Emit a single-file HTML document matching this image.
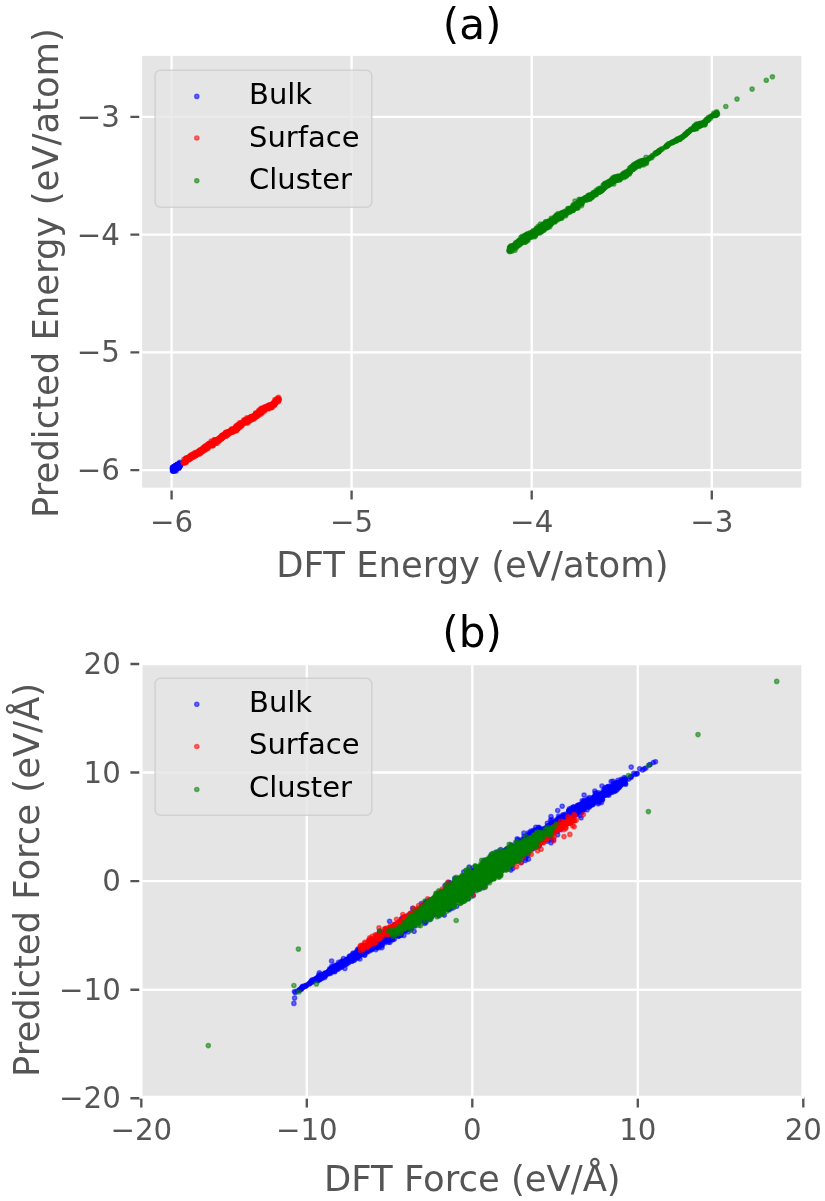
<!DOCTYPE html>
<html><head><meta charset="utf-8"><title>Parity plots</title>
<style>html,body{margin:0;padding:0;background:#fff;width:825px;height:1201px;overflow:hidden}svg{display:block}</style>
</head><body><svg width="825" height="1201" viewBox="0 0 825 1201" font-family="'DejaVu Sans', 'Liberation Sans', sans-serif"><rect width="825" height="1201" fill="#fff"/><rect x="140.7" y="54.4" width="662.1" height="434.7" fill="#e5e5e5"/><path d="M171.6 54.4V489.1M351.6 54.4V489.1M531.7 54.4V489.1M711.8 54.4V489.1M140.7 470.1H802.8M140.7 352.4H802.8M140.7 234.6H802.8M140.7 116.9H802.8" stroke="#fff" stroke-width="2.35" fill="none"/><path d="M171.6 489.1v10.3M351.6 489.1v10.3M531.7 489.1v10.3M711.8 489.1v10.3M140.7 470.1h-10.3M140.7 352.4h-10.3M140.7 234.6h-10.3M140.7 116.9h-10.3" stroke="#555" stroke-width="2.35" fill="none"/><g fill="#0000ff" fill-opacity="0.55" stroke="#0000ff" stroke-opacity="0.55" stroke-width="1.4"><circle cx="177.3" cy="464.4" r="2.1"/><circle cx="179.4" cy="465.7" r="2.1"/><circle cx="178.5" cy="466.8" r="2.1"/><circle cx="174.2" cy="468" r="2.1"/><circle cx="174.8" cy="466.3" r="2.1"/><circle cx="179.3" cy="466.8" r="2.1"/><circle cx="172.5" cy="469.7" r="2.1"/><circle cx="178.9" cy="466.1" r="2.1"/><circle cx="178.7" cy="467.5" r="2.1"/><circle cx="176.1" cy="466.3" r="2.1"/><circle cx="174.5" cy="469.1" r="2.1"/><circle cx="180.2" cy="465.8" r="2.1"/><circle cx="178.6" cy="466.9" r="2.1"/><circle cx="177.3" cy="464.8" r="2.1"/><circle cx="180.2" cy="465.1" r="2.1"/><circle cx="174.2" cy="468.1" r="2.1"/><circle cx="173.7" cy="468.7" r="2.1"/><circle cx="172.8" cy="469.9" r="2.1"/><circle cx="172.8" cy="468.6" r="2.1"/><circle cx="179.6" cy="464.8" r="2.1"/><circle cx="177.4" cy="464.9" r="2.1"/><circle cx="176.5" cy="466.1" r="2.1"/><circle cx="172.6" cy="471.1" r="2.1"/><circle cx="174" cy="467.4" r="2.1"/><circle cx="177.9" cy="464.9" r="2.1"/><circle cx="175.4" cy="467" r="2.1"/><circle cx="172.5" cy="468.6" r="2.1"/><circle cx="178.9" cy="464.3" r="2.1"/><circle cx="173.7" cy="467.6" r="2.1"/><circle cx="179.3" cy="463.3" r="2.1"/><circle cx="176.4" cy="468.4" r="2.1"/><circle cx="179.1" cy="464.2" r="2.1"/><circle cx="177.5" cy="465.7" r="2.1"/><circle cx="178.2" cy="464.7" r="2.1"/><circle cx="173.2" cy="466.8" r="2.1"/><circle cx="176.7" cy="465" r="2.1"/><circle cx="176.4" cy="468.3" r="2.1"/><circle cx="179.2" cy="467.1" r="2.1"/><circle cx="175.3" cy="466.7" r="2.1"/><circle cx="177.1" cy="467.7" r="2.1"/><circle cx="173" cy="469.2" r="2.1"/><circle cx="175.5" cy="466.6" r="2.1"/><circle cx="175" cy="469.8" r="2.1"/><circle cx="173.7" cy="471.2" r="2.1"/><circle cx="178.8" cy="465.1" r="2.1"/><circle cx="180.1" cy="464.8" r="2.1"/><circle cx="177.2" cy="467.5" r="2.1"/><circle cx="177.4" cy="468.1" r="2.1"/><circle cx="173.7" cy="469.9" r="2.1"/><circle cx="175.9" cy="469.2" r="2.1"/><circle cx="174.4" cy="467.7" r="2.1"/><circle cx="173.2" cy="468.5" r="2.1"/><circle cx="180" cy="465.8" r="2.1"/><circle cx="177.7" cy="467.3" r="2.1"/><circle cx="174.8" cy="469" r="2.1"/><circle cx="179.3" cy="464.8" r="2.1"/><circle cx="177.6" cy="467.1" r="2.1"/><circle cx="173.5" cy="468.4" r="2.1"/><circle cx="179" cy="464.8" r="2.1"/><circle cx="179.8" cy="462.3" r="2.1"/><circle cx="179.5" cy="466.6" r="2.1"/><circle cx="176.9" cy="465.6" r="2.1"/><circle cx="173.6" cy="468.9" r="2.1"/><circle cx="174" cy="468.5" r="2.1"/><circle cx="179.7" cy="466.5" r="2.1"/><circle cx="176.8" cy="467.2" r="2.1"/><circle cx="173.9" cy="467.7" r="2.1"/><circle cx="179.3" cy="465.1" r="2.1"/><circle cx="177.5" cy="466.2" r="2.1"/><circle cx="176.9" cy="467" r="2.1"/><circle cx="175.4" cy="466.2" r="2.1"/><circle cx="174.4" cy="470.9" r="2.1"/><circle cx="172.8" cy="470.1" r="2.1"/><circle cx="179.3" cy="467.4" r="2.1"/><circle cx="176.1" cy="471" r="2.1"/><circle cx="176.7" cy="467.4" r="2.1"/><circle cx="175" cy="466.3" r="2.1"/><circle cx="178.3" cy="465.6" r="2.1"/><circle cx="172.7" cy="470.8" r="2.1"/><circle cx="175.4" cy="468.7" r="2.1"/><circle cx="172.7" cy="468" r="2.1"/><circle cx="173.5" cy="468.7" r="2.1"/><circle cx="180" cy="464.5" r="2.1"/><circle cx="177.6" cy="466.2" r="2.1"/><circle cx="176.6" cy="465.9" r="2.1"/><circle cx="179.3" cy="464.4" r="2.1"/><circle cx="177.1" cy="467.7" r="2.1"/><circle cx="177.8" cy="465.4" r="2.1"/><circle cx="175.3" cy="468.5" r="2.1"/><circle cx="176.5" cy="465.6" r="2.1"/><circle cx="178.4" cy="467.1" r="2.1"/><circle cx="179.5" cy="465.1" r="2.1"/><circle cx="173.7" cy="468.7" r="2.1"/><circle cx="179.7" cy="466.3" r="2.1"/><circle cx="172.5" cy="467.4" r="2.1"/><circle cx="178.3" cy="464" r="2.1"/><circle cx="178.8" cy="465.9" r="2.1"/><circle cx="173.6" cy="467.9" r="2.1"/><circle cx="175.7" cy="466.9" r="2.1"/><circle cx="178.8" cy="468.5" r="2.1"/><circle cx="172.6" cy="469.1" r="2.1"/><circle cx="177.4" cy="466.4" r="2.1"/><circle cx="178.6" cy="465.4" r="2.1"/><circle cx="176.5" cy="468.2" r="2.1"/><circle cx="178.1" cy="466.1" r="2.1"/><circle cx="174.3" cy="468.6" r="2.1"/><circle cx="174" cy="467.1" r="2.1"/><circle cx="175.3" cy="467.3" r="2.1"/><circle cx="173.9" cy="468.6" r="2.1"/><circle cx="175.2" cy="465.9" r="2.1"/><circle cx="179.8" cy="465.4" r="2.1"/><circle cx="176.9" cy="467.1" r="2.1"/><circle cx="175.1" cy="469.9" r="2.1"/><circle cx="174.6" cy="466.3" r="2.1"/><circle cx="179.9" cy="463.5" r="2.1"/><circle cx="175.9" cy="466.2" r="2.1"/><circle cx="180.1" cy="463.8" r="2.1"/><circle cx="176.5" cy="466.8" r="2.1"/><circle cx="176.5" cy="466.6" r="2.1"/><circle cx="179.4" cy="465.3" r="2.1"/><circle cx="178.3" cy="466" r="2.1"/><circle cx="177" cy="466.5" r="2.1"/><circle cx="175.8" cy="465.6" r="2.1"/><circle cx="179.3" cy="464.4" r="2.1"/><circle cx="175.7" cy="467.5" r="2.1"/><circle cx="179.6" cy="465.5" r="2.1"/><circle cx="173" cy="469.9" r="2.1"/><circle cx="175.8" cy="465.4" r="2.1"/><circle cx="176.5" cy="466.3" r="2.1"/><circle cx="179.9" cy="464.6" r="2.1"/><circle cx="174.4" cy="468.6" r="2.1"/><circle cx="178.7" cy="466.7" r="2.1"/><circle cx="177.7" cy="466.2" r="2.1"/><circle cx="178.1" cy="464.8" r="2.1"/><circle cx="177.4" cy="466.8" r="2.1"/><circle cx="180" cy="464.9" r="2.1"/><circle cx="175.1" cy="468.1" r="2.1"/><circle cx="175.6" cy="467.4" r="2.1"/><circle cx="174.1" cy="470.3" r="2.1"/><circle cx="172.9" cy="469.5" r="2.1"/></g><g fill="#ff0000" fill-opacity="0.55" stroke="#ff0000" stroke-opacity="0.55" stroke-width="1.4"><circle cx="251.6" cy="417.1" r="2.1"/><circle cx="262.4" cy="409" r="2.1"/><circle cx="271.6" cy="404.7" r="2.1"/><circle cx="194.8" cy="452.6" r="2.1"/><circle cx="191.8" cy="457.4" r="2.1"/><circle cx="278.1" cy="399.4" r="2.1"/><circle cx="194.2" cy="455.7" r="2.1"/><circle cx="200" cy="449.9" r="2.1"/><circle cx="238.3" cy="424.9" r="2.1"/><circle cx="225.9" cy="436.2" r="2.1"/><circle cx="255.2" cy="416.7" r="2.1"/><circle cx="201.3" cy="450.2" r="2.1"/><circle cx="271" cy="404.8" r="2.1"/><circle cx="203.9" cy="448.1" r="2.1"/><circle cx="189.5" cy="457.5" r="2.1"/><circle cx="228.5" cy="431.9" r="2.1"/><circle cx="186.1" cy="460.5" r="2.1"/><circle cx="213.2" cy="442" r="2.1"/><circle cx="213" cy="445.5" r="2.1"/><circle cx="252.3" cy="417" r="2.1"/><circle cx="226.8" cy="434.7" r="2.1"/><circle cx="188.4" cy="457.7" r="2.1"/><circle cx="278.8" cy="399.9" r="2.1"/><circle cx="268.5" cy="408" r="2.1"/><circle cx="271.2" cy="405.1" r="2.1"/><circle cx="206.7" cy="447.7" r="2.1"/><circle cx="220.9" cy="438.9" r="2.1"/><circle cx="204.8" cy="449.8" r="2.1"/><circle cx="195" cy="455" r="2.1"/><circle cx="186.1" cy="459.9" r="2.1"/><circle cx="231.4" cy="430" r="2.1"/><circle cx="194.8" cy="455.2" r="2.1"/><circle cx="199.9" cy="450.8" r="2.1"/><circle cx="265.8" cy="408.3" r="2.1"/><circle cx="229.6" cy="432.1" r="2.1"/><circle cx="200.6" cy="450.8" r="2.1"/><circle cx="247.5" cy="419.1" r="2.1"/><circle cx="208.6" cy="445.9" r="2.1"/><circle cx="233.7" cy="430.2" r="2.1"/><circle cx="210.2" cy="444.7" r="2.1"/><circle cx="232.7" cy="430.4" r="2.1"/><circle cx="243.5" cy="423.6" r="2.1"/><circle cx="234.6" cy="428.3" r="2.1"/><circle cx="221.1" cy="438.2" r="2.1"/><circle cx="259.1" cy="412.2" r="2.1"/><circle cx="267.1" cy="408.6" r="2.1"/><circle cx="200.2" cy="451.4" r="2.1"/><circle cx="196.1" cy="453.9" r="2.1"/><circle cx="193.8" cy="455.9" r="2.1"/><circle cx="277.3" cy="398.7" r="2.1"/><circle cx="273.6" cy="403.5" r="2.1"/><circle cx="205.2" cy="446" r="2.1"/><circle cx="276.4" cy="400.6" r="2.1"/><circle cx="203" cy="450.3" r="2.1"/><circle cx="231.7" cy="431.4" r="2.1"/><circle cx="230.9" cy="430.9" r="2.1"/><circle cx="271.1" cy="405.6" r="2.1"/><circle cx="186.8" cy="459.8" r="2.1"/><circle cx="213.3" cy="443.3" r="2.1"/><circle cx="240.7" cy="426.7" r="2.1"/><circle cx="189.3" cy="458.3" r="2.1"/><circle cx="205.7" cy="449.8" r="2.1"/><circle cx="227.7" cy="432.6" r="2.1"/><circle cx="267.8" cy="408.2" r="2.1"/><circle cx="256.2" cy="415.7" r="2.1"/><circle cx="262.8" cy="410.2" r="2.1"/><circle cx="251.1" cy="419.9" r="2.1"/><circle cx="264.8" cy="410.7" r="2.1"/><circle cx="248.6" cy="420.8" r="2.1"/><circle cx="253.8" cy="418.9" r="2.1"/><circle cx="212" cy="444.7" r="2.1"/><circle cx="199.1" cy="450.8" r="2.1"/><circle cx="255.8" cy="416.4" r="2.1"/><circle cx="198.9" cy="452" r="2.1"/><circle cx="271.5" cy="406.8" r="2.1"/><circle cx="240.4" cy="424.7" r="2.1"/><circle cx="214.7" cy="442.6" r="2.1"/><circle cx="273.2" cy="404.3" r="2.1"/><circle cx="197.9" cy="452.7" r="2.1"/><circle cx="232.5" cy="428.7" r="2.1"/><circle cx="191.8" cy="456.4" r="2.1"/><circle cx="275.9" cy="401.9" r="2.1"/><circle cx="238.4" cy="427.7" r="2.1"/><circle cx="260.4" cy="411.1" r="2.1"/><circle cx="210.1" cy="444.9" r="2.1"/><circle cx="260.2" cy="410.9" r="2.1"/><circle cx="244.9" cy="419.8" r="2.1"/><circle cx="274.5" cy="405.3" r="2.1"/><circle cx="224.7" cy="435.2" r="2.1"/><circle cx="222.9" cy="435.3" r="2.1"/><circle cx="249.6" cy="419.5" r="2.1"/><circle cx="263.4" cy="410.5" r="2.1"/><circle cx="215.2" cy="442.2" r="2.1"/><circle cx="247.4" cy="421.7" r="2.1"/><circle cx="203.1" cy="449.4" r="2.1"/><circle cx="236.1" cy="425.8" r="2.1"/><circle cx="257" cy="413.1" r="2.1"/><circle cx="189.2" cy="459.3" r="2.1"/><circle cx="253.1" cy="418.1" r="2.1"/><circle cx="184.4" cy="462.2" r="2.1"/><circle cx="275.3" cy="401.5" r="2.1"/><circle cx="228.1" cy="433.7" r="2.1"/><circle cx="222.3" cy="437.5" r="2.1"/><circle cx="252.3" cy="416.7" r="2.1"/><circle cx="233.4" cy="429.2" r="2.1"/><circle cx="253.3" cy="417.4" r="2.1"/><circle cx="191.1" cy="458.1" r="2.1"/><circle cx="237.2" cy="429.3" r="2.1"/><circle cx="236.7" cy="428.7" r="2.1"/><circle cx="272.7" cy="406.9" r="2.1"/><circle cx="186.8" cy="459.1" r="2.1"/><circle cx="226.6" cy="434.4" r="2.1"/><circle cx="243.7" cy="422" r="2.1"/><circle cx="236" cy="426.5" r="2.1"/><circle cx="190.1" cy="456.3" r="2.1"/><circle cx="240.1" cy="426.5" r="2.1"/><circle cx="204.3" cy="447.6" r="2.1"/><circle cx="201.8" cy="449.3" r="2.1"/><circle cx="267.6" cy="408.3" r="2.1"/><circle cx="202" cy="451.4" r="2.1"/><circle cx="226.7" cy="433.7" r="2.1"/><circle cx="255.2" cy="417.4" r="2.1"/><circle cx="251.1" cy="416.8" r="2.1"/><circle cx="236.3" cy="430.8" r="2.1"/><circle cx="260.7" cy="412.6" r="2.1"/><circle cx="227.8" cy="433.2" r="2.1"/><circle cx="242.7" cy="423.5" r="2.1"/><circle cx="261.8" cy="410.5" r="2.1"/><circle cx="248.3" cy="419.5" r="2.1"/><circle cx="244.8" cy="422" r="2.1"/><circle cx="222.1" cy="435.8" r="2.1"/><circle cx="236.7" cy="430.2" r="2.1"/><circle cx="221.1" cy="437.7" r="2.1"/><circle cx="254.6" cy="416.9" r="2.1"/><circle cx="219.6" cy="438.8" r="2.1"/><circle cx="227.9" cy="432.7" r="2.1"/><circle cx="255.7" cy="416.3" r="2.1"/><circle cx="231.5" cy="431.8" r="2.1"/><circle cx="215.5" cy="440.9" r="2.1"/><circle cx="262.6" cy="409.8" r="2.1"/><circle cx="219.6" cy="439.6" r="2.1"/><circle cx="264.3" cy="407" r="2.1"/><circle cx="258.6" cy="410.6" r="2.1"/><circle cx="226" cy="435.6" r="2.1"/><circle cx="251.6" cy="417.8" r="2.1"/><circle cx="186.3" cy="457.7" r="2.1"/><circle cx="220.5" cy="437.4" r="2.1"/><circle cx="265.8" cy="408.1" r="2.1"/><circle cx="238.8" cy="426.6" r="2.1"/><circle cx="236.7" cy="428.6" r="2.1"/><circle cx="247" cy="420.7" r="2.1"/><circle cx="248.2" cy="420.4" r="2.1"/><circle cx="239.2" cy="425.3" r="2.1"/><circle cx="223.5" cy="436.3" r="2.1"/><circle cx="200.6" cy="451.9" r="2.1"/><circle cx="211.1" cy="445.4" r="2.1"/><circle cx="211.2" cy="444.1" r="2.1"/><circle cx="224.4" cy="436.1" r="2.1"/><circle cx="279.2" cy="399.6" r="2.1"/><circle cx="216.9" cy="439.8" r="2.1"/><circle cx="218.7" cy="439.1" r="2.1"/><circle cx="239" cy="425.8" r="2.1"/><circle cx="274.3" cy="403.3" r="2.1"/><circle cx="268.6" cy="407.1" r="2.1"/><circle cx="219.3" cy="439.5" r="2.1"/><circle cx="208.7" cy="444.7" r="2.1"/><circle cx="268.1" cy="408.4" r="2.1"/><circle cx="230.5" cy="430.2" r="2.1"/><circle cx="249" cy="419.4" r="2.1"/><circle cx="190" cy="458.4" r="2.1"/><circle cx="266.4" cy="408.6" r="2.1"/><circle cx="213.1" cy="443.8" r="2.1"/><circle cx="230.6" cy="431.4" r="2.1"/><circle cx="202" cy="451.1" r="2.1"/><circle cx="223.4" cy="434.7" r="2.1"/><circle cx="262.7" cy="410.9" r="2.1"/><circle cx="262.7" cy="412.5" r="2.1"/><circle cx="228.6" cy="433.3" r="2.1"/><circle cx="256.9" cy="416.5" r="2.1"/><circle cx="227.1" cy="433.4" r="2.1"/><circle cx="218.9" cy="438.4" r="2.1"/><circle cx="235.5" cy="428.1" r="2.1"/><circle cx="202.3" cy="451.5" r="2.1"/><circle cx="213.4" cy="443.7" r="2.1"/><circle cx="251" cy="416.5" r="2.1"/><circle cx="257.2" cy="413.9" r="2.1"/><circle cx="188.4" cy="458.7" r="2.1"/><circle cx="253.5" cy="415.8" r="2.1"/><circle cx="261.7" cy="408.1" r="2.1"/><circle cx="225.8" cy="432.8" r="2.1"/><circle cx="189" cy="458.2" r="2.1"/><circle cx="248.7" cy="419.2" r="2.1"/><circle cx="206.7" cy="446.1" r="2.1"/><circle cx="244.9" cy="422.4" r="2.1"/><circle cx="219.2" cy="440.4" r="2.1"/><circle cx="244.3" cy="422" r="2.1"/><circle cx="207.8" cy="447" r="2.1"/><circle cx="228.8" cy="432.5" r="2.1"/><circle cx="233.5" cy="430" r="2.1"/><circle cx="243.7" cy="420" r="2.1"/><circle cx="202.5" cy="450.9" r="2.1"/><circle cx="275.6" cy="402.4" r="2.1"/><circle cx="210.8" cy="444.4" r="2.1"/><circle cx="212.4" cy="443" r="2.1"/><circle cx="207.6" cy="445" r="2.1"/><circle cx="189.4" cy="458.5" r="2.1"/><circle cx="223.7" cy="436.6" r="2.1"/><circle cx="257.3" cy="415.8" r="2.1"/><circle cx="251.3" cy="419.2" r="2.1"/><circle cx="201.8" cy="450" r="2.1"/><circle cx="196.1" cy="454.3" r="2.1"/><circle cx="213.9" cy="443.8" r="2.1"/><circle cx="256.9" cy="414.8" r="2.1"/><circle cx="230" cy="431.8" r="2.1"/><circle cx="271.9" cy="404.6" r="2.1"/><circle cx="246.2" cy="421.6" r="2.1"/><circle cx="242.8" cy="423.5" r="2.1"/><circle cx="256.9" cy="416.3" r="2.1"/><circle cx="255.2" cy="416.9" r="2.1"/><circle cx="216.1" cy="439.7" r="2.1"/><circle cx="207.7" cy="448.4" r="2.1"/><circle cx="225.1" cy="435" r="2.1"/><circle cx="230.1" cy="431.6" r="2.1"/><circle cx="196.6" cy="454.5" r="2.1"/><circle cx="225.5" cy="435.3" r="2.1"/><circle cx="244.6" cy="422" r="2.1"/><circle cx="196" cy="454.4" r="2.1"/><circle cx="196.2" cy="454.4" r="2.1"/><circle cx="199.7" cy="454.1" r="2.1"/><circle cx="210.2" cy="444.7" r="2.1"/><circle cx="275.6" cy="403.2" r="2.1"/><circle cx="185.4" cy="461.6" r="2.1"/><circle cx="200.6" cy="451.2" r="2.1"/><circle cx="198.8" cy="452" r="2.1"/><circle cx="228.6" cy="431.6" r="2.1"/><circle cx="184.4" cy="462.3" r="2.1"/><circle cx="227.1" cy="432.4" r="2.1"/><circle cx="198.6" cy="451.6" r="2.1"/><circle cx="208.9" cy="444.1" r="2.1"/><circle cx="259.3" cy="411" r="2.1"/><circle cx="200.7" cy="451.6" r="2.1"/><circle cx="242.4" cy="423.7" r="2.1"/><circle cx="222.1" cy="436.1" r="2.1"/><circle cx="223.2" cy="437.5" r="2.1"/><circle cx="261.6" cy="410.6" r="2.1"/><circle cx="198.4" cy="453.5" r="2.1"/><circle cx="271.9" cy="405.5" r="2.1"/><circle cx="269" cy="408.6" r="2.1"/><circle cx="247.3" cy="421.3" r="2.1"/><circle cx="187.7" cy="459.2" r="2.1"/><circle cx="246.8" cy="419.6" r="2.1"/><circle cx="240.8" cy="423.7" r="2.1"/><circle cx="257.3" cy="414.2" r="2.1"/><circle cx="203.5" cy="449.3" r="2.1"/><circle cx="274.8" cy="403.8" r="2.1"/><circle cx="268.3" cy="406.7" r="2.1"/><circle cx="194" cy="455.7" r="2.1"/><circle cx="213.3" cy="442.3" r="2.1"/><circle cx="186.1" cy="458.6" r="2.1"/><circle cx="263" cy="409.9" r="2.1"/><circle cx="271.1" cy="407.2" r="2.1"/><circle cx="278.3" cy="401" r="2.1"/><circle cx="241.9" cy="425.4" r="2.1"/><circle cx="247.1" cy="421.7" r="2.1"/><circle cx="248.3" cy="418.4" r="2.1"/><circle cx="237.9" cy="426.9" r="2.1"/><circle cx="274.7" cy="404.6" r="2.1"/><circle cx="241.5" cy="423.5" r="2.1"/><circle cx="215.3" cy="440.6" r="2.1"/><circle cx="232.3" cy="431" r="2.1"/><circle cx="184.7" cy="462.3" r="2.1"/><circle cx="252.7" cy="417.8" r="2.1"/><circle cx="249.8" cy="418.7" r="2.1"/><circle cx="223.5" cy="435.1" r="2.1"/><circle cx="265" cy="407.5" r="2.1"/><circle cx="255.7" cy="414" r="2.1"/><circle cx="215.4" cy="440.6" r="2.1"/><circle cx="190.4" cy="455.9" r="2.1"/><circle cx="195.7" cy="453.9" r="2.1"/><circle cx="200.7" cy="453" r="2.1"/><circle cx="212.2" cy="443.7" r="2.1"/><circle cx="226.1" cy="433.7" r="2.1"/><circle cx="272.3" cy="405.2" r="2.1"/><circle cx="209.8" cy="443.9" r="2.1"/><circle cx="269.5" cy="406.9" r="2.1"/><circle cx="248.5" cy="420.7" r="2.1"/><circle cx="265.2" cy="407.1" r="2.1"/><circle cx="221.8" cy="436.5" r="2.1"/><circle cx="183.3" cy="462.5" r="2.1"/><circle cx="258.7" cy="412" r="2.1"/><circle cx="206.6" cy="445.7" r="2.1"/><circle cx="196.7" cy="453.7" r="2.1"/><circle cx="260" cy="414.6" r="2.1"/><circle cx="249.1" cy="420.1" r="2.1"/><circle cx="203.4" cy="449.7" r="2.1"/><circle cx="208.7" cy="446.5" r="2.1"/><circle cx="273.4" cy="403.8" r="2.1"/><circle cx="208.8" cy="444.1" r="2.1"/><circle cx="250.6" cy="419.1" r="2.1"/><circle cx="195.4" cy="455.9" r="2.1"/><circle cx="261.5" cy="408.7" r="2.1"/><circle cx="194.3" cy="455.8" r="2.1"/><circle cx="232.7" cy="431.8" r="2.1"/><circle cx="186.3" cy="460" r="2.1"/><circle cx="235.9" cy="428.1" r="2.1"/><circle cx="264.5" cy="409.8" r="2.1"/><circle cx="191.1" cy="456.1" r="2.1"/><circle cx="209.4" cy="445.6" r="2.1"/><circle cx="256.6" cy="415.6" r="2.1"/><circle cx="241.5" cy="424" r="2.1"/><circle cx="213.1" cy="442.3" r="2.1"/><circle cx="243.5" cy="423.3" r="2.1"/><circle cx="226.7" cy="433.2" r="2.1"/><circle cx="266" cy="408.3" r="2.1"/><circle cx="211.2" cy="441.1" r="2.1"/><circle cx="255.9" cy="415.9" r="2.1"/><circle cx="244.2" cy="420.7" r="2.1"/><circle cx="254.3" cy="416.5" r="2.1"/><circle cx="219.4" cy="439.2" r="2.1"/><circle cx="252.8" cy="416.6" r="2.1"/><circle cx="250.2" cy="417.9" r="2.1"/><circle cx="220.3" cy="437.1" r="2.1"/><circle cx="185.5" cy="460.6" r="2.1"/><circle cx="275.7" cy="402.8" r="2.1"/><circle cx="251.7" cy="418.6" r="2.1"/><circle cx="202.7" cy="449.3" r="2.1"/><circle cx="253.3" cy="416.4" r="2.1"/><circle cx="209.8" cy="443.3" r="2.1"/><circle cx="228.1" cy="432.3" r="2.1"/><circle cx="265.8" cy="407.2" r="2.1"/><circle cx="226.1" cy="432.4" r="2.1"/><circle cx="210.7" cy="444.1" r="2.1"/><circle cx="212.4" cy="445" r="2.1"/><circle cx="190.4" cy="458.6" r="2.1"/><circle cx="204.1" cy="450.2" r="2.1"/><circle cx="209.1" cy="443.5" r="2.1"/><circle cx="199.6" cy="453.1" r="2.1"/><circle cx="189" cy="457" r="2.1"/><circle cx="227.8" cy="432.3" r="2.1"/><circle cx="203.6" cy="447.3" r="2.1"/><circle cx="254.1" cy="415.4" r="2.1"/><circle cx="271.8" cy="405.3" r="2.1"/><circle cx="209.2" cy="445.3" r="2.1"/><circle cx="238.1" cy="426.8" r="2.1"/><circle cx="231.8" cy="430.8" r="2.1"/><circle cx="190.2" cy="458.1" r="2.1"/><circle cx="195" cy="455" r="2.1"/><circle cx="268.2" cy="405.5" r="2.1"/><circle cx="228.6" cy="434.3" r="2.1"/><circle cx="260.4" cy="411.3" r="2.1"/><circle cx="189.4" cy="459" r="2.1"/><circle cx="240.2" cy="425" r="2.1"/><circle cx="266.3" cy="407.2" r="2.1"/><circle cx="266.5" cy="408.1" r="2.1"/><circle cx="183.5" cy="461.7" r="2.1"/><circle cx="233.2" cy="431.9" r="2.1"/><circle cx="218.5" cy="438.6" r="2.1"/><circle cx="256.2" cy="415.6" r="2.1"/><circle cx="190" cy="457" r="2.1"/><circle cx="208.5" cy="445.4" r="2.1"/><circle cx="261.2" cy="413.8" r="2.1"/><circle cx="228.2" cy="433.6" r="2.1"/><circle cx="226.6" cy="433.4" r="2.1"/><circle cx="276.2" cy="400.1" r="2.1"/><circle cx="213.8" cy="442.4" r="2.1"/><circle cx="187" cy="459.5" r="2.1"/><circle cx="220.7" cy="439.5" r="2.1"/><circle cx="197.7" cy="451.9" r="2.1"/><circle cx="190.8" cy="455.2" r="2.1"/><circle cx="237.6" cy="427.2" r="2.1"/><circle cx="274.8" cy="403.2" r="2.1"/><circle cx="238.8" cy="428.1" r="2.1"/><circle cx="245.3" cy="420.5" r="2.1"/><circle cx="214.1" cy="439.7" r="2.1"/><circle cx="238" cy="426.3" r="2.1"/><circle cx="255.4" cy="414.2" r="2.1"/><circle cx="239.7" cy="425" r="2.1"/><circle cx="260.3" cy="412.8" r="2.1"/><circle cx="236" cy="427.1" r="2.1"/><circle cx="202" cy="451.7" r="2.1"/><circle cx="239.1" cy="426.3" r="2.1"/><circle cx="230.2" cy="431.4" r="2.1"/><circle cx="198.9" cy="451.7" r="2.1"/><circle cx="242.6" cy="422.9" r="2.1"/><circle cx="261.6" cy="410.4" r="2.1"/><circle cx="196" cy="455.2" r="2.1"/><circle cx="235.4" cy="430.2" r="2.1"/><circle cx="253.6" cy="416.8" r="2.1"/><circle cx="221.8" cy="438" r="2.1"/><circle cx="209" cy="446.7" r="2.1"/><circle cx="218.8" cy="440.9" r="2.1"/><circle cx="235.1" cy="429.6" r="2.1"/><circle cx="249.1" cy="421.4" r="2.1"/><circle cx="236.8" cy="429.3" r="2.1"/><circle cx="193.3" cy="457.5" r="2.1"/><circle cx="261.7" cy="410.5" r="2.1"/><circle cx="271.9" cy="404.6" r="2.1"/><circle cx="192.7" cy="454" r="2.1"/><circle cx="207" cy="448.1" r="2.1"/><circle cx="199.7" cy="452.8" r="2.1"/><circle cx="264.7" cy="407.9" r="2.1"/><circle cx="270.6" cy="406.1" r="2.1"/><circle cx="187.2" cy="459.9" r="2.1"/><circle cx="215" cy="440.3" r="2.1"/><circle cx="201.5" cy="451.1" r="2.1"/><circle cx="228.2" cy="434" r="2.1"/><circle cx="271.7" cy="406.6" r="2.1"/><circle cx="189.7" cy="457.4" r="2.1"/><circle cx="199.4" cy="452" r="2.1"/><circle cx="229.9" cy="433.3" r="2.1"/><circle cx="233.4" cy="431.1" r="2.1"/><circle cx="254.8" cy="415.5" r="2.1"/><circle cx="225.1" cy="434" r="2.1"/><circle cx="196.5" cy="454.8" r="2.1"/><circle cx="217" cy="440.2" r="2.1"/><circle cx="277.5" cy="400.1" r="2.1"/><circle cx="255.3" cy="417.6" r="2.1"/><circle cx="194.2" cy="455.7" r="2.1"/><circle cx="260.8" cy="410.9" r="2.1"/><circle cx="212.9" cy="443.8" r="2.1"/><circle cx="258.2" cy="415.6" r="2.1"/><circle cx="184.2" cy="462.3" r="2.1"/><circle cx="266.9" cy="407" r="2.1"/><circle cx="198.6" cy="451.2" r="2.1"/><circle cx="226.8" cy="435.8" r="2.1"/><circle cx="246.7" cy="417.9" r="2.1"/><circle cx="231.9" cy="432.1" r="2.1"/><circle cx="198.9" cy="451.7" r="2.1"/><circle cx="196.3" cy="452.9" r="2.1"/><circle cx="210.4" cy="443.5" r="2.1"/><circle cx="188" cy="458.8" r="2.1"/><circle cx="203.8" cy="450.2" r="2.1"/><circle cx="195.5" cy="454" r="2.1"/><circle cx="227.7" cy="433.8" r="2.1"/><circle cx="217.3" cy="443.3" r="2.1"/><circle cx="239.5" cy="422.8" r="2.1"/><circle cx="210" cy="443.9" r="2.1"/><circle cx="186.2" cy="458.4" r="2.1"/><circle cx="214.8" cy="443.1" r="2.1"/><circle cx="255.7" cy="413.8" r="2.1"/><circle cx="207.6" cy="444.4" r="2.1"/><circle cx="221.9" cy="435.4" r="2.1"/><circle cx="255.7" cy="415.4" r="2.1"/><circle cx="222.1" cy="438.2" r="2.1"/><circle cx="268.4" cy="407.3" r="2.1"/><circle cx="271.4" cy="407.8" r="2.1"/><circle cx="212.9" cy="445" r="2.1"/><circle cx="253.8" cy="416.6" r="2.1"/><circle cx="207.3" cy="447.4" r="2.1"/><circle cx="196.4" cy="454.4" r="2.1"/><circle cx="225.1" cy="434.7" r="2.1"/><circle cx="241" cy="422.5" r="2.1"/><circle cx="273.1" cy="402.9" r="2.1"/><circle cx="197" cy="453.9" r="2.1"/><circle cx="251.6" cy="416.8" r="2.1"/><circle cx="228.7" cy="433.3" r="2.1"/><circle cx="195.6" cy="454.9" r="2.1"/><circle cx="276.6" cy="400.5" r="2.1"/><circle cx="250" cy="420.3" r="2.1"/><circle cx="195.4" cy="455" r="2.1"/><circle cx="270.2" cy="407.5" r="2.1"/><circle cx="192.9" cy="455.9" r="2.1"/><circle cx="191.9" cy="454.8" r="2.1"/><circle cx="214.9" cy="442.9" r="2.1"/><circle cx="273.3" cy="403.9" r="2.1"/><circle cx="186.1" cy="461.4" r="2.1"/><circle cx="271.4" cy="406.6" r="2.1"/><circle cx="241.9" cy="425.2" r="2.1"/><circle cx="189.4" cy="456.5" r="2.1"/><circle cx="237.7" cy="424.7" r="2.1"/><circle cx="227.1" cy="432.8" r="2.1"/><circle cx="237.3" cy="428.3" r="2.1"/><circle cx="254" cy="415.9" r="2.1"/><circle cx="248.3" cy="420.2" r="2.1"/><circle cx="279" cy="398.6" r="2.1"/><circle cx="198" cy="452.9" r="2.1"/><circle cx="261.2" cy="410.7" r="2.1"/><circle cx="222.5" cy="435.9" r="2.1"/><circle cx="258.4" cy="413.8" r="2.1"/><circle cx="268.8" cy="407.3" r="2.1"/><circle cx="278.5" cy="401.7" r="2.1"/><circle cx="208.6" cy="446" r="2.1"/><circle cx="226.6" cy="435.2" r="2.1"/><circle cx="273.8" cy="403.9" r="2.1"/><circle cx="274" cy="404.6" r="2.1"/><circle cx="218.9" cy="439.4" r="2.1"/><circle cx="273.5" cy="403.5" r="2.1"/><circle cx="222" cy="438.5" r="2.1"/><circle cx="219" cy="440.2" r="2.1"/><circle cx="255.8" cy="416.3" r="2.1"/><circle cx="228.3" cy="431.9" r="2.1"/><circle cx="226.1" cy="432.2" r="2.1"/><circle cx="220.1" cy="437.6" r="2.1"/><circle cx="224.6" cy="435.3" r="2.1"/><circle cx="196.4" cy="452.6" r="2.1"/><circle cx="188.8" cy="460" r="2.1"/><circle cx="255.6" cy="413.9" r="2.1"/><circle cx="237.3" cy="428.2" r="2.1"/><circle cx="247.7" cy="423.1" r="2.1"/><circle cx="260.2" cy="409" r="2.1"/><circle cx="205.1" cy="446.2" r="2.1"/><circle cx="205.5" cy="448.7" r="2.1"/><circle cx="209.7" cy="444.7" r="2.1"/><circle cx="212.2" cy="443.8" r="2.1"/><circle cx="256.2" cy="414.8" r="2.1"/><circle cx="219" cy="441" r="2.1"/><circle cx="214.1" cy="443.3" r="2.1"/><circle cx="244.2" cy="421.6" r="2.1"/><circle cx="200.9" cy="451" r="2.1"/><circle cx="193.2" cy="454.6" r="2.1"/><circle cx="250.1" cy="418.8" r="2.1"/><circle cx="255.8" cy="412.8" r="2.1"/><circle cx="211.5" cy="444.7" r="2.1"/><circle cx="244.2" cy="421.9" r="2.1"/><circle cx="186.2" cy="462.4" r="2.1"/><circle cx="221.9" cy="438.4" r="2.1"/><circle cx="238.6" cy="425.1" r="2.1"/><circle cx="207.4" cy="447.3" r="2.1"/><circle cx="216.5" cy="440.6" r="2.1"/><circle cx="241.7" cy="424.1" r="2.1"/><circle cx="239.8" cy="426.7" r="2.1"/><circle cx="197.8" cy="453.7" r="2.1"/><circle cx="251" cy="419" r="2.1"/><circle cx="190.7" cy="457.7" r="2.1"/><circle cx="276.4" cy="400.9" r="2.1"/><circle cx="202.4" cy="449.3" r="2.1"/><circle cx="207.4" cy="446.9" r="2.1"/><circle cx="202.2" cy="451.1" r="2.1"/><circle cx="278.5" cy="399.6" r="2.1"/><circle cx="210.5" cy="444.5" r="2.1"/><circle cx="241.2" cy="423.3" r="2.1"/><circle cx="278.4" cy="397.2" r="2.1"/><circle cx="274.5" cy="402.3" r="2.1"/><circle cx="187" cy="459.7" r="2.1"/><circle cx="233.1" cy="430.4" r="2.1"/><circle cx="240.9" cy="425.6" r="2.1"/><circle cx="250.6" cy="419.6" r="2.1"/><circle cx="215.3" cy="443" r="2.1"/><circle cx="214.5" cy="442.8" r="2.1"/><circle cx="183.4" cy="463.1" r="2.1"/><circle cx="186.3" cy="459.5" r="2.1"/><circle cx="235.9" cy="428.9" r="2.1"/><circle cx="190.3" cy="457.7" r="2.1"/><circle cx="202.4" cy="451.3" r="2.1"/><circle cx="215" cy="440.3" r="2.1"/><circle cx="189.7" cy="457.2" r="2.1"/><circle cx="185.9" cy="458.7" r="2.1"/><circle cx="272.2" cy="404" r="2.1"/><circle cx="224.9" cy="433.2" r="2.1"/><circle cx="202.7" cy="450.1" r="2.1"/><circle cx="251.2" cy="417.5" r="2.1"/><circle cx="183.9" cy="459.4" r="2.1"/><circle cx="206.5" cy="448.1" r="2.1"/><circle cx="275.5" cy="401.1" r="2.1"/><circle cx="269.4" cy="404.8" r="2.1"/><circle cx="244.2" cy="421.7" r="2.1"/><circle cx="191.9" cy="455.7" r="2.1"/><circle cx="213.6" cy="441.5" r="2.1"/><circle cx="185.6" cy="461.5" r="2.1"/><circle cx="204.1" cy="448.3" r="2.1"/><circle cx="185.4" cy="461.9" r="2.1"/><circle cx="195.1" cy="455.6" r="2.1"/><circle cx="243.9" cy="423" r="2.1"/><circle cx="192.6" cy="456.3" r="2.1"/><circle cx="197.9" cy="453.1" r="2.1"/><circle cx="269.9" cy="405.8" r="2.1"/><circle cx="215.3" cy="443.5" r="2.1"/><circle cx="215" cy="439.9" r="2.1"/><circle cx="191.3" cy="455.6" r="2.1"/><circle cx="259.6" cy="411.5" r="2.1"/><circle cx="248.1" cy="420.3" r="2.1"/><circle cx="235.6" cy="428.8" r="2.1"/><circle cx="242.5" cy="422.8" r="2.1"/><circle cx="192.6" cy="455.7" r="2.1"/><circle cx="208" cy="447.7" r="2.1"/><circle cx="239.2" cy="425.2" r="2.1"/><circle cx="274.7" cy="399.9" r="2.1"/><circle cx="261.7" cy="412.8" r="2.1"/><circle cx="244.7" cy="420.8" r="2.1"/><circle cx="232.9" cy="430" r="2.1"/><circle cx="184.4" cy="461.9" r="2.1"/><circle cx="268.7" cy="405.4" r="2.1"/><circle cx="189.4" cy="459.3" r="2.1"/><circle cx="195.4" cy="454.5" r="2.1"/><circle cx="249.7" cy="417.5" r="2.1"/><circle cx="261.2" cy="411.3" r="2.1"/><circle cx="258.7" cy="413.4" r="2.1"/><circle cx="226.5" cy="433.6" r="2.1"/><circle cx="200" cy="452.4" r="2.1"/><circle cx="186.3" cy="458.6" r="2.1"/><circle cx="265" cy="409.8" r="2.1"/><circle cx="277.1" cy="400.1" r="2.1"/><circle cx="206.5" cy="448.3" r="2.1"/><circle cx="266.4" cy="407.3" r="2.1"/><circle cx="221.7" cy="437.4" r="2.1"/><circle cx="212.9" cy="446" r="2.1"/><circle cx="231.6" cy="431" r="2.1"/><circle cx="183.7" cy="463.5" r="2.1"/><circle cx="225.6" cy="434.8" r="2.1"/><circle cx="202.2" cy="448.6" r="2.1"/><circle cx="251.6" cy="419.3" r="2.1"/><circle cx="231.4" cy="432.3" r="2.1"/><circle cx="266.6" cy="406.4" r="2.1"/><circle cx="269.3" cy="406.5" r="2.1"/><circle cx="213.5" cy="441.2" r="2.1"/><circle cx="210" cy="444.4" r="2.1"/><circle cx="273.4" cy="405" r="2.1"/><circle cx="231.5" cy="431.2" r="2.1"/><circle cx="192.2" cy="455" r="2.1"/><circle cx="187.4" cy="458.4" r="2.1"/><circle cx="278.3" cy="400" r="2.1"/><circle cx="238.7" cy="426.3" r="2.1"/><circle cx="188.2" cy="459" r="2.1"/><circle cx="232.2" cy="431.4" r="2.1"/><circle cx="231.5" cy="429" r="2.1"/><circle cx="224.9" cy="434.8" r="2.1"/><circle cx="274.6" cy="404.3" r="2.1"/><circle cx="274.3" cy="403.8" r="2.1"/><circle cx="195" cy="454.1" r="2.1"/><circle cx="197.6" cy="452.8" r="2.1"/><circle cx="222.2" cy="437" r="2.1"/><circle cx="263.3" cy="410.4" r="2.1"/><circle cx="243" cy="423" r="2.1"/><circle cx="253.2" cy="418.9" r="2.1"/><circle cx="238.4" cy="428.1" r="2.1"/><circle cx="203.2" cy="448.6" r="2.1"/><circle cx="261.7" cy="411.2" r="2.1"/><circle cx="184.3" cy="461.5" r="2.1"/><circle cx="250.2" cy="417.5" r="2.1"/><circle cx="201.7" cy="449.9" r="2.1"/><circle cx="228.3" cy="432.7" r="2.1"/><circle cx="276.9" cy="398.9" r="2.1"/><circle cx="234.9" cy="428.5" r="2.1"/><circle cx="188.4" cy="459.1" r="2.1"/><circle cx="224.2" cy="434.5" r="2.1"/><circle cx="246.5" cy="420.3" r="2.1"/><circle cx="188.4" cy="459.6" r="2.1"/><circle cx="207.3" cy="446.3" r="2.1"/><circle cx="184.7" cy="461.7" r="2.1"/><circle cx="235" cy="431.3" r="2.1"/><circle cx="219.7" cy="439.1" r="2.1"/><circle cx="231.5" cy="431.4" r="2.1"/><circle cx="211.4" cy="444.4" r="2.1"/><circle cx="246.2" cy="422.7" r="2.1"/><circle cx="199.6" cy="452.6" r="2.1"/><circle cx="270.3" cy="406.1" r="2.1"/></g><g fill="#008000" fill-opacity="0.55" stroke="#008000" stroke-opacity="0.55" stroke-width="1.4"><circle cx="606.4" cy="184.5" r="2.1"/><circle cx="610.2" cy="181.9" r="2.1"/><circle cx="608.5" cy="181.5" r="2.1"/><circle cx="639.5" cy="161.9" r="2.1"/><circle cx="588.4" cy="198.8" r="2.1"/><circle cx="546.3" cy="227.3" r="2.1"/><circle cx="568.7" cy="208.6" r="2.1"/><circle cx="580.2" cy="199.9" r="2.1"/><circle cx="580.2" cy="201.5" r="2.1"/><circle cx="558.9" cy="217.8" r="2.1"/><circle cx="616.6" cy="176.9" r="2.1"/><circle cx="569.1" cy="209.6" r="2.1"/><circle cx="514" cy="245.4" r="2.1"/><circle cx="571.2" cy="208.7" r="2.1"/><circle cx="536.5" cy="230.1" r="2.1"/><circle cx="510.4" cy="247.6" r="2.1"/><circle cx="643.8" cy="160.6" r="2.1"/><circle cx="549.3" cy="224.9" r="2.1"/><circle cx="583" cy="199.6" r="2.1"/><circle cx="558.2" cy="213.5" r="2.1"/><circle cx="516" cy="245.9" r="2.1"/><circle cx="633.2" cy="167.7" r="2.1"/><circle cx="638" cy="163" r="2.1"/><circle cx="534.4" cy="231.4" r="2.1"/><circle cx="566.5" cy="211.3" r="2.1"/><circle cx="560.3" cy="218.5" r="2.1"/><circle cx="531.8" cy="233.6" r="2.1"/><circle cx="600.1" cy="191.8" r="2.1"/><circle cx="616.8" cy="179.9" r="2.1"/><circle cx="613.7" cy="179.7" r="2.1"/><circle cx="602" cy="189.2" r="2.1"/><circle cx="511.1" cy="246.6" r="2.1"/><circle cx="540.4" cy="224.1" r="2.1"/><circle cx="579.8" cy="201.4" r="2.1"/><circle cx="605.8" cy="184.9" r="2.1"/><circle cx="562.1" cy="216.2" r="2.1"/><circle cx="570.8" cy="210.6" r="2.1"/><circle cx="624.9" cy="176" r="2.1"/><circle cx="545.8" cy="227.2" r="2.1"/><circle cx="548.7" cy="224.4" r="2.1"/><circle cx="645.9" cy="160.8" r="2.1"/><circle cx="540.1" cy="231.2" r="2.1"/><circle cx="515.2" cy="247.9" r="2.1"/><circle cx="566.2" cy="214.6" r="2.1"/><circle cx="598.5" cy="190.9" r="2.1"/><circle cx="624.8" cy="173.4" r="2.1"/><circle cx="535.8" cy="230.5" r="2.1"/><circle cx="606" cy="186.1" r="2.1"/><circle cx="531" cy="233.8" r="2.1"/><circle cx="630.6" cy="171.8" r="2.1"/><circle cx="536.5" cy="228" r="2.1"/><circle cx="609.8" cy="181.4" r="2.1"/><circle cx="624.6" cy="175.1" r="2.1"/><circle cx="543.9" cy="228.7" r="2.1"/><circle cx="521.5" cy="240.7" r="2.1"/><circle cx="589.7" cy="199.2" r="2.1"/><circle cx="577.7" cy="205.6" r="2.1"/><circle cx="574.9" cy="205.2" r="2.1"/><circle cx="616.7" cy="178.8" r="2.1"/><circle cx="572.7" cy="209" r="2.1"/><circle cx="577.4" cy="203" r="2.1"/><circle cx="576" cy="207.3" r="2.1"/><circle cx="571.5" cy="208.6" r="2.1"/><circle cx="564.8" cy="214.1" r="2.1"/><circle cx="530.9" cy="236.3" r="2.1"/><circle cx="549.5" cy="222" r="2.1"/><circle cx="545.3" cy="227.4" r="2.1"/><circle cx="543" cy="224.4" r="2.1"/><circle cx="616.9" cy="179.5" r="2.1"/><circle cx="524.4" cy="235.9" r="2.1"/><circle cx="537.1" cy="233.3" r="2.1"/><circle cx="581.4" cy="200.5" r="2.1"/><circle cx="551.9" cy="223.1" r="2.1"/><circle cx="541.9" cy="230.5" r="2.1"/><circle cx="560.3" cy="215.5" r="2.1"/><circle cx="578.1" cy="202.9" r="2.1"/><circle cx="601.9" cy="190.5" r="2.1"/><circle cx="643.1" cy="160.4" r="2.1"/><circle cx="626.6" cy="174.4" r="2.1"/><circle cx="568.1" cy="211.1" r="2.1"/><circle cx="571.1" cy="208.7" r="2.1"/><circle cx="566.1" cy="211.5" r="2.1"/><circle cx="541.7" cy="231.4" r="2.1"/><circle cx="640.3" cy="161" r="2.1"/><circle cx="518.1" cy="242.7" r="2.1"/><circle cx="537" cy="232.2" r="2.1"/><circle cx="600.2" cy="191.5" r="2.1"/><circle cx="590.2" cy="198.8" r="2.1"/><circle cx="547.2" cy="226.7" r="2.1"/><circle cx="638.2" cy="163.4" r="2.1"/><circle cx="565.3" cy="213.5" r="2.1"/><circle cx="591.1" cy="197.6" r="2.1"/><circle cx="521.2" cy="242.4" r="2.1"/><circle cx="631.8" cy="166.8" r="2.1"/><circle cx="522.9" cy="240.8" r="2.1"/><circle cx="563.1" cy="215.1" r="2.1"/><circle cx="631.1" cy="167.7" r="2.1"/><circle cx="639.3" cy="162.9" r="2.1"/><circle cx="633.7" cy="167.2" r="2.1"/><circle cx="623.1" cy="176.5" r="2.1"/><circle cx="540.9" cy="231.5" r="2.1"/><circle cx="513.1" cy="248.7" r="2.1"/><circle cx="571.1" cy="210.1" r="2.1"/><circle cx="517.4" cy="244.5" r="2.1"/><circle cx="641.5" cy="162.1" r="2.1"/><circle cx="509.8" cy="247.9" r="2.1"/><circle cx="553.7" cy="219.6" r="2.1"/><circle cx="536.8" cy="231.3" r="2.1"/><circle cx="510.5" cy="250" r="2.1"/><circle cx="577.7" cy="207.8" r="2.1"/><circle cx="519.2" cy="243.8" r="2.1"/><circle cx="633.1" cy="168.9" r="2.1"/><circle cx="603.7" cy="188.3" r="2.1"/><circle cx="559.8" cy="216.5" r="2.1"/><circle cx="625" cy="176.1" r="2.1"/><circle cx="618.8" cy="179.3" r="2.1"/><circle cx="553.8" cy="220" r="2.1"/><circle cx="625.8" cy="173.8" r="2.1"/><circle cx="637.2" cy="165.5" r="2.1"/><circle cx="594.4" cy="193.6" r="2.1"/><circle cx="557.3" cy="218" r="2.1"/><circle cx="633.2" cy="168.9" r="2.1"/><circle cx="639" cy="163.6" r="2.1"/><circle cx="556.7" cy="214.9" r="2.1"/><circle cx="520.6" cy="243.1" r="2.1"/><circle cx="628.7" cy="170.1" r="2.1"/><circle cx="600.6" cy="188.1" r="2.1"/><circle cx="540.7" cy="226.6" r="2.1"/><circle cx="587" cy="199.3" r="2.1"/><circle cx="551.3" cy="218.2" r="2.1"/><circle cx="635.8" cy="165.5" r="2.1"/><circle cx="556" cy="218.9" r="2.1"/><circle cx="535.8" cy="232.6" r="2.1"/><circle cx="514.6" cy="244.9" r="2.1"/><circle cx="645.5" cy="161" r="2.1"/><circle cx="538.8" cy="228.2" r="2.1"/><circle cx="572" cy="209.9" r="2.1"/><circle cx="643.1" cy="163.3" r="2.1"/><circle cx="509.6" cy="247.6" r="2.1"/><circle cx="549.5" cy="221.6" r="2.1"/><circle cx="622.2" cy="174.8" r="2.1"/><circle cx="521.9" cy="242.8" r="2.1"/><circle cx="637" cy="163.4" r="2.1"/><circle cx="624.1" cy="174.6" r="2.1"/><circle cx="528.4" cy="233.5" r="2.1"/><circle cx="590.6" cy="198" r="2.1"/><circle cx="585.5" cy="198.7" r="2.1"/><circle cx="604.6" cy="187.2" r="2.1"/><circle cx="551.1" cy="224.3" r="2.1"/><circle cx="561.8" cy="216.1" r="2.1"/><circle cx="542" cy="226.4" r="2.1"/><circle cx="549" cy="223.9" r="2.1"/><circle cx="533" cy="235" r="2.1"/><circle cx="633.7" cy="166" r="2.1"/><circle cx="631.4" cy="167.9" r="2.1"/><circle cx="558.4" cy="215.3" r="2.1"/><circle cx="604.5" cy="187.9" r="2.1"/><circle cx="576.4" cy="205.4" r="2.1"/><circle cx="547.5" cy="222.5" r="2.1"/><circle cx="557" cy="218.9" r="2.1"/><circle cx="642.1" cy="163.3" r="2.1"/><circle cx="555.9" cy="217.2" r="2.1"/><circle cx="588.7" cy="195.3" r="2.1"/><circle cx="639.3" cy="165" r="2.1"/><circle cx="549.8" cy="226.8" r="2.1"/><circle cx="620.5" cy="179" r="2.1"/><circle cx="524.4" cy="240.8" r="2.1"/><circle cx="610.1" cy="182.9" r="2.1"/><circle cx="620.2" cy="176.5" r="2.1"/><circle cx="624.5" cy="175.1" r="2.1"/><circle cx="643.5" cy="162.6" r="2.1"/><circle cx="607" cy="184.8" r="2.1"/><circle cx="643.8" cy="162.8" r="2.1"/><circle cx="580.8" cy="203" r="2.1"/><circle cx="538.3" cy="226.3" r="2.1"/><circle cx="520.2" cy="240.9" r="2.1"/><circle cx="569.3" cy="211.9" r="2.1"/><circle cx="608.2" cy="185.4" r="2.1"/><circle cx="616.3" cy="179.6" r="2.1"/><circle cx="511" cy="250.7" r="2.1"/><circle cx="638.9" cy="164.7" r="2.1"/><circle cx="542.8" cy="228.8" r="2.1"/><circle cx="549.1" cy="221.6" r="2.1"/><circle cx="623.8" cy="175.9" r="2.1"/><circle cx="632.3" cy="169.4" r="2.1"/><circle cx="610.5" cy="184.2" r="2.1"/><circle cx="554.7" cy="221.2" r="2.1"/><circle cx="572.7" cy="208.3" r="2.1"/><circle cx="624.1" cy="175.4" r="2.1"/><circle cx="558.1" cy="215.3" r="2.1"/><circle cx="620" cy="178.2" r="2.1"/><circle cx="616.8" cy="177.5" r="2.1"/><circle cx="573.5" cy="207.2" r="2.1"/><circle cx="632.6" cy="168.1" r="2.1"/><circle cx="561.8" cy="218.2" r="2.1"/><circle cx="612.4" cy="182.9" r="2.1"/><circle cx="597.1" cy="191.4" r="2.1"/><circle cx="554.5" cy="217.1" r="2.1"/><circle cx="582.2" cy="200.6" r="2.1"/><circle cx="592.5" cy="194.4" r="2.1"/><circle cx="582.9" cy="201.2" r="2.1"/><circle cx="645.7" cy="161.5" r="2.1"/><circle cx="642.3" cy="161" r="2.1"/><circle cx="513.8" cy="245.8" r="2.1"/><circle cx="639.2" cy="163.9" r="2.1"/><circle cx="582.1" cy="201.6" r="2.1"/><circle cx="526" cy="237.1" r="2.1"/><circle cx="622.1" cy="175.9" r="2.1"/><circle cx="568.5" cy="212.4" r="2.1"/><circle cx="607.3" cy="182.5" r="2.1"/><circle cx="623" cy="175.5" r="2.1"/><circle cx="583.1" cy="200.4" r="2.1"/><circle cx="515.5" cy="242.9" r="2.1"/><circle cx="622.4" cy="174.8" r="2.1"/><circle cx="604.6" cy="186.9" r="2.1"/><circle cx="634.5" cy="165.8" r="2.1"/><circle cx="546" cy="227" r="2.1"/><circle cx="617.2" cy="179.5" r="2.1"/><circle cx="629.4" cy="173.9" r="2.1"/><circle cx="557.7" cy="215.3" r="2.1"/><circle cx="565.4" cy="216" r="2.1"/><circle cx="554.8" cy="218.1" r="2.1"/><circle cx="509.4" cy="250.4" r="2.1"/><circle cx="540.7" cy="230.7" r="2.1"/><circle cx="554.5" cy="219.7" r="2.1"/><circle cx="614.5" cy="179.2" r="2.1"/><circle cx="567.7" cy="208.6" r="2.1"/><circle cx="587.2" cy="197.6" r="2.1"/><circle cx="548" cy="222.4" r="2.1"/><circle cx="558.5" cy="217.9" r="2.1"/><circle cx="612.8" cy="180" r="2.1"/><circle cx="573.6" cy="207.2" r="2.1"/><circle cx="591.1" cy="196.7" r="2.1"/><circle cx="567.1" cy="212.1" r="2.1"/><circle cx="585.7" cy="199" r="2.1"/><circle cx="632.7" cy="167.7" r="2.1"/><circle cx="545.6" cy="224.9" r="2.1"/><circle cx="580.4" cy="203" r="2.1"/><circle cx="603.7" cy="188.5" r="2.1"/><circle cx="520.7" cy="240.7" r="2.1"/><circle cx="641.7" cy="164.7" r="2.1"/><circle cx="577.6" cy="205.4" r="2.1"/><circle cx="542.6" cy="225.2" r="2.1"/><circle cx="613.8" cy="183.9" r="2.1"/><circle cx="621.4" cy="177.6" r="2.1"/><circle cx="595.9" cy="192.4" r="2.1"/><circle cx="635.3" cy="168" r="2.1"/><circle cx="520.9" cy="237.4" r="2.1"/><circle cx="581.6" cy="205.6" r="2.1"/><circle cx="611.4" cy="180" r="2.1"/><circle cx="635.4" cy="163.8" r="2.1"/><circle cx="597.4" cy="191.1" r="2.1"/><circle cx="591.9" cy="195.9" r="2.1"/><circle cx="562.3" cy="214" r="2.1"/><circle cx="587.7" cy="199" r="2.1"/><circle cx="585.4" cy="197.7" r="2.1"/><circle cx="633.8" cy="168.5" r="2.1"/><circle cx="623" cy="176.2" r="2.1"/><circle cx="610.6" cy="181.1" r="2.1"/><circle cx="636.4" cy="166.6" r="2.1"/><circle cx="517.8" cy="244.5" r="2.1"/><circle cx="615.1" cy="179.5" r="2.1"/><circle cx="572.8" cy="210.4" r="2.1"/><circle cx="612.6" cy="179.6" r="2.1"/><circle cx="549.6" cy="222.1" r="2.1"/><circle cx="573.3" cy="210.3" r="2.1"/><circle cx="622.7" cy="176.1" r="2.1"/><circle cx="513.5" cy="247.8" r="2.1"/><circle cx="548.9" cy="224.3" r="2.1"/><circle cx="576.2" cy="205.3" r="2.1"/><circle cx="626.4" cy="174.4" r="2.1"/><circle cx="546" cy="223.7" r="2.1"/><circle cx="622.5" cy="177" r="2.1"/><circle cx="542.5" cy="226.2" r="2.1"/><circle cx="550.6" cy="222.1" r="2.1"/><circle cx="585.2" cy="197.7" r="2.1"/><circle cx="599.1" cy="191.7" r="2.1"/><circle cx="630.3" cy="170.8" r="2.1"/><circle cx="630.3" cy="171.7" r="2.1"/><circle cx="543.2" cy="226.3" r="2.1"/><circle cx="611.8" cy="180.4" r="2.1"/><circle cx="596.5" cy="190.1" r="2.1"/><circle cx="562" cy="212.7" r="2.1"/><circle cx="616" cy="178.9" r="2.1"/><circle cx="632.8" cy="168.2" r="2.1"/><circle cx="574.9" cy="205.8" r="2.1"/><circle cx="635.3" cy="165.9" r="2.1"/><circle cx="526.3" cy="235.4" r="2.1"/><circle cx="531.6" cy="233" r="2.1"/><circle cx="614.3" cy="181.2" r="2.1"/><circle cx="550.9" cy="222.9" r="2.1"/><circle cx="589.6" cy="195.1" r="2.1"/><circle cx="577.4" cy="204" r="2.1"/><circle cx="528.8" cy="236.6" r="2.1"/><circle cx="612.9" cy="179.3" r="2.1"/><circle cx="611.2" cy="182.5" r="2.1"/><circle cx="528.7" cy="236.7" r="2.1"/><circle cx="544.6" cy="227.1" r="2.1"/><circle cx="619.4" cy="180.2" r="2.1"/><circle cx="634.8" cy="165.2" r="2.1"/><circle cx="629" cy="172.9" r="2.1"/><circle cx="578.1" cy="204.9" r="2.1"/><circle cx="559.5" cy="217.5" r="2.1"/><circle cx="570.2" cy="208.7" r="2.1"/><circle cx="577.2" cy="204.6" r="2.1"/><circle cx="540.6" cy="232" r="2.1"/><circle cx="531" cy="235" r="2.1"/><circle cx="561.3" cy="217.7" r="2.1"/><circle cx="517.5" cy="243.6" r="2.1"/><circle cx="573.7" cy="206.8" r="2.1"/><circle cx="604.9" cy="186.6" r="2.1"/><circle cx="598.7" cy="188.6" r="2.1"/><circle cx="643.5" cy="161" r="2.1"/><circle cx="631.1" cy="168.6" r="2.1"/><circle cx="596.3" cy="192.8" r="2.1"/><circle cx="632.8" cy="168.2" r="2.1"/><circle cx="570.1" cy="208.4" r="2.1"/><circle cx="619.1" cy="176.3" r="2.1"/><circle cx="548" cy="226" r="2.1"/><circle cx="581.5" cy="199.7" r="2.1"/><circle cx="644.1" cy="160.8" r="2.1"/><circle cx="591.5" cy="194.7" r="2.1"/><circle cx="578.7" cy="202.7" r="2.1"/><circle cx="617.5" cy="180.1" r="2.1"/><circle cx="551.8" cy="223.1" r="2.1"/><circle cx="623.6" cy="173.1" r="2.1"/><circle cx="511.2" cy="247.5" r="2.1"/><circle cx="541.6" cy="230.8" r="2.1"/><circle cx="544.2" cy="227.2" r="2.1"/><circle cx="639.4" cy="165.9" r="2.1"/><circle cx="512" cy="251.2" r="2.1"/><circle cx="550" cy="225.1" r="2.1"/><circle cx="588.1" cy="197.3" r="2.1"/><circle cx="605.9" cy="185.9" r="2.1"/><circle cx="615.7" cy="179.7" r="2.1"/><circle cx="561.7" cy="214.5" r="2.1"/><circle cx="539.1" cy="229.2" r="2.1"/><circle cx="626.5" cy="176.2" r="2.1"/><circle cx="517.6" cy="245.4" r="2.1"/><circle cx="540.7" cy="231.2" r="2.1"/><circle cx="576.8" cy="205.9" r="2.1"/><circle cx="638.9" cy="163.9" r="2.1"/><circle cx="609.4" cy="183.5" r="2.1"/><circle cx="586.6" cy="200.3" r="2.1"/><circle cx="580.7" cy="202.8" r="2.1"/><circle cx="604.5" cy="184.3" r="2.1"/><circle cx="595.3" cy="195" r="2.1"/><circle cx="555.2" cy="221.8" r="2.1"/><circle cx="521.5" cy="240.9" r="2.1"/><circle cx="536.4" cy="230.9" r="2.1"/><circle cx="616.9" cy="178.2" r="2.1"/><circle cx="596.4" cy="194.4" r="2.1"/><circle cx="618.9" cy="176.6" r="2.1"/><circle cx="514.8" cy="247" r="2.1"/><circle cx="633.2" cy="169.1" r="2.1"/><circle cx="561.5" cy="216.1" r="2.1"/><circle cx="636.7" cy="165.1" r="2.1"/><circle cx="590.9" cy="195.3" r="2.1"/><circle cx="584.3" cy="198.6" r="2.1"/><circle cx="621.8" cy="176.5" r="2.1"/><circle cx="595.1" cy="192.5" r="2.1"/><circle cx="601.9" cy="188.8" r="2.1"/><circle cx="530.4" cy="233.7" r="2.1"/><circle cx="592.2" cy="197.3" r="2.1"/><circle cx="557.9" cy="219.8" r="2.1"/><circle cx="519.1" cy="241.7" r="2.1"/><circle cx="527.1" cy="239.6" r="2.1"/><circle cx="575" cy="206.9" r="2.1"/><circle cx="545" cy="226.2" r="2.1"/><circle cx="614.5" cy="180.6" r="2.1"/><circle cx="525.6" cy="239.1" r="2.1"/><circle cx="510.6" cy="246" r="2.1"/><circle cx="646.5" cy="163.5" r="2.1"/><circle cx="551.9" cy="219.7" r="2.1"/><circle cx="579.1" cy="199.4" r="2.1"/><circle cx="537.7" cy="231" r="2.1"/><circle cx="537.5" cy="231.2" r="2.1"/><circle cx="564.3" cy="212.3" r="2.1"/><circle cx="617.9" cy="176" r="2.1"/><circle cx="514" cy="248.1" r="2.1"/><circle cx="624.4" cy="174.8" r="2.1"/><circle cx="645.6" cy="161" r="2.1"/><circle cx="586" cy="198" r="2.1"/><circle cx="558.4" cy="216.7" r="2.1"/><circle cx="541" cy="227.8" r="2.1"/><circle cx="534" cy="233.9" r="2.1"/><circle cx="553.4" cy="220.1" r="2.1"/><circle cx="626.4" cy="174.4" r="2.1"/><circle cx="509.1" cy="250.4" r="2.1"/><circle cx="617.3" cy="178.8" r="2.1"/><circle cx="600.9" cy="189.8" r="2.1"/><circle cx="511.3" cy="249.8" r="2.1"/><circle cx="518.3" cy="241" r="2.1"/><circle cx="610.3" cy="182.8" r="2.1"/><circle cx="601.7" cy="190.8" r="2.1"/><circle cx="552" cy="219.2" r="2.1"/><circle cx="627.8" cy="173.4" r="2.1"/><circle cx="537.7" cy="230.2" r="2.1"/><circle cx="567.7" cy="211.6" r="2.1"/><circle cx="524.6" cy="238.7" r="2.1"/><circle cx="597.9" cy="191.6" r="2.1"/><circle cx="520.7" cy="242.9" r="2.1"/><circle cx="614.6" cy="177.3" r="2.1"/><circle cx="577.8" cy="207.9" r="2.1"/><circle cx="600.2" cy="190.1" r="2.1"/><circle cx="610.1" cy="182.1" r="2.1"/><circle cx="592.5" cy="196.7" r="2.1"/><circle cx="536" cy="234.4" r="2.1"/><circle cx="605.2" cy="183.5" r="2.1"/><circle cx="546" cy="221.9" r="2.1"/><circle cx="570.6" cy="208.8" r="2.1"/><circle cx="524.5" cy="239" r="2.1"/><circle cx="523.3" cy="239.2" r="2.1"/><circle cx="598.8" cy="190.4" r="2.1"/><circle cx="611.3" cy="180.4" r="2.1"/><circle cx="559.9" cy="215.3" r="2.1"/><circle cx="562.6" cy="214.3" r="2.1"/><circle cx="537.4" cy="231" r="2.1"/><circle cx="580.8" cy="199.7" r="2.1"/><circle cx="588.9" cy="196.2" r="2.1"/><circle cx="637.8" cy="165.6" r="2.1"/><circle cx="514.3" cy="247.1" r="2.1"/><circle cx="634.3" cy="166.3" r="2.1"/><circle cx="645.6" cy="161.5" r="2.1"/><circle cx="556.5" cy="218.7" r="2.1"/><circle cx="609" cy="184.7" r="2.1"/><circle cx="622.7" cy="176.3" r="2.1"/><circle cx="598.7" cy="190.7" r="2.1"/><circle cx="548.6" cy="221.8" r="2.1"/><circle cx="594.8" cy="193.9" r="2.1"/><circle cx="629.9" cy="167.8" r="2.1"/><circle cx="575" cy="201.1" r="2.1"/><circle cx="511.8" cy="245.9" r="2.1"/><circle cx="625.5" cy="173.6" r="2.1"/><circle cx="616.3" cy="179.7" r="2.1"/><circle cx="515" cy="250.3" r="2.1"/><circle cx="611.8" cy="181.8" r="2.1"/><circle cx="604.3" cy="186.8" r="2.1"/><circle cx="526.1" cy="234.8" r="2.1"/><circle cx="581.3" cy="203.9" r="2.1"/><circle cx="604" cy="184.8" r="2.1"/><circle cx="555" cy="219.5" r="2.1"/><circle cx="578.3" cy="202.6" r="2.1"/><circle cx="643.6" cy="165" r="2.1"/><circle cx="596.6" cy="192.6" r="2.1"/><circle cx="578.1" cy="204.5" r="2.1"/><circle cx="517.8" cy="242.8" r="2.1"/><circle cx="525.4" cy="238.3" r="2.1"/><circle cx="626.3" cy="175.1" r="2.1"/><circle cx="611.3" cy="180.7" r="2.1"/><circle cx="624.1" cy="174.2" r="2.1"/><circle cx="588.6" cy="196.6" r="2.1"/><circle cx="588.3" cy="196.2" r="2.1"/><circle cx="582" cy="199.3" r="2.1"/><circle cx="610.3" cy="182.6" r="2.1"/><circle cx="554.3" cy="221.8" r="2.1"/><circle cx="577.3" cy="206.8" r="2.1"/><circle cx="573.6" cy="205.3" r="2.1"/><circle cx="600.1" cy="189.3" r="2.1"/><circle cx="512.1" cy="248.1" r="2.1"/><circle cx="520.9" cy="241.7" r="2.1"/><circle cx="533.4" cy="233.5" r="2.1"/><circle cx="627.2" cy="173.3" r="2.1"/><circle cx="607.8" cy="185.3" r="2.1"/><circle cx="612.4" cy="178.4" r="2.1"/><circle cx="570.1" cy="209.7" r="2.1"/><circle cx="522.9" cy="241.3" r="2.1"/><circle cx="573" cy="210.1" r="2.1"/><circle cx="628" cy="173.2" r="2.1"/><circle cx="579.1" cy="202" r="2.1"/><circle cx="596" cy="192.2" r="2.1"/><circle cx="560.4" cy="216.1" r="2.1"/><circle cx="595.3" cy="194" r="2.1"/><circle cx="575.7" cy="207.7" r="2.1"/><circle cx="556.4" cy="216" r="2.1"/><circle cx="544.4" cy="225.8" r="2.1"/><circle cx="604.9" cy="183.4" r="2.1"/><circle cx="552.6" cy="221.9" r="2.1"/><circle cx="588.3" cy="197.7" r="2.1"/><circle cx="544.6" cy="224.9" r="2.1"/><circle cx="612.8" cy="181.3" r="2.1"/><circle cx="560.5" cy="218" r="2.1"/><circle cx="574.8" cy="208.1" r="2.1"/><circle cx="636.9" cy="164.7" r="2.1"/><circle cx="608" cy="183.8" r="2.1"/><circle cx="610.5" cy="182.6" r="2.1"/><circle cx="555.6" cy="217.1" r="2.1"/><circle cx="624.9" cy="173.4" r="2.1"/><circle cx="562" cy="214.3" r="2.1"/><circle cx="645.3" cy="160.8" r="2.1"/><circle cx="632.5" cy="168.5" r="2.1"/><circle cx="599.8" cy="189.8" r="2.1"/><circle cx="623.6" cy="174.2" r="2.1"/><circle cx="583.9" cy="199.8" r="2.1"/><circle cx="610" cy="182.2" r="2.1"/><circle cx="525.9" cy="238.6" r="2.1"/><circle cx="645.4" cy="162.7" r="2.1"/><circle cx="619.3" cy="179" r="2.1"/><circle cx="528.4" cy="235.2" r="2.1"/><circle cx="542.2" cy="227.3" r="2.1"/><circle cx="588.2" cy="195.6" r="2.1"/><circle cx="614.1" cy="180.1" r="2.1"/><circle cx="529.2" cy="234.5" r="2.1"/><circle cx="641.5" cy="160.9" r="2.1"/><circle cx="556.5" cy="216.5" r="2.1"/><circle cx="646.2" cy="161.2" r="2.1"/><circle cx="612.7" cy="181.2" r="2.1"/><circle cx="575.8" cy="205.6" r="2.1"/><circle cx="558.8" cy="218.3" r="2.1"/><circle cx="522" cy="240.2" r="2.1"/><circle cx="520.8" cy="240.1" r="2.1"/><circle cx="595.7" cy="194" r="2.1"/><circle cx="615.6" cy="176.8" r="2.1"/><circle cx="634.1" cy="167.2" r="2.1"/><circle cx="559.1" cy="216.8" r="2.1"/><circle cx="638.3" cy="164.3" r="2.1"/><circle cx="549.7" cy="223.8" r="2.1"/><circle cx="638.6" cy="163.3" r="2.1"/><circle cx="635.7" cy="165.6" r="2.1"/><circle cx="530.1" cy="232.7" r="2.1"/><circle cx="627.7" cy="171.7" r="2.1"/><circle cx="606" cy="185.1" r="2.1"/><circle cx="605.8" cy="186.2" r="2.1"/><circle cx="624.9" cy="176.5" r="2.1"/><circle cx="582.9" cy="200.7" r="2.1"/><circle cx="578.7" cy="204.9" r="2.1"/><circle cx="559.4" cy="214.8" r="2.1"/><circle cx="628.3" cy="172" r="2.1"/><circle cx="633.3" cy="165.4" r="2.1"/><circle cx="530.9" cy="233.8" r="2.1"/><circle cx="615.4" cy="178.4" r="2.1"/><circle cx="546.8" cy="224.4" r="2.1"/><circle cx="534.1" cy="232.8" r="2.1"/><circle cx="535.9" cy="231.1" r="2.1"/><circle cx="587.9" cy="196.5" r="2.1"/><circle cx="547.3" cy="225.5" r="2.1"/><circle cx="542.2" cy="227.3" r="2.1"/><circle cx="522.3" cy="236.4" r="2.1"/><circle cx="553.6" cy="220.2" r="2.1"/><circle cx="615.7" cy="179.7" r="2.1"/><circle cx="511.6" cy="248.8" r="2.1"/><circle cx="575.4" cy="208.5" r="2.1"/><circle cx="592" cy="194.1" r="2.1"/><circle cx="515.5" cy="245.2" r="2.1"/><circle cx="549.3" cy="222.4" r="2.1"/><circle cx="634" cy="164.5" r="2.1"/><circle cx="646.1" cy="157.2" r="2.1"/><circle cx="626.2" cy="174.8" r="2.1"/><circle cx="532.1" cy="232.5" r="2.1"/><circle cx="614.3" cy="179.3" r="2.1"/><circle cx="571" cy="208.8" r="2.1"/><circle cx="532.3" cy="233.4" r="2.1"/><circle cx="575.1" cy="206.3" r="2.1"/><circle cx="636.3" cy="163.2" r="2.1"/><circle cx="630" cy="169.7" r="2.1"/><circle cx="562.8" cy="213.8" r="2.1"/><circle cx="517.4" cy="242.1" r="2.1"/><circle cx="633.2" cy="166.4" r="2.1"/><circle cx="645" cy="160.4" r="2.1"/><circle cx="579.4" cy="202.4" r="2.1"/><circle cx="539.8" cy="226.8" r="2.1"/><circle cx="583.8" cy="199.1" r="2.1"/><circle cx="604.9" cy="186.7" r="2.1"/><circle cx="575.3" cy="207.6" r="2.1"/><circle cx="557.4" cy="218.1" r="2.1"/><circle cx="542.9" cy="229.3" r="2.1"/><circle cx="549.7" cy="222.5" r="2.1"/><circle cx="515.5" cy="244.9" r="2.1"/><circle cx="543.9" cy="230.2" r="2.1"/><circle cx="640.5" cy="163" r="2.1"/><circle cx="509.8" cy="247.7" r="2.1"/><circle cx="609.2" cy="183.1" r="2.1"/><circle cx="617.7" cy="179.6" r="2.1"/><circle cx="564.6" cy="211.2" r="2.1"/><circle cx="591" cy="197.1" r="2.1"/><circle cx="539.2" cy="232.1" r="2.1"/><circle cx="601" cy="191" r="2.1"/><circle cx="606.5" cy="185.3" r="2.1"/><circle cx="610.2" cy="181.4" r="2.1"/><circle cx="576.6" cy="203.2" r="2.1"/><circle cx="642.8" cy="161.7" r="2.1"/><circle cx="628.4" cy="173.4" r="2.1"/><circle cx="587.8" cy="198.6" r="2.1"/><circle cx="603" cy="189.2" r="2.1"/><circle cx="546.7" cy="225.1" r="2.1"/><circle cx="639.1" cy="165.9" r="2.1"/><circle cx="597.9" cy="191.7" r="2.1"/><circle cx="632.4" cy="167.4" r="2.1"/><circle cx="548.6" cy="223.7" r="2.1"/><circle cx="644.5" cy="160.7" r="2.1"/><circle cx="523.2" cy="241.6" r="2.1"/><circle cx="582" cy="203.5" r="2.1"/><circle cx="523.9" cy="240.6" r="2.1"/><circle cx="534.9" cy="230.8" r="2.1"/><circle cx="614.3" cy="178.7" r="2.1"/><circle cx="517.8" cy="244.6" r="2.1"/><circle cx="561.6" cy="213.1" r="2.1"/><circle cx="535.2" cy="233.1" r="2.1"/><circle cx="626.2" cy="171.7" r="2.1"/><circle cx="520" cy="241.6" r="2.1"/><circle cx="555.2" cy="219.7" r="2.1"/><circle cx="627.1" cy="172" r="2.1"/><circle cx="603.6" cy="188.6" r="2.1"/><circle cx="605.9" cy="187" r="2.1"/><circle cx="645.7" cy="162.6" r="2.1"/><circle cx="511.9" cy="247.1" r="2.1"/><circle cx="600.6" cy="190" r="2.1"/><circle cx="611.7" cy="181.8" r="2.1"/><circle cx="612.1" cy="181.9" r="2.1"/><circle cx="607.4" cy="182.8" r="2.1"/><circle cx="518.6" cy="244" r="2.1"/><circle cx="520.3" cy="243.4" r="2.1"/><circle cx="615.5" cy="177.8" r="2.1"/><circle cx="593.2" cy="193" r="2.1"/><circle cx="545" cy="225.5" r="2.1"/><circle cx="509.9" cy="251.6" r="2.1"/><circle cx="582.4" cy="201.8" r="2.1"/><circle cx="521.2" cy="240.6" r="2.1"/><circle cx="612.1" cy="181.3" r="2.1"/><circle cx="555.8" cy="216" r="2.1"/><circle cx="620.3" cy="179" r="2.1"/><circle cx="521.9" cy="239.9" r="2.1"/><circle cx="577" cy="205.9" r="2.1"/><circle cx="522.4" cy="238.4" r="2.1"/><circle cx="616.6" cy="179" r="2.1"/><circle cx="586.1" cy="197.4" r="2.1"/><circle cx="541.1" cy="229.9" r="2.1"/><circle cx="641.8" cy="164.3" r="2.1"/><circle cx="603" cy="189.5" r="2.1"/><circle cx="555.2" cy="220" r="2.1"/><circle cx="626.9" cy="174.4" r="2.1"/><circle cx="561.2" cy="213.3" r="2.1"/><circle cx="639" cy="162" r="2.1"/><circle cx="549.7" cy="222.2" r="2.1"/><circle cx="644.8" cy="162.5" r="2.1"/><circle cx="517.3" cy="244.4" r="2.1"/><circle cx="610.2" cy="183.5" r="2.1"/><circle cx="548.9" cy="220.8" r="2.1"/><circle cx="567.3" cy="211.3" r="2.1"/><circle cx="596.6" cy="192.1" r="2.1"/><circle cx="515" cy="246.3" r="2.1"/><circle cx="539.6" cy="233.2" r="2.1"/><circle cx="523" cy="241.5" r="2.1"/><circle cx="610.9" cy="183.6" r="2.1"/><circle cx="539.2" cy="229.5" r="2.1"/><circle cx="577.6" cy="204.2" r="2.1"/><circle cx="554.1" cy="221" r="2.1"/><circle cx="541.3" cy="229.3" r="2.1"/><circle cx="638" cy="162.2" r="2.1"/><circle cx="578.8" cy="205" r="2.1"/><circle cx="598.6" cy="192.5" r="2.1"/><circle cx="606.1" cy="186" r="2.1"/><circle cx="622.2" cy="177.2" r="2.1"/><circle cx="545.1" cy="226.7" r="2.1"/><circle cx="519.5" cy="241.9" r="2.1"/><circle cx="573.3" cy="204.9" r="2.1"/><circle cx="532.2" cy="237.2" r="2.1"/><circle cx="511.5" cy="247.8" r="2.1"/><circle cx="635.8" cy="165.5" r="2.1"/><circle cx="595.3" cy="193.7" r="2.1"/><circle cx="566" cy="212.9" r="2.1"/><circle cx="527.5" cy="237.6" r="2.1"/><circle cx="613.9" cy="179" r="2.1"/><circle cx="582.4" cy="201.6" r="2.1"/><circle cx="532.8" cy="234.1" r="2.1"/><circle cx="644.5" cy="161.3" r="2.1"/><circle cx="640.1" cy="163" r="2.1"/><circle cx="636.9" cy="165.1" r="2.1"/><circle cx="623" cy="174.5" r="2.1"/><circle cx="582.2" cy="201" r="2.1"/><circle cx="550.2" cy="222" r="2.1"/><circle cx="598.8" cy="191.3" r="2.1"/><circle cx="529.6" cy="237.4" r="2.1"/><circle cx="593.9" cy="195.5" r="2.1"/><circle cx="517.8" cy="245.6" r="2.1"/><circle cx="510.5" cy="248" r="2.1"/><circle cx="607.6" cy="185.5" r="2.1"/><circle cx="556" cy="220.2" r="2.1"/><circle cx="605.1" cy="186.1" r="2.1"/><circle cx="616.5" cy="178.3" r="2.1"/><circle cx="624.2" cy="177.4" r="2.1"/><circle cx="593.8" cy="192.4" r="2.1"/><circle cx="625.7" cy="174" r="2.1"/><circle cx="599.8" cy="190.6" r="2.1"/><circle cx="636.9" cy="163.5" r="2.1"/><circle cx="632.7" cy="168" r="2.1"/><circle cx="514.6" cy="246.8" r="2.1"/><circle cx="545.7" cy="221.9" r="2.1"/><circle cx="562.4" cy="216.3" r="2.1"/><circle cx="543.5" cy="227.2" r="2.1"/><circle cx="533.1" cy="232.3" r="2.1"/><circle cx="629.4" cy="172.3" r="2.1"/><circle cx="512.1" cy="247.5" r="2.1"/><circle cx="533.8" cy="232.7" r="2.1"/><circle cx="613.8" cy="177.3" r="2.1"/><circle cx="539.5" cy="231.4" r="2.1"/><circle cx="544.4" cy="226.5" r="2.1"/><circle cx="642.4" cy="161.3" r="2.1"/><circle cx="614.1" cy="180.1" r="2.1"/><circle cx="570.7" cy="211.6" r="2.1"/><circle cx="527.5" cy="236.4" r="2.1"/><circle cx="545.9" cy="225.2" r="2.1"/><circle cx="644.3" cy="160.8" r="2.1"/><circle cx="618" cy="176.8" r="2.1"/><circle cx="518.3" cy="241.9" r="2.1"/><circle cx="606.4" cy="184.9" r="2.1"/><circle cx="560.7" cy="215.1" r="2.1"/><circle cx="608.2" cy="185.5" r="2.1"/><circle cx="549.5" cy="223" r="2.1"/><circle cx="526.7" cy="237.2" r="2.1"/><circle cx="511.4" cy="248.5" r="2.1"/><circle cx="549.5" cy="222.6" r="2.1"/><circle cx="627.6" cy="173.6" r="2.1"/><circle cx="631.9" cy="166.8" r="2.1"/><circle cx="603.1" cy="185.2" r="2.1"/><circle cx="612.1" cy="181.9" r="2.1"/><circle cx="535.6" cy="231.7" r="2.1"/><circle cx="557.6" cy="217.8" r="2.1"/><circle cx="633" cy="166.1" r="2.1"/><circle cx="645" cy="160.5" r="2.1"/><circle cx="569.9" cy="210" r="2.1"/><circle cx="616" cy="179.5" r="2.1"/><circle cx="637.7" cy="164.2" r="2.1"/><circle cx="646.5" cy="161.5" r="2.1"/><circle cx="549.6" cy="221.6" r="2.1"/><circle cx="599.1" cy="191.9" r="2.1"/><circle cx="562.6" cy="213.6" r="2.1"/><circle cx="573" cy="207.8" r="2.1"/><circle cx="572.5" cy="206.5" r="2.1"/><circle cx="547.2" cy="224.5" r="2.1"/><circle cx="511.3" cy="246.2" r="2.1"/><circle cx="614.6" cy="181.1" r="2.1"/><circle cx="537.2" cy="230.4" r="2.1"/><circle cx="543.2" cy="227.7" r="2.1"/><circle cx="514.9" cy="245.3" r="2.1"/><circle cx="518.4" cy="243.4" r="2.1"/><circle cx="533.1" cy="232.2" r="2.1"/><circle cx="547.1" cy="227.8" r="2.1"/><circle cx="528" cy="236.2" r="2.1"/><circle cx="516.9" cy="246.9" r="2.1"/><circle cx="533.1" cy="231.8" r="2.1"/><circle cx="548" cy="227.1" r="2.1"/><circle cx="544.3" cy="228.2" r="2.1"/><circle cx="545.6" cy="228.4" r="2.1"/><circle cx="525.5" cy="235.7" r="2.1"/><circle cx="519.4" cy="244.9" r="2.1"/><circle cx="544.4" cy="226.3" r="2.1"/><circle cx="541" cy="229.8" r="2.1"/><circle cx="543.6" cy="230" r="2.1"/><circle cx="524.7" cy="239.5" r="2.1"/><circle cx="520.4" cy="241" r="2.1"/><circle cx="518.5" cy="243.7" r="2.1"/><circle cx="544.4" cy="224.9" r="2.1"/><circle cx="546.4" cy="225.6" r="2.1"/><circle cx="523.7" cy="239.7" r="2.1"/><circle cx="544.6" cy="227" r="2.1"/><circle cx="524.3" cy="238.7" r="2.1"/><circle cx="527" cy="234.2" r="2.1"/><circle cx="531.9" cy="233.8" r="2.1"/><circle cx="517.7" cy="243.6" r="2.1"/><circle cx="519.6" cy="243.7" r="2.1"/><circle cx="519.6" cy="243.9" r="2.1"/><circle cx="519.3" cy="240.4" r="2.1"/><circle cx="529.8" cy="237.4" r="2.1"/><circle cx="512.8" cy="248.4" r="2.1"/><circle cx="540.7" cy="229.3" r="2.1"/><circle cx="515.8" cy="245.8" r="2.1"/><circle cx="526.9" cy="234.2" r="2.1"/><circle cx="535" cy="236.6" r="2.1"/><circle cx="514.3" cy="245.4" r="2.1"/><circle cx="525.5" cy="237.3" r="2.1"/><circle cx="531.8" cy="236.3" r="2.1"/><circle cx="531.2" cy="235.8" r="2.1"/><circle cx="545.3" cy="225.1" r="2.1"/><circle cx="540.9" cy="226.3" r="2.1"/><circle cx="513.6" cy="248" r="2.1"/><circle cx="542.9" cy="230.2" r="2.1"/><circle cx="531.2" cy="233.2" r="2.1"/><circle cx="536.5" cy="229.3" r="2.1"/><circle cx="515.2" cy="246" r="2.1"/><circle cx="528" cy="240.3" r="2.1"/><circle cx="537.4" cy="228.9" r="2.1"/><circle cx="541.4" cy="228.9" r="2.1"/><circle cx="541.7" cy="226.5" r="2.1"/><circle cx="517.6" cy="244.1" r="2.1"/><circle cx="542.8" cy="228.2" r="2.1"/><circle cx="532" cy="235.1" r="2.1"/><circle cx="536.1" cy="229.6" r="2.1"/><circle cx="543.6" cy="224.7" r="2.1"/><circle cx="525.3" cy="242.1" r="2.1"/><circle cx="546.4" cy="226.5" r="2.1"/><circle cx="544.8" cy="223.2" r="2.1"/><circle cx="541.8" cy="228.9" r="2.1"/><circle cx="524.3" cy="241.5" r="2.1"/><circle cx="530.3" cy="235.3" r="2.1"/><circle cx="515.8" cy="245.3" r="2.1"/><circle cx="539.8" cy="229.9" r="2.1"/><circle cx="545.2" cy="226.6" r="2.1"/><circle cx="515.3" cy="246" r="2.1"/><circle cx="539.2" cy="230.9" r="2.1"/><circle cx="537.2" cy="230.9" r="2.1"/><circle cx="510.2" cy="249.9" r="2.1"/><circle cx="546.3" cy="225.5" r="2.1"/><circle cx="528.3" cy="236.7" r="2.1"/><circle cx="519.7" cy="240.4" r="2.1"/><circle cx="509.9" cy="248.1" r="2.1"/><circle cx="540.7" cy="229.2" r="2.1"/><circle cx="522.5" cy="239.7" r="2.1"/><circle cx="529.7" cy="235" r="2.1"/><circle cx="516.6" cy="242.8" r="2.1"/><circle cx="533.6" cy="232.6" r="2.1"/><circle cx="525" cy="235.8" r="2.1"/><circle cx="541.8" cy="226.1" r="2.1"/><circle cx="536" cy="232.2" r="2.1"/><circle cx="538.3" cy="231.4" r="2.1"/><circle cx="519" cy="241.7" r="2.1"/><circle cx="511.3" cy="247" r="2.1"/><circle cx="544.8" cy="226.3" r="2.1"/><circle cx="547.1" cy="226.9" r="2.1"/><circle cx="535.1" cy="235.6" r="2.1"/><circle cx="546.5" cy="224.3" r="2.1"/><circle cx="537.6" cy="229.8" r="2.1"/><circle cx="533.5" cy="232.2" r="2.1"/><circle cx="525.9" cy="240.3" r="2.1"/><circle cx="523.3" cy="238.3" r="2.1"/><circle cx="528.8" cy="237.1" r="2.1"/><circle cx="517.8" cy="243.3" r="2.1"/><circle cx="526.2" cy="237.2" r="2.1"/><circle cx="529.5" cy="237.1" r="2.1"/><circle cx="509.9" cy="249.7" r="2.1"/><circle cx="524.8" cy="242.3" r="2.1"/><circle cx="520.3" cy="243.7" r="2.1"/><circle cx="534.7" cy="235.8" r="2.1"/><circle cx="542" cy="227.5" r="2.1"/><circle cx="533.9" cy="233.2" r="2.1"/><circle cx="535.9" cy="230.6" r="2.1"/><circle cx="533.9" cy="232.7" r="2.1"/><circle cx="519.2" cy="244" r="2.1"/><circle cx="524.1" cy="238.8" r="2.1"/><circle cx="543.3" cy="227.9" r="2.1"/><circle cx="547.5" cy="223.2" r="2.1"/><circle cx="516.1" cy="244.4" r="2.1"/><circle cx="509.1" cy="250.9" r="2.1"/><circle cx="548.1" cy="223.7" r="2.1"/><circle cx="543.9" cy="226.7" r="2.1"/><circle cx="533.6" cy="234" r="2.1"/><circle cx="542.2" cy="226.6" r="2.1"/><circle cx="533" cy="230.9" r="2.1"/><circle cx="545.8" cy="226" r="2.1"/><circle cx="518.6" cy="243.9" r="2.1"/><circle cx="526.9" cy="241.1" r="2.1"/><circle cx="536.2" cy="232.2" r="2.1"/><circle cx="657" cy="152.7" r="2.1"/><circle cx="680.4" cy="139.1" r="2.1"/><circle cx="659.2" cy="150.9" r="2.1"/><circle cx="680.2" cy="138.1" r="2.1"/><circle cx="684.6" cy="135.4" r="2.1"/><circle cx="666.8" cy="146.1" r="2.1"/><circle cx="693.3" cy="128.4" r="2.1"/><circle cx="676.5" cy="140" r="2.1"/><circle cx="682.3" cy="137.5" r="2.1"/><circle cx="647.9" cy="159.5" r="2.1"/><circle cx="652.2" cy="155.5" r="2.1"/><circle cx="680.2" cy="138.2" r="2.1"/><circle cx="691.1" cy="129.3" r="2.1"/><circle cx="676.3" cy="140.4" r="2.1"/><circle cx="689.7" cy="131.1" r="2.1"/><circle cx="649.7" cy="158.2" r="2.1"/><circle cx="688.7" cy="131.3" r="2.1"/><circle cx="688" cy="132.5" r="2.1"/><circle cx="676.4" cy="140.2" r="2.1"/><circle cx="667" cy="145.3" r="2.1"/><circle cx="679.9" cy="138" r="2.1"/><circle cx="658.4" cy="152.2" r="2.1"/><circle cx="678.2" cy="139.8" r="2.1"/><circle cx="679.4" cy="139.4" r="2.1"/><circle cx="672.2" cy="142.1" r="2.1"/><circle cx="659.1" cy="150.8" r="2.1"/><circle cx="647" cy="159.7" r="2.1"/><circle cx="656.1" cy="153.6" r="2.1"/><circle cx="686" cy="134.4" r="2.1"/><circle cx="656.9" cy="152.6" r="2.1"/><circle cx="650.4" cy="157.6" r="2.1"/><circle cx="658.5" cy="151.8" r="2.1"/><circle cx="671.2" cy="143.1" r="2.1"/><circle cx="674.4" cy="141.1" r="2.1"/><circle cx="688" cy="132" r="2.1"/><circle cx="686.9" cy="133.5" r="2.1"/><circle cx="692.3" cy="129.5" r="2.1"/><circle cx="688.3" cy="131.9" r="2.1"/><circle cx="668" cy="145.1" r="2.1"/><circle cx="653.6" cy="155.3" r="2.1"/><circle cx="691.7" cy="129.3" r="2.1"/><circle cx="657.6" cy="152.4" r="2.1"/><circle cx="676.1" cy="140.2" r="2.1"/><circle cx="659.3" cy="150.9" r="2.1"/><circle cx="685.2" cy="134.6" r="2.1"/><circle cx="656.3" cy="153.5" r="2.1"/><circle cx="666.6" cy="146.3" r="2.1"/><circle cx="657.2" cy="152.3" r="2.1"/><circle cx="687.2" cy="133.2" r="2.1"/><circle cx="675.9" cy="141.1" r="2.1"/><circle cx="676.5" cy="140.4" r="2.1"/><circle cx="661.7" cy="148.8" r="2.1"/><circle cx="655.2" cy="153.8" r="2.1"/><circle cx="687.1" cy="132.3" r="2.1"/><circle cx="682.7" cy="136.6" r="2.1"/><circle cx="681.3" cy="137.7" r="2.1"/><circle cx="693.6" cy="128.4" r="2.1"/><circle cx="673.1" cy="142.3" r="2.1"/><circle cx="655.3" cy="153.3" r="2.1"/><circle cx="675.5" cy="140.7" r="2.1"/><circle cx="660.4" cy="149.9" r="2.1"/><circle cx="670.9" cy="143" r="2.1"/><circle cx="668.4" cy="144.9" r="2.1"/><circle cx="673.3" cy="142" r="2.1"/><circle cx="690.1" cy="130.3" r="2.1"/><circle cx="684.9" cy="134.6" r="2.1"/><circle cx="666.4" cy="146.1" r="2.1"/><circle cx="685.2" cy="134.4" r="2.1"/><circle cx="687.2" cy="132.7" r="2.1"/><circle cx="683.2" cy="136.6" r="2.1"/><circle cx="672.7" cy="142.4" r="2.1"/><circle cx="689" cy="131.6" r="2.1"/><circle cx="670" cy="143.5" r="2.1"/><circle cx="651.9" cy="157.4" r="2.1"/><circle cx="659.7" cy="150.8" r="2.1"/><circle cx="677.7" cy="138.7" r="2.1"/><circle cx="664.7" cy="147.5" r="2.1"/><circle cx="666.7" cy="146.5" r="2.1"/><circle cx="665.8" cy="146.7" r="2.1"/><circle cx="655.9" cy="152.8" r="2.1"/><circle cx="651.3" cy="157" r="2.1"/><circle cx="649.2" cy="158.3" r="2.1"/><circle cx="678.4" cy="139.3" r="2.1"/><circle cx="662.1" cy="149.2" r="2.1"/><circle cx="668.3" cy="143.7" r="2.1"/><circle cx="690.7" cy="129.8" r="2.1"/><circle cx="676.3" cy="140.6" r="2.1"/><circle cx="684.9" cy="135.1" r="2.1"/><circle cx="682.6" cy="136.5" r="2.1"/><circle cx="691.6" cy="129" r="2.1"/><circle cx="695.3" cy="126.2" r="2.1"/><circle cx="702.9" cy="123.4" r="2.1"/><circle cx="716.3" cy="114.9" r="2.1"/><circle cx="704.8" cy="121.7" r="2.1"/><circle cx="716.3" cy="113.9" r="2.1"/><circle cx="698.1" cy="126.1" r="2.1"/><circle cx="695.2" cy="128.4" r="2.1"/><circle cx="715" cy="114.8" r="2.1"/><circle cx="703.5" cy="123.8" r="2.1"/><circle cx="705.8" cy="121.5" r="2.1"/><circle cx="716" cy="115.1" r="2.1"/><circle cx="699" cy="125.4" r="2.1"/><circle cx="716.8" cy="113.2" r="2.1"/><circle cx="703.2" cy="124.4" r="2.1"/><circle cx="699.6" cy="125.8" r="2.1"/><circle cx="699.3" cy="126.1" r="2.1"/><circle cx="706.1" cy="120.4" r="2.1"/><circle cx="704.8" cy="124.6" r="2.1"/><circle cx="714.8" cy="114.7" r="2.1"/><circle cx="695" cy="128.7" r="2.1"/><circle cx="694.8" cy="127.6" r="2.1"/><circle cx="697.4" cy="125.3" r="2.1"/><circle cx="708.1" cy="120.1" r="2.1"/><circle cx="712.3" cy="115.9" r="2.1"/><circle cx="705.1" cy="122.8" r="2.1"/><circle cx="708.3" cy="117.5" r="2.1"/><circle cx="709" cy="117.9" r="2.1"/><circle cx="694.2" cy="126.5" r="2.1"/><circle cx="699.6" cy="126.5" r="2.1"/><circle cx="717.5" cy="114" r="2.1"/><circle cx="701.6" cy="123.3" r="2.1"/><circle cx="716.2" cy="113.8" r="2.1"/><circle cx="705.4" cy="122" r="2.1"/><circle cx="699" cy="125.1" r="2.1"/><circle cx="693.8" cy="128.9" r="2.1"/><circle cx="698.9" cy="124.8" r="2.1"/><circle cx="701.4" cy="124.4" r="2.1"/><circle cx="704.2" cy="122.2" r="2.1"/><circle cx="704.4" cy="123.2" r="2.1"/><circle cx="706.8" cy="120.2" r="2.1"/><circle cx="705" cy="122.7" r="2.1"/><circle cx="694.5" cy="126.4" r="2.1"/><circle cx="700.1" cy="123.9" r="2.1"/><circle cx="716.6" cy="112.6" r="2.1"/><circle cx="694.4" cy="126.9" r="2.1"/><circle cx="711.2" cy="116.3" r="2.1"/><circle cx="705.1" cy="124.6" r="2.1"/><circle cx="710.5" cy="116.6" r="2.1"/><circle cx="701.6" cy="124.5" r="2.1"/><circle cx="702.5" cy="123.7" r="2.1"/><circle cx="706" cy="121.5" r="2.1"/><circle cx="715.4" cy="115.4" r="2.1"/><circle cx="701.5" cy="124.8" r="2.1"/><circle cx="695.8" cy="126.1" r="2.1"/><circle cx="694.7" cy="125.9" r="2.1"/><circle cx="714.7" cy="115.1" r="2.1"/><circle cx="701.2" cy="125.3" r="2.1"/><circle cx="696.6" cy="125" r="2.1"/><circle cx="707.9" cy="120.5" r="2.1"/><circle cx="713.8" cy="113.1" r="2.1"/><circle cx="708" cy="119.5" r="2.1"/><circle cx="697.4" cy="126.9" r="2.1"/><circle cx="703.4" cy="122.3" r="2.1"/><circle cx="700.1" cy="123.4" r="2.1"/><circle cx="694.1" cy="128.9" r="2.1"/><circle cx="716.7" cy="111.9" r="2.1"/><circle cx="704.7" cy="122.6" r="2.1"/><circle cx="696.9" cy="124.9" r="2.1"/><circle cx="714.8" cy="114.8" r="2.1"/><circle cx="717.2" cy="114.6" r="2.1"/><circle cx="713.1" cy="115" r="2.1"/><circle cx="699.8" cy="124.3" r="2.1"/><circle cx="698.3" cy="123.8" r="2.1"/><circle cx="706.2" cy="119.5" r="2.1"/><circle cx="707.6" cy="119.3" r="2.1"/><circle cx="714.6" cy="114.8" r="2.1"/><circle cx="716.7" cy="113.8" r="2.1"/><circle cx="715.4" cy="114.4" r="2.1"/><circle cx="701.9" cy="124.9" r="2.1"/><circle cx="707.7" cy="120.1" r="2.1"/><circle cx="696.7" cy="128.8" r="2.1"/><circle cx="706.1" cy="121.1" r="2.1"/><circle cx="695.4" cy="126.9" r="2.1"/><circle cx="696.4" cy="124.1" r="2.1"/><circle cx="696.6" cy="125.7" r="2.1"/><circle cx="700.9" cy="125.1" r="2.1"/><circle cx="701.1" cy="124" r="2.1"/><circle cx="710.5" cy="118.6" r="2.1"/><circle cx="695.6" cy="127.4" r="2.1"/><circle cx="696.4" cy="128.3" r="2.1"/><circle cx="725.8" cy="106.5" r="2.1"/><circle cx="737" cy="99.1" r="2.1"/><circle cx="752.1" cy="89.1" r="2.1"/><circle cx="766.3" cy="80.3" r="2.1"/><circle cx="772.4" cy="76.8" r="2.1"/></g><rect x="140.7" y="54.4" width="662.1" height="434.7" fill="none" stroke="#fff" stroke-width="2.93"/><rect x="155.1" y="70.2" width="216.7" height="137.1" rx="5.5" fill="#e5e5e5" fill-opacity="0.8" stroke="#ccc" stroke-opacity="0.8" stroke-width="1.47"/><circle cx="196.8" cy="96.4" r="2.1" fill="#0000ff" fill-opacity="0.55" stroke="#0000ff" stroke-opacity="0.55" stroke-width="1.4"/><circle cx="196.8" cy="138.0" r="2.1" fill="#ff0000" fill-opacity="0.55" stroke="#ff0000" stroke-opacity="0.55" stroke-width="1.4"/><circle cx="196.8" cy="180.7" r="2.1" fill="#008000" fill-opacity="0.55" stroke="#008000" stroke-opacity="0.55" stroke-width="1.4"/><text x="249" y="103.9" fill="#000" font-size="29.0">Bulk</text><text x="249" y="146.5" fill="#000" font-size="29.0">Surface</text><text x="249" y="189.1" fill="#000" font-size="29.0">Cluster</text><rect x="140.7" y="663.4" width="662.1" height="433.8" fill="#e5e5e5"/><path d="M141.3 663.4V1097.2M306.8 663.4V1097.2M472.3 663.4V1097.2M637.8 663.4V1097.2M803.3 663.4V1097.2M140.7 1098.2H802.8M140.7 989.7H802.8M140.7 881.1H802.8M140.7 772.5H802.8M140.7 664H802.8" stroke="#fff" stroke-width="2.35" fill="none"/><path d="M141.3 1097.2v10.3M306.8 1097.2v10.3M472.3 1097.2v10.3M637.8 1097.2v10.3M803.3 1097.2v10.3M140.7 1098.2h-10.3M140.7 989.7h-10.3M140.7 881.1h-10.3M140.7 772.5h-10.3M140.7 664h-10.3" stroke="#555" stroke-width="2.35" fill="none"/><g fill="#0000ff" fill-opacity="0.55" stroke="#0000ff" stroke-opacity="0.55" stroke-width="1.4"><circle cx="432" cy="913.6" r="2.1"/><circle cx="561.2" cy="828.5" r="2.1"/><circle cx="552.9" cy="823.2" r="2.1"/><circle cx="606.5" cy="794.6" r="2.1"/><circle cx="529.7" cy="834.4" r="2.1"/><circle cx="502" cy="852.7" r="2.1"/><circle cx="535.8" cy="827.3" r="2.1"/><circle cx="338.5" cy="967.4" r="2.1"/><circle cx="426.2" cy="906.3" r="2.1"/><circle cx="605.1" cy="791" r="2.1"/><circle cx="515.1" cy="846.3" r="2.1"/><circle cx="357.7" cy="954" r="2.1"/><circle cx="371.9" cy="940.9" r="2.1"/><circle cx="444.4" cy="890.7" r="2.1"/><circle cx="392.1" cy="927.7" r="2.1"/><circle cx="448.3" cy="909.3" r="2.1"/><circle cx="547.1" cy="841.2" r="2.1"/><circle cx="483.2" cy="865.6" r="2.1"/><circle cx="510.9" cy="844.8" r="2.1"/><circle cx="493" cy="857" r="2.1"/><circle cx="569.5" cy="814.3" r="2.1"/><circle cx="353.6" cy="958.5" r="2.1"/><circle cx="535.3" cy="830.2" r="2.1"/><circle cx="364.8" cy="954.6" r="2.1"/><circle cx="503.5" cy="851.1" r="2.1"/><circle cx="399.6" cy="933.8" r="2.1"/><circle cx="463.7" cy="872.1" r="2.1"/><circle cx="595.3" cy="800.5" r="2.1"/><circle cx="593.9" cy="797.1" r="2.1"/><circle cx="512.1" cy="865.4" r="2.1"/><circle cx="369.2" cy="948.1" r="2.1"/><circle cx="413.7" cy="923.7" r="2.1"/><circle cx="375.8" cy="949.6" r="2.1"/><circle cx="392.8" cy="939.7" r="2.1"/><circle cx="545.2" cy="837.6" r="2.1"/><circle cx="549.3" cy="835.1" r="2.1"/><circle cx="472.5" cy="891.1" r="2.1"/><circle cx="389.7" cy="937.8" r="2.1"/><circle cx="545.8" cy="828.6" r="2.1"/><circle cx="568" cy="822.1" r="2.1"/><circle cx="578.6" cy="811.6" r="2.1"/><circle cx="578.7" cy="805.7" r="2.1"/><circle cx="376.8" cy="946.3" r="2.1"/><circle cx="621.1" cy="782.4" r="2.1"/><circle cx="459.9" cy="900.3" r="2.1"/><circle cx="457.1" cy="880.6" r="2.1"/><circle cx="546.9" cy="827.4" r="2.1"/><circle cx="424.9" cy="921.6" r="2.1"/><circle cx="445" cy="885.5" r="2.1"/><circle cx="594.2" cy="800.4" r="2.1"/><circle cx="350.5" cy="960.5" r="2.1"/><circle cx="600.1" cy="801" r="2.1"/><circle cx="511.2" cy="848.2" r="2.1"/><circle cx="528" cy="851.7" r="2.1"/><circle cx="330.6" cy="969.4" r="2.1"/><circle cx="419.2" cy="911.1" r="2.1"/><circle cx="543.2" cy="839.9" r="2.1"/><circle cx="566.8" cy="817" r="2.1"/><circle cx="534" cy="833" r="2.1"/><circle cx="493.2" cy="877.5" r="2.1"/><circle cx="422.8" cy="919.6" r="2.1"/><circle cx="607.8" cy="794.2" r="2.1"/><circle cx="553.4" cy="823.3" r="2.1"/><circle cx="388.8" cy="938.9" r="2.1"/><circle cx="474.8" cy="870.1" r="2.1"/><circle cx="454.8" cy="878.2" r="2.1"/><circle cx="547.7" cy="828.9" r="2.1"/><circle cx="604.3" cy="795.1" r="2.1"/><circle cx="355.1" cy="955.5" r="2.1"/><circle cx="607.9" cy="786.9" r="2.1"/><circle cx="549.6" cy="826.2" r="2.1"/><circle cx="551.2" cy="825.3" r="2.1"/><circle cx="354.6" cy="955.4" r="2.1"/><circle cx="390.6" cy="938" r="2.1"/><circle cx="459.6" cy="878" r="2.1"/><circle cx="384.2" cy="939.6" r="2.1"/><circle cx="589.2" cy="805.2" r="2.1"/><circle cx="471.5" cy="889" r="2.1"/><circle cx="404.2" cy="929.4" r="2.1"/><circle cx="621.1" cy="784.7" r="2.1"/><circle cx="394.4" cy="938.9" r="2.1"/><circle cx="573.1" cy="817.6" r="2.1"/><circle cx="560.4" cy="829.7" r="2.1"/><circle cx="528.5" cy="834.6" r="2.1"/><circle cx="387.9" cy="939.3" r="2.1"/><circle cx="552" cy="823.3" r="2.1"/><circle cx="553.4" cy="823.9" r="2.1"/><circle cx="386.3" cy="940.8" r="2.1"/><circle cx="568.3" cy="822.9" r="2.1"/><circle cx="364.9" cy="951" r="2.1"/><circle cx="531.1" cy="832.6" r="2.1"/><circle cx="449.3" cy="909.7" r="2.1"/><circle cx="390" cy="942.2" r="2.1"/><circle cx="440.1" cy="895" r="2.1"/><circle cx="473.4" cy="895.6" r="2.1"/><circle cx="594.7" cy="800.2" r="2.1"/><circle cx="336.1" cy="968.2" r="2.1"/><circle cx="462.1" cy="878.2" r="2.1"/><circle cx="424.2" cy="918.8" r="2.1"/><circle cx="552.8" cy="831.9" r="2.1"/><circle cx="388.3" cy="938.3" r="2.1"/><circle cx="611.4" cy="790.5" r="2.1"/><circle cx="380" cy="944.8" r="2.1"/><circle cx="532.5" cy="837.1" r="2.1"/><circle cx="382" cy="945.4" r="2.1"/><circle cx="355.7" cy="953" r="2.1"/><circle cx="348.2" cy="960.7" r="2.1"/><circle cx="470.3" cy="892.1" r="2.1"/><circle cx="345.6" cy="961.2" r="2.1"/><circle cx="450" cy="908.3" r="2.1"/><circle cx="551" cy="816.6" r="2.1"/><circle cx="537.4" cy="829.1" r="2.1"/><circle cx="358.4" cy="955.4" r="2.1"/><circle cx="366.7" cy="949.7" r="2.1"/><circle cx="378.1" cy="945.3" r="2.1"/><circle cx="577.2" cy="812.9" r="2.1"/><circle cx="550.1" cy="824.7" r="2.1"/><circle cx="422.6" cy="905.8" r="2.1"/><circle cx="545.1" cy="830" r="2.1"/><circle cx="444.3" cy="915.1" r="2.1"/><circle cx="405.5" cy="929.6" r="2.1"/><circle cx="372.4" cy="949.1" r="2.1"/><circle cx="518.5" cy="860.7" r="2.1"/><circle cx="514.2" cy="847.9" r="2.1"/><circle cx="445.6" cy="890.4" r="2.1"/><circle cx="533.9" cy="835.5" r="2.1"/><circle cx="395.3" cy="934.7" r="2.1"/><circle cx="533.6" cy="830.3" r="2.1"/><circle cx="512.2" cy="846" r="2.1"/><circle cx="568.7" cy="811.1" r="2.1"/><circle cx="555.7" cy="821" r="2.1"/><circle cx="472.9" cy="868" r="2.1"/><circle cx="413.5" cy="923.6" r="2.1"/><circle cx="423.7" cy="919.1" r="2.1"/><circle cx="425.8" cy="902.3" r="2.1"/><circle cx="387.4" cy="938.5" r="2.1"/><circle cx="388.2" cy="939" r="2.1"/><circle cx="551.6" cy="831.7" r="2.1"/><circle cx="541.4" cy="829.9" r="2.1"/><circle cx="466.6" cy="876.3" r="2.1"/><circle cx="538" cy="830.5" r="2.1"/><circle cx="404.9" cy="930.1" r="2.1"/><circle cx="419.5" cy="910.8" r="2.1"/><circle cx="593.7" cy="803.4" r="2.1"/><circle cx="357.3" cy="955.9" r="2.1"/><circle cx="381.1" cy="943.8" r="2.1"/><circle cx="461.6" cy="901.7" r="2.1"/><circle cx="533" cy="834.8" r="2.1"/><circle cx="557.6" cy="834.7" r="2.1"/><circle cx="400.9" cy="935.3" r="2.1"/><circle cx="476.2" cy="887.7" r="2.1"/><circle cx="468" cy="876.4" r="2.1"/><circle cx="399" cy="935.4" r="2.1"/><circle cx="536.1" cy="832.9" r="2.1"/><circle cx="499.3" cy="853.5" r="2.1"/><circle cx="435.6" cy="896.8" r="2.1"/><circle cx="401.4" cy="934.6" r="2.1"/><circle cx="387.3" cy="940" r="2.1"/><circle cx="455.4" cy="900.7" r="2.1"/><circle cx="570.7" cy="814.5" r="2.1"/><circle cx="554.4" cy="823.9" r="2.1"/><circle cx="412.2" cy="914.8" r="2.1"/><circle cx="587.8" cy="799" r="2.1"/><circle cx="538.2" cy="832.9" r="2.1"/><circle cx="579.5" cy="804.9" r="2.1"/><circle cx="581.6" cy="809.4" r="2.1"/><circle cx="534.1" cy="835.5" r="2.1"/><circle cx="598.5" cy="792.7" r="2.1"/><circle cx="421.4" cy="903.5" r="2.1"/><circle cx="346.8" cy="962.8" r="2.1"/><circle cx="423.5" cy="919.1" r="2.1"/><circle cx="607.8" cy="793.7" r="2.1"/><circle cx="463.8" cy="897.1" r="2.1"/><circle cx="362" cy="952.8" r="2.1"/><circle cx="414.8" cy="925.9" r="2.1"/><circle cx="532.6" cy="836.9" r="2.1"/><circle cx="334.2" cy="970.3" r="2.1"/><circle cx="385.7" cy="932.9" r="2.1"/><circle cx="426.5" cy="906.1" r="2.1"/><circle cx="453.3" cy="900.5" r="2.1"/><circle cx="367.5" cy="946" r="2.1"/><circle cx="448.6" cy="887" r="2.1"/><circle cx="562.6" cy="817.5" r="2.1"/><circle cx="595.5" cy="799.7" r="2.1"/><circle cx="575" cy="808.1" r="2.1"/><circle cx="339.2" cy="966.2" r="2.1"/><circle cx="604.4" cy="794.4" r="2.1"/><circle cx="488.1" cy="881.4" r="2.1"/><circle cx="364.3" cy="950.8" r="2.1"/><circle cx="341.1" cy="965" r="2.1"/><circle cx="433.9" cy="914.1" r="2.1"/><circle cx="568.8" cy="811.9" r="2.1"/><circle cx="322" cy="975.6" r="2.1"/><circle cx="527.4" cy="855.5" r="2.1"/><circle cx="489.3" cy="860" r="2.1"/><circle cx="352.2" cy="961.3" r="2.1"/><circle cx="424.3" cy="916.2" r="2.1"/><circle cx="577.4" cy="810.4" r="2.1"/><circle cx="355.5" cy="953.3" r="2.1"/><circle cx="456.7" cy="906.2" r="2.1"/><circle cx="508.8" cy="848.5" r="2.1"/><circle cx="603.9" cy="792.3" r="2.1"/><circle cx="361.9" cy="954.3" r="2.1"/><circle cx="467.6" cy="876.9" r="2.1"/><circle cx="489.5" cy="859.1" r="2.1"/><circle cx="569.6" cy="816.3" r="2.1"/><circle cx="407.6" cy="915.7" r="2.1"/><circle cx="474.1" cy="870.4" r="2.1"/><circle cx="485.6" cy="864.3" r="2.1"/><circle cx="331" cy="971" r="2.1"/><circle cx="363.5" cy="950.8" r="2.1"/><circle cx="351.4" cy="956.8" r="2.1"/><circle cx="537.3" cy="832.8" r="2.1"/><circle cx="578.4" cy="805.4" r="2.1"/><circle cx="376.6" cy="947.6" r="2.1"/><circle cx="400.2" cy="931.7" r="2.1"/><circle cx="448.3" cy="887.9" r="2.1"/><circle cx="392.2" cy="928" r="2.1"/><circle cx="392.9" cy="928.6" r="2.1"/><circle cx="558.7" cy="820.5" r="2.1"/><circle cx="518.8" cy="857.5" r="2.1"/><circle cx="528.4" cy="838.2" r="2.1"/><circle cx="410.8" cy="914.5" r="2.1"/><circle cx="373.4" cy="940.9" r="2.1"/><circle cx="559.1" cy="827.8" r="2.1"/><circle cx="505.9" cy="867.9" r="2.1"/><circle cx="437.1" cy="895.3" r="2.1"/><circle cx="384.1" cy="932.5" r="2.1"/><circle cx="555.3" cy="822.9" r="2.1"/><circle cx="549.7" cy="835.6" r="2.1"/><circle cx="573.5" cy="809.7" r="2.1"/><circle cx="382.7" cy="942.5" r="2.1"/><circle cx="483.3" cy="887.7" r="2.1"/><circle cx="607.8" cy="792.6" r="2.1"/><circle cx="394.4" cy="924.7" r="2.1"/><circle cx="429.7" cy="901.5" r="2.1"/><circle cx="500.4" cy="872.5" r="2.1"/><circle cx="352" cy="957.3" r="2.1"/><circle cx="357.4" cy="956.9" r="2.1"/><circle cx="425.1" cy="916.8" r="2.1"/><circle cx="402" cy="931.6" r="2.1"/><circle cx="406.9" cy="929.7" r="2.1"/><circle cx="344.9" cy="961.5" r="2.1"/><circle cx="402.4" cy="929.1" r="2.1"/><circle cx="481.1" cy="886.1" r="2.1"/><circle cx="390.9" cy="937.2" r="2.1"/><circle cx="501.1" cy="869.8" r="2.1"/><circle cx="540.1" cy="831.2" r="2.1"/><circle cx="446.5" cy="890.9" r="2.1"/><circle cx="579.3" cy="805.3" r="2.1"/><circle cx="416.1" cy="922.5" r="2.1"/><circle cx="470.7" cy="874" r="2.1"/><circle cx="603.2" cy="793.5" r="2.1"/><circle cx="363.8" cy="951.4" r="2.1"/><circle cx="529.7" cy="837.7" r="2.1"/><circle cx="528.5" cy="859.1" r="2.1"/><circle cx="509.2" cy="863.8" r="2.1"/><circle cx="592.1" cy="804.7" r="2.1"/><circle cx="353.8" cy="956" r="2.1"/><circle cx="531.9" cy="837.4" r="2.1"/><circle cx="593.3" cy="802.2" r="2.1"/><circle cx="539.1" cy="846.1" r="2.1"/><circle cx="420" cy="910.5" r="2.1"/><circle cx="577.9" cy="812.9" r="2.1"/><circle cx="331.2" cy="969.9" r="2.1"/><circle cx="474.5" cy="871.8" r="2.1"/><circle cx="422.9" cy="917.6" r="2.1"/><circle cx="552.7" cy="823.4" r="2.1"/><circle cx="325.2" cy="975.2" r="2.1"/><circle cx="596.2" cy="796.8" r="2.1"/><circle cx="372.4" cy="947.5" r="2.1"/><circle cx="575.7" cy="808.9" r="2.1"/><circle cx="540.9" cy="831.3" r="2.1"/><circle cx="516.7" cy="847.7" r="2.1"/><circle cx="541.8" cy="831.6" r="2.1"/><circle cx="608.8" cy="786.2" r="2.1"/><circle cx="390.8" cy="938.8" r="2.1"/><circle cx="546.2" cy="832.1" r="2.1"/><circle cx="448" cy="889" r="2.1"/><circle cx="554.4" cy="824.2" r="2.1"/><circle cx="573.4" cy="813.8" r="2.1"/><circle cx="557.1" cy="819.2" r="2.1"/><circle cx="441" cy="911.7" r="2.1"/><circle cx="517.2" cy="846.5" r="2.1"/><circle cx="505.9" cy="850.1" r="2.1"/><circle cx="426.3" cy="903.6" r="2.1"/><circle cx="448.7" cy="882.3" r="2.1"/><circle cx="525.7" cy="853.4" r="2.1"/><circle cx="574.2" cy="809" r="2.1"/><circle cx="353.9" cy="958" r="2.1"/><circle cx="533.2" cy="848.5" r="2.1"/><circle cx="524" cy="854.2" r="2.1"/><circle cx="478.4" cy="889.3" r="2.1"/><circle cx="452.6" cy="908.1" r="2.1"/><circle cx="399.4" cy="931.8" r="2.1"/><circle cx="547.7" cy="827.5" r="2.1"/><circle cx="432.2" cy="916.2" r="2.1"/><circle cx="532.2" cy="836.1" r="2.1"/><circle cx="361.2" cy="952.4" r="2.1"/><circle cx="410.8" cy="913.1" r="2.1"/><circle cx="529.8" cy="835.1" r="2.1"/><circle cx="411.7" cy="925.9" r="2.1"/><circle cx="523" cy="843" r="2.1"/><circle cx="353.2" cy="953.1" r="2.1"/><circle cx="334.5" cy="971.5" r="2.1"/><circle cx="409" cy="917.7" r="2.1"/><circle cx="550.6" cy="820.4" r="2.1"/><circle cx="576" cy="809.3" r="2.1"/><circle cx="336.2" cy="965.7" r="2.1"/><circle cx="543.4" cy="828.5" r="2.1"/><circle cx="475.9" cy="888.8" r="2.1"/><circle cx="524.2" cy="841.7" r="2.1"/><circle cx="508" cy="850" r="2.1"/><circle cx="379.2" cy="932.8" r="2.1"/><circle cx="378.8" cy="946.3" r="2.1"/><circle cx="428.4" cy="901.6" r="2.1"/><circle cx="407.9" cy="927.7" r="2.1"/><circle cx="469.8" cy="893.7" r="2.1"/><circle cx="562.9" cy="814.8" r="2.1"/><circle cx="538.6" cy="827.8" r="2.1"/><circle cx="571.1" cy="812.3" r="2.1"/><circle cx="528.7" cy="839.3" r="2.1"/><circle cx="605.6" cy="792" r="2.1"/><circle cx="484.6" cy="882.3" r="2.1"/><circle cx="538.8" cy="827.2" r="2.1"/><circle cx="558.6" cy="816.1" r="2.1"/><circle cx="401.9" cy="918.7" r="2.1"/><circle cx="412.9" cy="923.1" r="2.1"/><circle cx="577.2" cy="810.5" r="2.1"/><circle cx="572.8" cy="810.4" r="2.1"/><circle cx="394.4" cy="927.3" r="2.1"/><circle cx="559.4" cy="821.1" r="2.1"/><circle cx="337.8" cy="965" r="2.1"/><circle cx="392.6" cy="939.1" r="2.1"/><circle cx="485.5" cy="883" r="2.1"/><circle cx="485.9" cy="880.6" r="2.1"/><circle cx="500.7" cy="849.6" r="2.1"/><circle cx="551.4" cy="839.7" r="2.1"/><circle cx="403.9" cy="935.4" r="2.1"/><circle cx="550.7" cy="826.1" r="2.1"/><circle cx="477.6" cy="886.9" r="2.1"/><circle cx="490.8" cy="856.1" r="2.1"/><circle cx="350.6" cy="955.8" r="2.1"/><circle cx="552.3" cy="824.4" r="2.1"/><circle cx="408.9" cy="919.1" r="2.1"/><circle cx="347" cy="961.8" r="2.1"/><circle cx="601.2" cy="797.6" r="2.1"/><circle cx="405.7" cy="917.6" r="2.1"/><circle cx="386.2" cy="930.9" r="2.1"/><circle cx="389.5" cy="939.5" r="2.1"/><circle cx="397" cy="925.9" r="2.1"/><circle cx="588.1" cy="805.6" r="2.1"/><circle cx="573.8" cy="811.6" r="2.1"/><circle cx="541.8" cy="831.3" r="2.1"/><circle cx="381.9" cy="942" r="2.1"/><circle cx="357.3" cy="957.1" r="2.1"/><circle cx="604.9" cy="794.2" r="2.1"/><circle cx="544" cy="833.4" r="2.1"/><circle cx="546.5" cy="837" r="2.1"/><circle cx="526" cy="853.6" r="2.1"/><circle cx="533.6" cy="831.6" r="2.1"/><circle cx="573.7" cy="811.1" r="2.1"/><circle cx="557.7" cy="810.5" r="2.1"/><circle cx="352.8" cy="954.1" r="2.1"/><circle cx="572" cy="815.6" r="2.1"/><circle cx="556.6" cy="823.5" r="2.1"/><circle cx="551.1" cy="826" r="2.1"/><circle cx="587.1" cy="809.8" r="2.1"/><circle cx="393.2" cy="936.2" r="2.1"/><circle cx="602" cy="796.2" r="2.1"/><circle cx="596.4" cy="793.2" r="2.1"/><circle cx="357.7" cy="958.1" r="2.1"/><circle cx="618.6" cy="786.3" r="2.1"/><circle cx="524.7" cy="838.2" r="2.1"/><circle cx="614.9" cy="783.5" r="2.1"/><circle cx="548.5" cy="825.5" r="2.1"/><circle cx="591.2" cy="798.8" r="2.1"/><circle cx="578.2" cy="805.4" r="2.1"/><circle cx="423.8" cy="905.3" r="2.1"/><circle cx="565" cy="817.9" r="2.1"/><circle cx="574.4" cy="812.1" r="2.1"/><circle cx="337.9" cy="964.6" r="2.1"/><circle cx="317.1" cy="979.8" r="2.1"/><circle cx="344.8" cy="963.8" r="2.1"/><circle cx="613.5" cy="784" r="2.1"/><circle cx="625.3" cy="783.4" r="2.1"/><circle cx="358.4" cy="948.9" r="2.1"/><circle cx="574.9" cy="813.8" r="2.1"/><circle cx="577.1" cy="805.7" r="2.1"/><circle cx="555.9" cy="829.3" r="2.1"/><circle cx="318.1" cy="978.5" r="2.1"/><circle cx="409.7" cy="918" r="2.1"/><circle cx="446.4" cy="890.8" r="2.1"/><circle cx="544.1" cy="839.4" r="2.1"/><circle cx="614.3" cy="790" r="2.1"/><circle cx="523.8" cy="854.8" r="2.1"/><circle cx="389.5" cy="940.1" r="2.1"/><circle cx="419.6" cy="920.6" r="2.1"/><circle cx="387.7" cy="936.8" r="2.1"/><circle cx="318.8" cy="979.2" r="2.1"/><circle cx="336.8" cy="965.8" r="2.1"/><circle cx="358.4" cy="953.5" r="2.1"/><circle cx="484.6" cy="884.6" r="2.1"/><circle cx="571.2" cy="819.1" r="2.1"/><circle cx="390.9" cy="936.7" r="2.1"/><circle cx="359.9" cy="952.5" r="2.1"/><circle cx="359.8" cy="950.6" r="2.1"/><circle cx="338.2" cy="966.5" r="2.1"/><circle cx="567.4" cy="817.8" r="2.1"/><circle cx="553.9" cy="823.1" r="2.1"/><circle cx="320.1" cy="978.7" r="2.1"/><circle cx="363.7" cy="953" r="2.1"/><circle cx="358.6" cy="956.4" r="2.1"/><circle cx="611.2" cy="781.6" r="2.1"/><circle cx="589.3" cy="797.6" r="2.1"/><circle cx="347" cy="959.5" r="2.1"/><circle cx="572.9" cy="815" r="2.1"/><circle cx="337.2" cy="968.8" r="2.1"/><circle cx="421.6" cy="908.4" r="2.1"/><circle cx="624.3" cy="777.5" r="2.1"/><circle cx="607.8" cy="788.3" r="2.1"/><circle cx="534" cy="835" r="2.1"/><circle cx="579.4" cy="806" r="2.1"/><circle cx="361.4" cy="953.4" r="2.1"/><circle cx="596.1" cy="796.3" r="2.1"/><circle cx="362.2" cy="950" r="2.1"/><circle cx="565.7" cy="816.3" r="2.1"/><circle cx="547.9" cy="830.9" r="2.1"/><circle cx="352.3" cy="957.6" r="2.1"/><circle cx="361.6" cy="952.2" r="2.1"/><circle cx="330.5" cy="973.5" r="2.1"/><circle cx="347.3" cy="959.6" r="2.1"/><circle cx="562.2" cy="806.2" r="2.1"/><circle cx="506.3" cy="849.2" r="2.1"/><circle cx="375.7" cy="946.6" r="2.1"/><circle cx="532.9" cy="836.1" r="2.1"/><circle cx="584.3" cy="809.6" r="2.1"/><circle cx="579.4" cy="808.6" r="2.1"/><circle cx="586.7" cy="806.7" r="2.1"/><circle cx="360.2" cy="953" r="2.1"/><circle cx="621.2" cy="782.5" r="2.1"/><circle cx="330.7" cy="969.5" r="2.1"/><circle cx="595" cy="795.4" r="2.1"/><circle cx="561.3" cy="819.6" r="2.1"/><circle cx="613.1" cy="790.1" r="2.1"/><circle cx="367.5" cy="950.8" r="2.1"/><circle cx="517.7" cy="845" r="2.1"/><circle cx="318.1" cy="977.5" r="2.1"/><circle cx="335.8" cy="967.3" r="2.1"/><circle cx="523.4" cy="842.6" r="2.1"/><circle cx="325.1" cy="973.7" r="2.1"/><circle cx="441.6" cy="893.4" r="2.1"/><circle cx="585" cy="806.5" r="2.1"/><circle cx="373" cy="946.1" r="2.1"/><circle cx="606.5" cy="789.9" r="2.1"/><circle cx="364.8" cy="946.4" r="2.1"/><circle cx="607.8" cy="793.8" r="2.1"/><circle cx="382.4" cy="934.8" r="2.1"/><circle cx="328.7" cy="971.6" r="2.1"/><circle cx="320.7" cy="974.6" r="2.1"/><circle cx="496.4" cy="873.9" r="2.1"/><circle cx="465" cy="896" r="2.1"/><circle cx="557.3" cy="831.3" r="2.1"/><circle cx="594.8" cy="799" r="2.1"/><circle cx="588" cy="802.8" r="2.1"/><circle cx="584.2" cy="805" r="2.1"/><circle cx="418.6" cy="922.3" r="2.1"/><circle cx="467.3" cy="876.7" r="2.1"/><circle cx="341.2" cy="961.9" r="2.1"/><circle cx="516.7" cy="842.4" r="2.1"/><circle cx="570" cy="814.8" r="2.1"/><circle cx="342.9" cy="964.6" r="2.1"/><circle cx="356.5" cy="955.9" r="2.1"/><circle cx="516.7" cy="860.5" r="2.1"/><circle cx="339.5" cy="967.9" r="2.1"/><circle cx="326.2" cy="973.7" r="2.1"/><circle cx="421.8" cy="920.1" r="2.1"/><circle cx="332.8" cy="968.3" r="2.1"/><circle cx="346.9" cy="963.9" r="2.1"/><circle cx="321.1" cy="975.5" r="2.1"/><circle cx="362.5" cy="951.4" r="2.1"/><circle cx="324.7" cy="975.8" r="2.1"/><circle cx="548.4" cy="830.1" r="2.1"/><circle cx="503.8" cy="852.9" r="2.1"/><circle cx="374.8" cy="940.3" r="2.1"/><circle cx="331.7" cy="966.3" r="2.1"/><circle cx="374.1" cy="946.4" r="2.1"/><circle cx="609.9" cy="790.5" r="2.1"/><circle cx="493.1" cy="878.1" r="2.1"/><circle cx="547.4" cy="823.2" r="2.1"/><circle cx="571.1" cy="818.2" r="2.1"/><circle cx="391.5" cy="936.4" r="2.1"/><circle cx="565" cy="820.5" r="2.1"/><circle cx="369.8" cy="950.7" r="2.1"/><circle cx="368.2" cy="948" r="2.1"/><circle cx="353.8" cy="955.2" r="2.1"/><circle cx="403.9" cy="931.2" r="2.1"/><circle cx="367.6" cy="952" r="2.1"/><circle cx="360.8" cy="954.7" r="2.1"/><circle cx="414.1" cy="931.3" r="2.1"/><circle cx="621.4" cy="783.8" r="2.1"/><circle cx="359.9" cy="959" r="2.1"/><circle cx="557.3" cy="823.7" r="2.1"/><circle cx="416" cy="922.9" r="2.1"/><circle cx="365.5" cy="950.5" r="2.1"/><circle cx="613.9" cy="791.6" r="2.1"/><circle cx="443.7" cy="891.8" r="2.1"/><circle cx="353.2" cy="956.4" r="2.1"/><circle cx="387.6" cy="937.9" r="2.1"/><circle cx="547.5" cy="826.4" r="2.1"/><circle cx="398.8" cy="936" r="2.1"/><circle cx="573.7" cy="806.7" r="2.1"/><circle cx="319.7" cy="978.1" r="2.1"/><circle cx="484.3" cy="860.2" r="2.1"/><circle cx="585.3" cy="804.8" r="2.1"/><circle cx="383.9" cy="935.9" r="2.1"/><circle cx="581.1" cy="810.5" r="2.1"/><circle cx="616.1" cy="790.6" r="2.1"/><circle cx="352.7" cy="956.3" r="2.1"/><circle cx="365" cy="951.3" r="2.1"/><circle cx="342.7" cy="962" r="2.1"/><circle cx="597.4" cy="801.6" r="2.1"/><circle cx="364.7" cy="949.7" r="2.1"/><circle cx="349.4" cy="956.3" r="2.1"/><circle cx="548.7" cy="827.4" r="2.1"/><circle cx="317.5" cy="978.4" r="2.1"/><circle cx="375.5" cy="946.2" r="2.1"/><circle cx="407.6" cy="928" r="2.1"/><circle cx="348" cy="961.6" r="2.1"/><circle cx="623.5" cy="779.8" r="2.1"/><circle cx="507.7" cy="848.3" r="2.1"/><circle cx="379.9" cy="944.5" r="2.1"/><circle cx="547.8" cy="826.3" r="2.1"/><circle cx="597.4" cy="795" r="2.1"/><circle cx="412.2" cy="914.6" r="2.1"/><circle cx="570.4" cy="822.9" r="2.1"/><circle cx="319.4" cy="977.2" r="2.1"/><circle cx="544.3" cy="833.3" r="2.1"/><circle cx="352.2" cy="959.9" r="2.1"/><circle cx="581.1" cy="817.8" r="2.1"/><circle cx="393.1" cy="935.1" r="2.1"/><circle cx="597.6" cy="797.7" r="2.1"/><circle cx="351.4" cy="960.8" r="2.1"/><circle cx="600.5" cy="794" r="2.1"/><circle cx="607.5" cy="793.5" r="2.1"/><circle cx="601.5" cy="802.4" r="2.1"/><circle cx="321.6" cy="975.8" r="2.1"/><circle cx="324.7" cy="977.4" r="2.1"/><circle cx="608" cy="792.3" r="2.1"/><circle cx="322.3" cy="975.4" r="2.1"/><circle cx="350.9" cy="959" r="2.1"/><circle cx="548.6" cy="827.4" r="2.1"/><circle cx="356.5" cy="953.4" r="2.1"/><circle cx="334.9" cy="971.6" r="2.1"/><circle cx="619.3" cy="785.7" r="2.1"/><circle cx="362.6" cy="948.7" r="2.1"/><circle cx="625" cy="779.3" r="2.1"/><circle cx="625.7" cy="784.2" r="2.1"/><circle cx="580" cy="810.2" r="2.1"/><circle cx="613.2" cy="788.7" r="2.1"/><circle cx="539.4" cy="828.6" r="2.1"/><circle cx="319.5" cy="976.3" r="2.1"/><circle cx="557.2" cy="829.4" r="2.1"/><circle cx="581.8" cy="812.5" r="2.1"/><circle cx="524.1" cy="836.4" r="2.1"/><circle cx="566.1" cy="823" r="2.1"/><circle cx="468.3" cy="898.7" r="2.1"/><circle cx="425.8" cy="901.8" r="2.1"/><circle cx="553.5" cy="839.8" r="2.1"/><circle cx="338.7" cy="965.6" r="2.1"/><circle cx="619.2" cy="787.5" r="2.1"/><circle cx="614.1" cy="788" r="2.1"/><circle cx="573.7" cy="811.5" r="2.1"/><circle cx="564" cy="816.9" r="2.1"/><circle cx="589.4" cy="806.9" r="2.1"/><circle cx="580.7" cy="811.2" r="2.1"/><circle cx="582.7" cy="808.3" r="2.1"/><circle cx="617.9" cy="787.4" r="2.1"/><circle cx="614.7" cy="790.9" r="2.1"/><circle cx="531.3" cy="838.2" r="2.1"/><circle cx="335.3" cy="968.4" r="2.1"/><circle cx="355.5" cy="955.8" r="2.1"/><circle cx="572.9" cy="811.4" r="2.1"/><circle cx="372.9" cy="945.5" r="2.1"/><circle cx="366.3" cy="948.3" r="2.1"/><circle cx="612.5" cy="788.7" r="2.1"/><circle cx="328.8" cy="971.2" r="2.1"/><circle cx="544.8" cy="833.8" r="2.1"/><circle cx="584.7" cy="800.6" r="2.1"/><circle cx="362.8" cy="952.9" r="2.1"/><circle cx="601.2" cy="797.9" r="2.1"/><circle cx="575.8" cy="810.3" r="2.1"/><circle cx="598.1" cy="803.7" r="2.1"/><circle cx="605.4" cy="795.1" r="2.1"/><circle cx="343.8" cy="965.3" r="2.1"/><circle cx="364.6" cy="949.8" r="2.1"/><circle cx="317.5" cy="979.9" r="2.1"/><circle cx="351.2" cy="959.5" r="2.1"/><circle cx="325.2" cy="974.4" r="2.1"/><circle cx="583.2" cy="802.3" r="2.1"/><circle cx="443.2" cy="910.7" r="2.1"/><circle cx="366.5" cy="951" r="2.1"/><circle cx="598" cy="798.1" r="2.1"/><circle cx="600.5" cy="798.9" r="2.1"/><circle cx="619.2" cy="785.7" r="2.1"/><circle cx="324" cy="974.2" r="2.1"/><circle cx="374.9" cy="943.8" r="2.1"/><circle cx="601.7" cy="798.9" r="2.1"/><circle cx="328.2" cy="973.8" r="2.1"/><circle cx="423.9" cy="920.5" r="2.1"/><circle cx="557" cy="820.7" r="2.1"/><circle cx="381.7" cy="945.1" r="2.1"/><circle cx="356.2" cy="954.7" r="2.1"/><circle cx="590.3" cy="805.5" r="2.1"/><circle cx="592.6" cy="799.8" r="2.1"/><circle cx="318.5" cy="980.6" r="2.1"/><circle cx="587.2" cy="804.4" r="2.1"/><circle cx="367.7" cy="946" r="2.1"/><circle cx="324.7" cy="974.8" r="2.1"/><circle cx="377.6" cy="939.8" r="2.1"/><circle cx="580.4" cy="804.8" r="2.1"/><circle cx="502.2" cy="854.2" r="2.1"/><circle cx="342.2" cy="961.1" r="2.1"/><circle cx="412.2" cy="925.8" r="2.1"/><circle cx="592.9" cy="799.3" r="2.1"/><circle cx="551.2" cy="825.1" r="2.1"/><circle cx="599.6" cy="798.4" r="2.1"/><circle cx="343.4" cy="965" r="2.1"/><circle cx="553.4" cy="823.8" r="2.1"/><circle cx="339.8" cy="964.4" r="2.1"/><circle cx="341.4" cy="963.4" r="2.1"/><circle cx="318.8" cy="975" r="2.1"/><circle cx="374.2" cy="943.5" r="2.1"/><circle cx="429.9" cy="899.9" r="2.1"/><circle cx="510.8" cy="870.1" r="2.1"/><circle cx="370.5" cy="948.7" r="2.1"/><circle cx="551.8" cy="819.5" r="2.1"/><circle cx="562.6" cy="822.8" r="2.1"/><circle cx="521.9" cy="843.3" r="2.1"/><circle cx="395.2" cy="935.3" r="2.1"/><circle cx="576.2" cy="808.7" r="2.1"/><circle cx="371.7" cy="947.7" r="2.1"/><circle cx="528.5" cy="832.8" r="2.1"/><circle cx="542.7" cy="833.1" r="2.1"/><circle cx="337.5" cy="965.7" r="2.1"/><circle cx="388.5" cy="942.3" r="2.1"/><circle cx="619.7" cy="784" r="2.1"/><circle cx="357.5" cy="949.8" r="2.1"/><circle cx="552.6" cy="823.5" r="2.1"/><circle cx="616.6" cy="785.7" r="2.1"/><circle cx="366.2" cy="949.5" r="2.1"/><circle cx="615.1" cy="786" r="2.1"/><circle cx="543.8" cy="838.8" r="2.1"/><circle cx="321" cy="978.1" r="2.1"/><circle cx="388.8" cy="938.6" r="2.1"/><circle cx="334.5" cy="965.4" r="2.1"/><circle cx="363.4" cy="951.7" r="2.1"/><circle cx="549.6" cy="826.7" r="2.1"/><circle cx="359.6" cy="950.4" r="2.1"/><circle cx="353.2" cy="958.2" r="2.1"/><circle cx="577.7" cy="808.5" r="2.1"/><circle cx="414.6" cy="922.7" r="2.1"/><circle cx="624.4" cy="781.7" r="2.1"/><circle cx="348.8" cy="959" r="2.1"/><circle cx="554.6" cy="831.4" r="2.1"/><circle cx="393.5" cy="935.3" r="2.1"/><circle cx="323.1" cy="976.1" r="2.1"/><circle cx="355.3" cy="955.1" r="2.1"/><circle cx="350.4" cy="960.3" r="2.1"/><circle cx="555.8" cy="824.4" r="2.1"/><circle cx="424.6" cy="906.5" r="2.1"/><circle cx="609.4" cy="787.4" r="2.1"/><circle cx="505.7" cy="850.5" r="2.1"/><circle cx="329.5" cy="972.6" r="2.1"/><circle cx="560.8" cy="820" r="2.1"/><circle cx="592.2" cy="804.6" r="2.1"/><circle cx="389.4" cy="937.5" r="2.1"/><circle cx="374.1" cy="940.6" r="2.1"/><circle cx="344.9" cy="961.7" r="2.1"/><circle cx="378.3" cy="942.8" r="2.1"/><circle cx="367.4" cy="948.4" r="2.1"/><circle cx="553.2" cy="830.5" r="2.1"/><circle cx="484.1" cy="862.8" r="2.1"/><circle cx="412.8" cy="922.9" r="2.1"/><circle cx="612.3" cy="789.5" r="2.1"/><circle cx="569.4" cy="808.8" r="2.1"/><circle cx="337.3" cy="968.1" r="2.1"/><circle cx="344.9" cy="968.4" r="2.1"/><circle cx="579.6" cy="810.5" r="2.1"/><circle cx="353.7" cy="957.4" r="2.1"/><circle cx="377.1" cy="947.2" r="2.1"/><circle cx="521.2" cy="854.4" r="2.1"/><circle cx="544.8" cy="833.8" r="2.1"/><circle cx="604.5" cy="793.5" r="2.1"/><circle cx="607.1" cy="787" r="2.1"/><circle cx="326.1" cy="974.9" r="2.1"/><circle cx="388.2" cy="935.6" r="2.1"/><circle cx="327" cy="973.1" r="2.1"/><circle cx="317.4" cy="979.6" r="2.1"/><circle cx="320.5" cy="977" r="2.1"/><circle cx="563.8" cy="820.5" r="2.1"/><circle cx="333" cy="970.8" r="2.1"/><circle cx="535.5" cy="832.9" r="2.1"/><circle cx="437.3" cy="895.3" r="2.1"/><circle cx="583.4" cy="807.4" r="2.1"/><circle cx="354" cy="956.9" r="2.1"/><circle cx="472.8" cy="891.2" r="2.1"/><circle cx="625.9" cy="779.7" r="2.1"/><circle cx="592.7" cy="797.8" r="2.1"/><circle cx="337.8" cy="969.5" r="2.1"/><circle cx="351.4" cy="958.3" r="2.1"/><circle cx="374.4" cy="943.3" r="2.1"/><circle cx="482.3" cy="865.3" r="2.1"/><circle cx="539.9" cy="830.2" r="2.1"/><circle cx="319.4" cy="972.8" r="2.1"/><circle cx="319.9" cy="979" r="2.1"/><circle cx="584.5" cy="801.3" r="2.1"/><circle cx="612.9" cy="786.1" r="2.1"/><circle cx="507.3" cy="850.6" r="2.1"/><circle cx="599" cy="795.9" r="2.1"/><circle cx="532.4" cy="848.7" r="2.1"/><circle cx="620.3" cy="785.9" r="2.1"/><circle cx="350.2" cy="960.1" r="2.1"/><circle cx="473.2" cy="871.5" r="2.1"/><circle cx="602.1" cy="794.1" r="2.1"/><circle cx="356.8" cy="955" r="2.1"/><circle cx="332.5" cy="967.2" r="2.1"/><circle cx="332.3" cy="971.8" r="2.1"/><circle cx="338.4" cy="967.1" r="2.1"/><circle cx="367.4" cy="949" r="2.1"/><circle cx="555.3" cy="825.9" r="2.1"/><circle cx="543.2" cy="829.8" r="2.1"/><circle cx="560.2" cy="817.8" r="2.1"/><circle cx="369.3" cy="946.8" r="2.1"/><circle cx="527.3" cy="850.2" r="2.1"/><circle cx="552.2" cy="830.9" r="2.1"/><circle cx="492.1" cy="876.6" r="2.1"/><circle cx="577.7" cy="807.3" r="2.1"/><circle cx="360" cy="949.7" r="2.1"/><circle cx="383.4" cy="941.7" r="2.1"/><circle cx="371" cy="946.5" r="2.1"/><circle cx="523.8" cy="855.1" r="2.1"/><circle cx="361.9" cy="951.3" r="2.1"/><circle cx="446.9" cy="908.8" r="2.1"/><circle cx="401.2" cy="921.3" r="2.1"/><circle cx="386.3" cy="938.1" r="2.1"/><circle cx="610.5" cy="788.3" r="2.1"/><circle cx="623.5" cy="781.3" r="2.1"/><circle cx="538.3" cy="830.1" r="2.1"/><circle cx="599" cy="796.1" r="2.1"/><circle cx="367.4" cy="945.7" r="2.1"/><circle cx="583.5" cy="807.5" r="2.1"/><circle cx="596.6" cy="798.6" r="2.1"/><circle cx="609.6" cy="789.9" r="2.1"/><circle cx="608" cy="787.5" r="2.1"/><circle cx="372.6" cy="940.5" r="2.1"/><circle cx="453.9" cy="883" r="2.1"/><circle cx="549.7" cy="826.7" r="2.1"/><circle cx="350.3" cy="959.4" r="2.1"/><circle cx="377.5" cy="943.3" r="2.1"/><circle cx="395" cy="931.4" r="2.1"/><circle cx="548.5" cy="836.2" r="2.1"/><circle cx="606.1" cy="793.3" r="2.1"/><circle cx="603.3" cy="790.6" r="2.1"/><circle cx="391.7" cy="934" r="2.1"/><circle cx="560.1" cy="817.7" r="2.1"/><circle cx="552" cy="829.4" r="2.1"/><circle cx="562.5" cy="821.3" r="2.1"/><circle cx="574.7" cy="810.4" r="2.1"/><circle cx="594.5" cy="799.9" r="2.1"/><circle cx="512.1" cy="846.7" r="2.1"/><circle cx="575.8" cy="813.4" r="2.1"/><circle cx="604.5" cy="795.2" r="2.1"/><circle cx="439.1" cy="915.7" r="2.1"/><circle cx="409.1" cy="918.3" r="2.1"/><circle cx="587.1" cy="804.1" r="2.1"/><circle cx="618" cy="780.4" r="2.1"/><circle cx="610" cy="789.3" r="2.1"/><circle cx="551.2" cy="832.1" r="2.1"/><circle cx="579.3" cy="809.8" r="2.1"/><circle cx="590.5" cy="802.6" r="2.1"/><circle cx="505.5" cy="851.3" r="2.1"/><circle cx="392.1" cy="936.4" r="2.1"/><circle cx="322.2" cy="975" r="2.1"/><circle cx="552.3" cy="823.1" r="2.1"/><circle cx="552" cy="829.9" r="2.1"/><circle cx="543" cy="832.9" r="2.1"/><circle cx="496.3" cy="875.6" r="2.1"/><circle cx="539.1" cy="845.1" r="2.1"/><circle cx="520.5" cy="841.1" r="2.1"/><circle cx="386.1" cy="936.2" r="2.1"/><circle cx="492.7" cy="856.6" r="2.1"/><circle cx="356" cy="953.4" r="2.1"/><circle cx="351.6" cy="958.8" r="2.1"/><circle cx="562.5" cy="816.6" r="2.1"/><circle cx="373.1" cy="945.6" r="2.1"/><circle cx="595.7" cy="797.7" r="2.1"/><circle cx="386.6" cy="937.5" r="2.1"/><circle cx="365.5" cy="950.9" r="2.1"/><circle cx="525.7" cy="858.4" r="2.1"/><circle cx="521.5" cy="862.5" r="2.1"/><circle cx="408.1" cy="932" r="2.1"/><circle cx="361.9" cy="952.9" r="2.1"/><circle cx="597.9" cy="796.5" r="2.1"/><circle cx="354.7" cy="959.8" r="2.1"/><circle cx="622.2" cy="783.8" r="2.1"/><circle cx="578.1" cy="807.1" r="2.1"/><circle cx="583.1" cy="809.2" r="2.1"/><circle cx="336.6" cy="966.2" r="2.1"/><circle cx="593.7" cy="798.8" r="2.1"/><circle cx="328.6" cy="972" r="2.1"/><circle cx="583.5" cy="804" r="2.1"/><circle cx="341.1" cy="966.2" r="2.1"/><circle cx="603.1" cy="796.2" r="2.1"/><circle cx="563.5" cy="815.2" r="2.1"/><circle cx="347.4" cy="961.5" r="2.1"/><circle cx="318.5" cy="976.5" r="2.1"/><circle cx="584.1" cy="795.1" r="2.1"/><circle cx="577.3" cy="806.5" r="2.1"/><circle cx="612.7" cy="787.7" r="2.1"/><circle cx="382.7" cy="940.4" r="2.1"/><circle cx="574.5" cy="813.6" r="2.1"/><circle cx="392.6" cy="928.9" r="2.1"/><circle cx="322" cy="978.5" r="2.1"/><circle cx="383.8" cy="940.8" r="2.1"/><circle cx="543.5" cy="832.1" r="2.1"/><circle cx="600.7" cy="796.2" r="2.1"/><circle cx="571.9" cy="815" r="2.1"/><circle cx="453" cy="885.5" r="2.1"/><circle cx="388.3" cy="934.3" r="2.1"/><circle cx="603.2" cy="793.6" r="2.1"/><circle cx="349.2" cy="957.4" r="2.1"/><circle cx="321" cy="976.6" r="2.1"/><circle cx="614.3" cy="787.7" r="2.1"/><circle cx="600.3" cy="794.6" r="2.1"/><circle cx="348.2" cy="961.2" r="2.1"/><circle cx="382.3" cy="941.3" r="2.1"/><circle cx="401.6" cy="928.8" r="2.1"/><circle cx="333.3" cy="968.4" r="2.1"/><circle cx="533.3" cy="837.1" r="2.1"/><circle cx="569.1" cy="822.8" r="2.1"/><circle cx="423.1" cy="917.9" r="2.1"/><circle cx="360.1" cy="951.3" r="2.1"/><circle cx="558.5" cy="824.8" r="2.1"/><circle cx="359.3" cy="953.5" r="2.1"/><circle cx="331" cy="970.9" r="2.1"/><circle cx="588.8" cy="801.6" r="2.1"/><circle cx="345.9" cy="960.4" r="2.1"/><circle cx="536.2" cy="833.5" r="2.1"/><circle cx="334.1" cy="967" r="2.1"/><circle cx="345.8" cy="960" r="2.1"/><circle cx="597.9" cy="795.8" r="2.1"/><circle cx="607.8" cy="789.6" r="2.1"/><circle cx="621.5" cy="783.8" r="2.1"/><circle cx="553.8" cy="827" r="2.1"/><circle cx="619.6" cy="781.9" r="2.1"/><circle cx="580.8" cy="806.7" r="2.1"/><circle cx="385.1" cy="933.1" r="2.1"/><circle cx="361.2" cy="950.4" r="2.1"/><circle cx="623" cy="781.9" r="2.1"/><circle cx="565.3" cy="815.6" r="2.1"/><circle cx="342.4" cy="966.3" r="2.1"/><circle cx="353.8" cy="957.4" r="2.1"/><circle cx="547.5" cy="826.6" r="2.1"/><circle cx="357.1" cy="953.3" r="2.1"/><circle cx="569.5" cy="814.5" r="2.1"/><circle cx="341.5" cy="964.3" r="2.1"/><circle cx="612" cy="792.1" r="2.1"/><circle cx="519.1" cy="858.9" r="2.1"/><circle cx="319.7" cy="978" r="2.1"/><circle cx="568" cy="817.1" r="2.1"/><circle cx="380" cy="945.2" r="2.1"/><circle cx="365.2" cy="949.1" r="2.1"/><circle cx="582.2" cy="804.5" r="2.1"/><circle cx="614.7" cy="786.3" r="2.1"/><circle cx="506" cy="869.2" r="2.1"/><circle cx="610.3" cy="789.6" r="2.1"/><circle cx="570.5" cy="815.1" r="2.1"/><circle cx="467.1" cy="877.6" r="2.1"/><circle cx="376.9" cy="939.7" r="2.1"/><circle cx="498.7" cy="856.8" r="2.1"/><circle cx="336.5" cy="967.1" r="2.1"/><circle cx="601.7" cy="797.6" r="2.1"/><circle cx="372.8" cy="944.9" r="2.1"/><circle cx="516" cy="847.1" r="2.1"/><circle cx="599.5" cy="795.1" r="2.1"/><circle cx="468.4" cy="871.3" r="2.1"/><circle cx="324.8" cy="975.9" r="2.1"/><circle cx="366.7" cy="949.6" r="2.1"/><circle cx="371" cy="946.4" r="2.1"/><circle cx="611.1" cy="787.6" r="2.1"/><circle cx="427.9" cy="901.4" r="2.1"/><circle cx="424.7" cy="907" r="2.1"/><circle cx="618.8" cy="784.9" r="2.1"/><circle cx="380.5" cy="943" r="2.1"/><circle cx="610" cy="790.5" r="2.1"/><circle cx="598.4" cy="797.1" r="2.1"/><circle cx="366.4" cy="951.2" r="2.1"/><circle cx="394.7" cy="934.2" r="2.1"/><circle cx="533.4" cy="837.1" r="2.1"/><circle cx="392.9" cy="932.5" r="2.1"/><circle cx="371.5" cy="948.7" r="2.1"/><circle cx="357.2" cy="954.6" r="2.1"/><circle cx="401.9" cy="918.5" r="2.1"/><circle cx="411.2" cy="924.6" r="2.1"/><circle cx="426.1" cy="922.1" r="2.1"/><circle cx="536.1" cy="832.8" r="2.1"/><circle cx="370.5" cy="946.1" r="2.1"/><circle cx="424.2" cy="916.7" r="2.1"/><circle cx="345.7" cy="964.1" r="2.1"/><circle cx="353.8" cy="960.3" r="2.1"/><circle cx="595.4" cy="793.1" r="2.1"/><circle cx="329.7" cy="968.7" r="2.1"/><circle cx="402.2" cy="928.9" r="2.1"/><circle cx="584" cy="801.1" r="2.1"/><circle cx="341.3" cy="967.2" r="2.1"/><circle cx="382" cy="947.6" r="2.1"/><circle cx="575.4" cy="814.1" r="2.1"/><circle cx="352.6" cy="958.3" r="2.1"/><circle cx="609.4" cy="793.1" r="2.1"/><circle cx="353.8" cy="956.6" r="2.1"/><circle cx="556" cy="824.8" r="2.1"/><circle cx="452.2" cy="903.3" r="2.1"/><circle cx="394.9" cy="925.4" r="2.1"/><circle cx="623.9" cy="781.7" r="2.1"/><circle cx="614.4" cy="787.5" r="2.1"/><circle cx="364.7" cy="955.3" r="2.1"/><circle cx="595" cy="796.6" r="2.1"/><circle cx="474.2" cy="870.7" r="2.1"/><circle cx="510.2" cy="848.9" r="2.1"/><circle cx="558.9" cy="817.8" r="2.1"/><circle cx="576" cy="808.1" r="2.1"/><circle cx="533.8" cy="832.8" r="2.1"/><circle cx="318.3" cy="979.9" r="2.1"/><circle cx="575.8" cy="809.1" r="2.1"/><circle cx="329.9" cy="972.5" r="2.1"/><circle cx="582.2" cy="800.7" r="2.1"/><circle cx="317.1" cy="980" r="2.1"/><circle cx="514.4" cy="847.9" r="2.1"/><circle cx="324.8" cy="973.1" r="2.1"/><circle cx="550" cy="828.2" r="2.1"/><circle cx="354.2" cy="955.3" r="2.1"/><circle cx="588.1" cy="799.3" r="2.1"/><circle cx="609.3" cy="792.2" r="2.1"/><circle cx="379.6" cy="941.5" r="2.1"/><circle cx="371.3" cy="946.2" r="2.1"/><circle cx="592.9" cy="804.3" r="2.1"/><circle cx="366.4" cy="948.5" r="2.1"/><circle cx="569.8" cy="819.1" r="2.1"/><circle cx="381.7" cy="940.9" r="2.1"/><circle cx="568.6" cy="816.6" r="2.1"/><circle cx="507.8" cy="850.4" r="2.1"/><circle cx="504.7" cy="851.6" r="2.1"/><circle cx="477.2" cy="869.5" r="2.1"/><circle cx="358.9" cy="950.8" r="2.1"/><circle cx="600.2" cy="796.7" r="2.1"/><circle cx="571.5" cy="813.2" r="2.1"/><circle cx="381.1" cy="939.7" r="2.1"/><circle cx="386.4" cy="941.1" r="2.1"/><circle cx="555.5" cy="825" r="2.1"/><circle cx="377.3" cy="945.7" r="2.1"/><circle cx="550" cy="832.8" r="2.1"/><circle cx="348.3" cy="962.1" r="2.1"/><circle cx="617.3" cy="785" r="2.1"/><circle cx="409.2" cy="929.1" r="2.1"/><circle cx="606.4" cy="790.9" r="2.1"/><circle cx="357.1" cy="955.5" r="2.1"/><circle cx="594.4" cy="801.1" r="2.1"/><circle cx="429.9" cy="919.4" r="2.1"/><circle cx="624.7" cy="783.2" r="2.1"/><circle cx="393.3" cy="934.8" r="2.1"/><circle cx="380.9" cy="941.5" r="2.1"/><circle cx="513.5" cy="862.5" r="2.1"/><circle cx="390.7" cy="937.5" r="2.1"/><circle cx="470" cy="891" r="2.1"/><circle cx="575.9" cy="813.8" r="2.1"/><circle cx="507.3" cy="851.2" r="2.1"/><circle cx="599.5" cy="801.5" r="2.1"/><circle cx="390.6" cy="935.1" r="2.1"/><circle cx="611.4" cy="788.5" r="2.1"/><circle cx="400.9" cy="930.5" r="2.1"/><circle cx="531.7" cy="848.5" r="2.1"/><circle cx="583.7" cy="804.5" r="2.1"/><circle cx="321.4" cy="977.7" r="2.1"/><circle cx="599.4" cy="796.8" r="2.1"/><circle cx="502" cy="870.3" r="2.1"/><circle cx="329.5" cy="970.3" r="2.1"/><circle cx="405.7" cy="928.8" r="2.1"/><circle cx="344.5" cy="962.9" r="2.1"/><circle cx="517.8" cy="839.8" r="2.1"/><circle cx="581.3" cy="811.6" r="2.1"/><circle cx="568.5" cy="814.9" r="2.1"/><circle cx="326.5" cy="973" r="2.1"/><circle cx="369" cy="943" r="2.1"/><circle cx="411.2" cy="928.8" r="2.1"/><circle cx="390.6" cy="937.8" r="2.1"/><circle cx="372.6" cy="941.9" r="2.1"/><circle cx="571.4" cy="808" r="2.1"/><circle cx="621.3" cy="783.7" r="2.1"/><circle cx="390.2" cy="932" r="2.1"/><circle cx="607" cy="791.2" r="2.1"/><circle cx="554.3" cy="829.1" r="2.1"/><circle cx="617.7" cy="786.8" r="2.1"/><circle cx="475.3" cy="871.1" r="2.1"/><circle cx="325.5" cy="973.2" r="2.1"/><circle cx="355.4" cy="953.3" r="2.1"/><circle cx="532.2" cy="832" r="2.1"/><circle cx="322.5" cy="976.9" r="2.1"/><circle cx="393.5" cy="927" r="2.1"/><circle cx="450.4" cy="882.8" r="2.1"/><circle cx="384.3" cy="938.6" r="2.1"/><circle cx="412.6" cy="923.2" r="2.1"/><circle cx="552.2" cy="823" r="2.1"/><circle cx="393.3" cy="930.1" r="2.1"/><circle cx="610.9" cy="791.4" r="2.1"/><circle cx="330.3" cy="971.8" r="2.1"/><circle cx="565.7" cy="814.1" r="2.1"/><circle cx="525.8" cy="851.9" r="2.1"/><circle cx="611.1" cy="792.5" r="2.1"/><circle cx="372.9" cy="945.8" r="2.1"/><circle cx="358.3" cy="956.5" r="2.1"/><circle cx="328.7" cy="971.4" r="2.1"/><circle cx="622.7" cy="783.7" r="2.1"/><circle cx="605" cy="787.8" r="2.1"/><circle cx="573.3" cy="807.3" r="2.1"/><circle cx="621.5" cy="780.3" r="2.1"/><circle cx="611.3" cy="786.5" r="2.1"/><circle cx="362.3" cy="951.9" r="2.1"/><circle cx="317.7" cy="977.5" r="2.1"/><circle cx="563.7" cy="817.4" r="2.1"/><circle cx="419.1" cy="918.1" r="2.1"/><circle cx="522" cy="839.6" r="2.1"/><circle cx="506.5" cy="851.5" r="2.1"/><circle cx="599" cy="794.8" r="2.1"/><circle cx="351.7" cy="959.3" r="2.1"/><circle cx="584.1" cy="808.4" r="2.1"/><circle cx="547.3" cy="831.9" r="2.1"/><circle cx="320.2" cy="977.8" r="2.1"/><circle cx="544.3" cy="834" r="2.1"/><circle cx="467.3" cy="878.3" r="2.1"/><circle cx="384.6" cy="943" r="2.1"/><circle cx="338.6" cy="962.4" r="2.1"/><circle cx="523.5" cy="840.1" r="2.1"/><circle cx="622.7" cy="782.2" r="2.1"/><circle cx="340.7" cy="963.1" r="2.1"/><circle cx="598.6" cy="796.7" r="2.1"/><circle cx="530.7" cy="836.4" r="2.1"/><circle cx="451.6" cy="904.1" r="2.1"/><circle cx="562.8" cy="816.8" r="2.1"/><circle cx="419.8" cy="918.4" r="2.1"/><circle cx="349.3" cy="960.1" r="2.1"/><circle cx="618.5" cy="787.7" r="2.1"/><circle cx="617.7" cy="784" r="2.1"/><circle cx="371.8" cy="949.6" r="2.1"/><circle cx="379.1" cy="947.8" r="2.1"/><circle cx="342.4" cy="964.5" r="2.1"/><circle cx="377.3" cy="941.2" r="2.1"/><circle cx="558.5" cy="823.8" r="2.1"/><circle cx="527.7" cy="837.4" r="2.1"/><circle cx="602" cy="786" r="2.1"/><circle cx="580.6" cy="808.1" r="2.1"/><circle cx="384.7" cy="938.3" r="2.1"/><circle cx="618.8" cy="782.9" r="2.1"/><circle cx="327.1" cy="973.1" r="2.1"/><circle cx="424.7" cy="923.5" r="2.1"/><circle cx="543.3" cy="834" r="2.1"/><circle cx="508.1" cy="851.4" r="2.1"/><circle cx="339.8" cy="964.3" r="2.1"/><circle cx="426.4" cy="903.6" r="2.1"/><circle cx="361.1" cy="952.9" r="2.1"/><circle cx="569.3" cy="810.7" r="2.1"/><circle cx="616.7" cy="783.2" r="2.1"/><circle cx="595.5" cy="796.7" r="2.1"/><circle cx="568" cy="820" r="2.1"/><circle cx="605.3" cy="790.8" r="2.1"/><circle cx="383.3" cy="938.5" r="2.1"/><circle cx="580.1" cy="815.5" r="2.1"/><circle cx="526.6" cy="837.7" r="2.1"/><circle cx="574.5" cy="814.3" r="2.1"/><circle cx="327.6" cy="972.6" r="2.1"/><circle cx="616.9" cy="782.7" r="2.1"/><circle cx="602.3" cy="799.5" r="2.1"/><circle cx="602.5" cy="799.4" r="2.1"/><circle cx="373" cy="945.1" r="2.1"/><circle cx="369.1" cy="944.4" r="2.1"/><circle cx="600.7" cy="795.4" r="2.1"/><circle cx="605" cy="792.4" r="2.1"/><circle cx="341.5" cy="964.2" r="2.1"/><circle cx="554.6" cy="826.1" r="2.1"/><circle cx="385.1" cy="935.1" r="2.1"/><circle cx="593.7" cy="799.4" r="2.1"/><circle cx="329.7" cy="972.7" r="2.1"/><circle cx="527.9" cy="841.5" r="2.1"/><circle cx="580.1" cy="808.8" r="2.1"/><circle cx="378.3" cy="938.3" r="2.1"/><circle cx="499.9" cy="872.6" r="2.1"/><circle cx="343.5" cy="958.5" r="2.1"/><circle cx="598.9" cy="802.4" r="2.1"/><circle cx="319.7" cy="978.7" r="2.1"/><circle cx="617.2" cy="789.5" r="2.1"/><circle cx="549.5" cy="826.5" r="2.1"/><circle cx="381.1" cy="941.6" r="2.1"/><circle cx="345.9" cy="960.3" r="2.1"/><circle cx="399.7" cy="929.1" r="2.1"/><circle cx="519.2" cy="857.7" r="2.1"/><circle cx="609.4" cy="788" r="2.1"/><circle cx="579.9" cy="807.4" r="2.1"/><circle cx="398.4" cy="936.2" r="2.1"/><circle cx="616.6" cy="787.1" r="2.1"/><circle cx="399.5" cy="933" r="2.1"/><circle cx="517.2" cy="838.9" r="2.1"/><circle cx="523.9" cy="833" r="2.1"/><circle cx="546" cy="828" r="2.1"/><circle cx="606.7" cy="792.8" r="2.1"/><circle cx="492.3" cy="875.6" r="2.1"/><circle cx="421.4" cy="909.9" r="2.1"/><circle cx="601.2" cy="794.2" r="2.1"/><circle cx="478.4" cy="868.1" r="2.1"/><circle cx="583.3" cy="803.9" r="2.1"/><circle cx="379.6" cy="939.8" r="2.1"/><circle cx="328" cy="972.8" r="2.1"/><circle cx="588.5" cy="807" r="2.1"/><circle cx="529.9" cy="839.8" r="2.1"/><circle cx="609.3" cy="789.7" r="2.1"/><circle cx="607.6" cy="789.5" r="2.1"/><circle cx="599.3" cy="797.8" r="2.1"/><circle cx="607.8" cy="790.4" r="2.1"/><circle cx="341.6" cy="965.6" r="2.1"/><circle cx="568.1" cy="821.2" r="2.1"/><circle cx="366.5" cy="946.5" r="2.1"/><circle cx="625.3" cy="778.6" r="2.1"/><circle cx="332" cy="970.7" r="2.1"/><circle cx="551" cy="842.7" r="2.1"/><circle cx="363.9" cy="950.8" r="2.1"/><circle cx="587.6" cy="805.5" r="2.1"/><circle cx="401.5" cy="930.2" r="2.1"/><circle cx="539.6" cy="842.8" r="2.1"/><circle cx="607.7" cy="791.2" r="2.1"/><circle cx="336.6" cy="968" r="2.1"/><circle cx="537.7" cy="833.3" r="2.1"/><circle cx="342.7" cy="962.3" r="2.1"/><circle cx="557.8" cy="822.5" r="2.1"/><circle cx="581.9" cy="804.3" r="2.1"/><circle cx="359.8" cy="955.2" r="2.1"/><circle cx="590.4" cy="801.5" r="2.1"/><circle cx="615.5" cy="783.3" r="2.1"/><circle cx="381.6" cy="936.4" r="2.1"/><circle cx="596.7" cy="799.1" r="2.1"/><circle cx="621.3" cy="779.4" r="2.1"/><circle cx="576.6" cy="813.9" r="2.1"/><circle cx="319.5" cy="977.4" r="2.1"/><circle cx="563" cy="820.2" r="2.1"/><circle cx="617.7" cy="785.1" r="2.1"/><circle cx="613.1" cy="788.6" r="2.1"/><circle cx="442.7" cy="908.2" r="2.1"/><circle cx="582.7" cy="809.7" r="2.1"/><circle cx="430.6" cy="917.5" r="2.1"/><circle cx="559.2" cy="822.5" r="2.1"/><circle cx="469.2" cy="867.1" r="2.1"/><circle cx="601.3" cy="797.3" r="2.1"/><circle cx="582.1" cy="808.6" r="2.1"/><circle cx="523.9" cy="840" r="2.1"/><circle cx="399.4" cy="929.4" r="2.1"/><circle cx="375.8" cy="946.1" r="2.1"/><circle cx="602" cy="795" r="2.1"/><circle cx="379.2" cy="943.1" r="2.1"/><circle cx="575.9" cy="814.6" r="2.1"/><circle cx="326" cy="973.4" r="2.1"/><circle cx="603.8" cy="794.6" r="2.1"/><circle cx="557" cy="821.9" r="2.1"/><circle cx="594.1" cy="799.8" r="2.1"/><circle cx="573.1" cy="808.9" r="2.1"/><circle cx="344.9" cy="962.6" r="2.1"/><circle cx="596.7" cy="796.6" r="2.1"/><circle cx="617.3" cy="785" r="2.1"/><circle cx="397.5" cy="929.8" r="2.1"/><circle cx="498.6" cy="853.8" r="2.1"/><circle cx="558.5" cy="820.2" r="2.1"/><circle cx="450.2" cy="887.1" r="2.1"/><circle cx="517.8" cy="844.1" r="2.1"/><circle cx="558.8" cy="822" r="2.1"/><circle cx="541.8" cy="830.6" r="2.1"/><circle cx="347.8" cy="959.3" r="2.1"/><circle cx="333.8" cy="968.5" r="2.1"/><circle cx="570.6" cy="812.4" r="2.1"/><circle cx="362.6" cy="951.1" r="2.1"/><circle cx="357" cy="951.3" r="2.1"/><circle cx="371.8" cy="942.6" r="2.1"/><circle cx="604.7" cy="788.9" r="2.1"/><circle cx="386" cy="931.3" r="2.1"/><circle cx="608.8" cy="790.6" r="2.1"/><circle cx="530.9" cy="831" r="2.1"/><circle cx="405" cy="930.8" r="2.1"/><circle cx="467.8" cy="892.2" r="2.1"/><circle cx="337.3" cy="965.2" r="2.1"/><circle cx="331.6" cy="969" r="2.1"/><circle cx="608.7" cy="795.3" r="2.1"/><circle cx="580" cy="808.9" r="2.1"/><circle cx="550" cy="826.9" r="2.1"/><circle cx="348.9" cy="962.4" r="2.1"/><circle cx="538.1" cy="842.2" r="2.1"/><circle cx="319.9" cy="979.2" r="2.1"/><circle cx="396.1" cy="931.3" r="2.1"/><circle cx="588.1" cy="801.5" r="2.1"/><circle cx="589.7" cy="805.3" r="2.1"/><circle cx="551.8" cy="822" r="2.1"/><circle cx="562.6" cy="818" r="2.1"/><circle cx="400.6" cy="925.1" r="2.1"/><circle cx="569.2" cy="810.3" r="2.1"/><circle cx="352.8" cy="957.9" r="2.1"/><circle cx="512.7" cy="868.5" r="2.1"/><circle cx="350.5" cy="959.3" r="2.1"/><circle cx="379.9" cy="931.1" r="2.1"/><circle cx="582.2" cy="803.6" r="2.1"/><circle cx="564.6" cy="823" r="2.1"/><circle cx="521.3" cy="844" r="2.1"/><circle cx="377.2" cy="941.7" r="2.1"/><circle cx="366.7" cy="945.9" r="2.1"/><circle cx="567.3" cy="818.6" r="2.1"/><circle cx="385.9" cy="938.5" r="2.1"/><circle cx="590.6" cy="802" r="2.1"/><circle cx="362.1" cy="950.7" r="2.1"/><circle cx="526.8" cy="836.7" r="2.1"/><circle cx="393.6" cy="930.4" r="2.1"/><circle cx="569.4" cy="810.8" r="2.1"/><circle cx="570.6" cy="817" r="2.1"/><circle cx="369.9" cy="946.8" r="2.1"/><circle cx="352.8" cy="955.5" r="2.1"/><circle cx="548.2" cy="830.8" r="2.1"/><circle cx="332.9" cy="969.3" r="2.1"/><circle cx="605.4" cy="792.5" r="2.1"/><circle cx="374.2" cy="942.9" r="2.1"/><circle cx="539.6" cy="831.5" r="2.1"/><circle cx="550.9" cy="836.8" r="2.1"/><circle cx="408.4" cy="918.4" r="2.1"/><circle cx="572.1" cy="818.5" r="2.1"/><circle cx="550.5" cy="828.1" r="2.1"/><circle cx="496.3" cy="852.1" r="2.1"/><circle cx="435.6" cy="912.6" r="2.1"/><circle cx="616.7" cy="782.9" r="2.1"/><circle cx="391.3" cy="934.7" r="2.1"/><circle cx="601.8" cy="793.8" r="2.1"/><circle cx="603.3" cy="792.8" r="2.1"/><circle cx="548" cy="833.2" r="2.1"/><circle cx="571.4" cy="816" r="2.1"/><circle cx="574.6" cy="809.9" r="2.1"/><circle cx="617.8" cy="786.4" r="2.1"/><circle cx="517.5" cy="844.1" r="2.1"/><circle cx="618.4" cy="787.4" r="2.1"/><circle cx="384.3" cy="936.9" r="2.1"/><circle cx="554.3" cy="826.8" r="2.1"/><circle cx="302.3" cy="986.7" r="2.1"/><circle cx="305.5" cy="986.1" r="2.1"/><circle cx="312.9" cy="981.2" r="2.1"/><circle cx="303" cy="987.2" r="2.1"/><circle cx="299.6" cy="990" r="2.1"/><circle cx="314.6" cy="979.4" r="2.1"/><circle cx="316.2" cy="978.9" r="2.1"/><circle cx="314.5" cy="980.6" r="2.1"/><circle cx="313.3" cy="980.4" r="2.1"/><circle cx="312" cy="982.2" r="2.1"/><circle cx="308.9" cy="983.6" r="2.1"/><circle cx="310.7" cy="982.3" r="2.1"/><circle cx="312.3" cy="979.9" r="2.1"/><circle cx="305.1" cy="986.5" r="2.1"/><circle cx="302.9" cy="986.4" r="2.1"/><circle cx="311.4" cy="980.8" r="2.1"/><circle cx="309.8" cy="983.2" r="2.1"/><circle cx="316.6" cy="978.4" r="2.1"/><circle cx="306.6" cy="985" r="2.1"/><circle cx="306.5" cy="985.6" r="2.1"/><circle cx="301.5" cy="988.1" r="2.1"/><circle cx="299.6" cy="989.9" r="2.1"/><circle cx="301.8" cy="988" r="2.1"/><circle cx="309.6" cy="983.8" r="2.1"/><circle cx="316.1" cy="978.9" r="2.1"/><circle cx="301.3" cy="989.5" r="2.1"/><circle cx="302.1" cy="987.9" r="2.1"/><circle cx="311.2" cy="981.5" r="2.1"/><circle cx="304.6" cy="986" r="2.1"/><circle cx="300.1" cy="989.3" r="2.1"/><circle cx="653.4" cy="762.5" r="2.1"/><circle cx="630.8" cy="777.5" r="2.1"/><circle cx="639.6" cy="768.7" r="2.1"/><circle cx="649.3" cy="765" r="2.1"/><circle cx="650.1" cy="764.5" r="2.1"/><circle cx="655.5" cy="761.7" r="2.1"/><circle cx="644.4" cy="768.7" r="2.1"/><circle cx="630.7" cy="776.5" r="2.1"/><circle cx="628.7" cy="779.1" r="2.1"/><circle cx="645.9" cy="768" r="2.1"/><circle cx="642.6" cy="769.9" r="2.1"/><circle cx="633.8" cy="773.4" r="2.1"/><circle cx="631.3" cy="776.6" r="2.1"/><circle cx="636.9" cy="773.6" r="2.1"/><circle cx="635" cy="774.5" r="2.1"/><circle cx="637.1" cy="773.7" r="2.1"/><circle cx="294.5" cy="991.6" r="2.1"/><circle cx="297.5" cy="990.8" r="2.1"/><circle cx="295.3" cy="992.6" r="2.1"/><circle cx="294.6" cy="998.1" r="2.1"/><circle cx="293.9" cy="1003.4" r="2.1"/><circle cx="331.6" cy="961" r="2.1"/><circle cx="631.2" cy="767.1" r="2.1"/><circle cx="594.8" cy="791" r="2.1"/><circle cx="389.6" cy="921.3" r="2.1"/><circle cx="525.3" cy="860.5" r="2.1"/><circle cx="613" cy="781.2" r="2.1"/><circle cx="412.7" cy="908.2" r="2.1"/></g><g fill="#ff0000" fill-opacity="0.55" stroke="#ff0000" stroke-opacity="0.55" stroke-width="1.4"><circle cx="397.6" cy="922.9" r="2.1"/><circle cx="547.6" cy="834.3" r="2.1"/><circle cx="465.5" cy="895.3" r="2.1"/><circle cx="554.2" cy="836.9" r="2.1"/><circle cx="446" cy="887.1" r="2.1"/><circle cx="376.3" cy="935.1" r="2.1"/><circle cx="451.1" cy="887.6" r="2.1"/><circle cx="531.4" cy="848.5" r="2.1"/><circle cx="362.4" cy="946" r="2.1"/><circle cx="571.6" cy="818.2" r="2.1"/><circle cx="536.8" cy="846.8" r="2.1"/><circle cx="451.8" cy="886.1" r="2.1"/><circle cx="403.1" cy="923.7" r="2.1"/><circle cx="558.1" cy="829.8" r="2.1"/><circle cx="536.4" cy="843.5" r="2.1"/><circle cx="497.4" cy="874.8" r="2.1"/><circle cx="377.9" cy="936.8" r="2.1"/><circle cx="520.7" cy="863" r="2.1"/><circle cx="533.5" cy="846.6" r="2.1"/><circle cx="572.7" cy="825.8" r="2.1"/><circle cx="559.2" cy="827.8" r="2.1"/><circle cx="439.6" cy="892.3" r="2.1"/><circle cx="373.4" cy="943.9" r="2.1"/><circle cx="559" cy="824.8" r="2.1"/><circle cx="376.9" cy="936.8" r="2.1"/><circle cx="436.1" cy="898" r="2.1"/><circle cx="556.9" cy="825" r="2.1"/><circle cx="409" cy="914.5" r="2.1"/><circle cx="399.8" cy="927.8" r="2.1"/><circle cx="381.3" cy="934.1" r="2.1"/><circle cx="384.9" cy="931.6" r="2.1"/><circle cx="512.9" cy="862.4" r="2.1"/><circle cx="413.4" cy="911.1" r="2.1"/><circle cx="410.9" cy="917.3" r="2.1"/><circle cx="440.1" cy="894.2" r="2.1"/><circle cx="378.5" cy="936.1" r="2.1"/><circle cx="427.8" cy="916.5" r="2.1"/><circle cx="523" cy="844.8" r="2.1"/><circle cx="528" cy="841.6" r="2.1"/><circle cx="515.9" cy="861.4" r="2.1"/><circle cx="468.4" cy="877.8" r="2.1"/><circle cx="482" cy="865.3" r="2.1"/><circle cx="387.4" cy="931.6" r="2.1"/><circle cx="389.6" cy="927.8" r="2.1"/><circle cx="411" cy="914.9" r="2.1"/><circle cx="562.5" cy="826" r="2.1"/><circle cx="375.4" cy="934.9" r="2.1"/><circle cx="534.8" cy="835" r="2.1"/><circle cx="402.1" cy="924.8" r="2.1"/><circle cx="501.2" cy="870.4" r="2.1"/><circle cx="574.8" cy="815.7" r="2.1"/><circle cx="574.1" cy="814.2" r="2.1"/><circle cx="567.2" cy="823" r="2.1"/><circle cx="558.1" cy="828.3" r="2.1"/><circle cx="564.6" cy="822.7" r="2.1"/><circle cx="523.6" cy="852.3" r="2.1"/><circle cx="546.2" cy="839.9" r="2.1"/><circle cx="571.3" cy="818.6" r="2.1"/><circle cx="462.6" cy="897.3" r="2.1"/><circle cx="399.2" cy="921.5" r="2.1"/><circle cx="565.1" cy="824.5" r="2.1"/><circle cx="427.2" cy="904.6" r="2.1"/><circle cx="530.9" cy="847" r="2.1"/><circle cx="453" cy="885.6" r="2.1"/><circle cx="477.8" cy="886.2" r="2.1"/><circle cx="538.8" cy="844.7" r="2.1"/><circle cx="549.6" cy="834.9" r="2.1"/><circle cx="362.6" cy="945.4" r="2.1"/><circle cx="389.7" cy="934.4" r="2.1"/><circle cx="442.3" cy="889" r="2.1"/><circle cx="413.4" cy="913" r="2.1"/><circle cx="509.7" cy="862.2" r="2.1"/><circle cx="505.9" cy="868.3" r="2.1"/><circle cx="564.2" cy="824.7" r="2.1"/><circle cx="563.2" cy="822.2" r="2.1"/><circle cx="375.3" cy="942.8" r="2.1"/><circle cx="392.6" cy="928.3" r="2.1"/><circle cx="534.3" cy="847.4" r="2.1"/><circle cx="363.2" cy="948.8" r="2.1"/><circle cx="555.6" cy="828.2" r="2.1"/><circle cx="403.4" cy="924.6" r="2.1"/><circle cx="519.8" cy="858.1" r="2.1"/><circle cx="545.1" cy="838.3" r="2.1"/><circle cx="565.9" cy="822.1" r="2.1"/><circle cx="418.1" cy="908.4" r="2.1"/><circle cx="558.9" cy="824.4" r="2.1"/><circle cx="535.5" cy="846.3" r="2.1"/><circle cx="558.9" cy="827.1" r="2.1"/><circle cx="391.4" cy="926.7" r="2.1"/><circle cx="565.4" cy="824" r="2.1"/><circle cx="418.2" cy="911.8" r="2.1"/><circle cx="517.4" cy="857.4" r="2.1"/><circle cx="561" cy="827.2" r="2.1"/><circle cx="392.8" cy="929.6" r="2.1"/><circle cx="569.1" cy="820.5" r="2.1"/><circle cx="377.9" cy="936.8" r="2.1"/><circle cx="393.7" cy="927.9" r="2.1"/><circle cx="545.9" cy="837.3" r="2.1"/><circle cx="467.6" cy="877.7" r="2.1"/><circle cx="542.3" cy="842" r="2.1"/><circle cx="398.3" cy="930.7" r="2.1"/><circle cx="397.7" cy="923.4" r="2.1"/><circle cx="367.2" cy="947.7" r="2.1"/><circle cx="526.6" cy="850.8" r="2.1"/><circle cx="397.8" cy="925.4" r="2.1"/><circle cx="394" cy="924.4" r="2.1"/><circle cx="404.3" cy="916.9" r="2.1"/><circle cx="541.5" cy="840.8" r="2.1"/><circle cx="384.6" cy="929.1" r="2.1"/><circle cx="442.1" cy="892.6" r="2.1"/><circle cx="423.7" cy="916.8" r="2.1"/><circle cx="411.4" cy="922.4" r="2.1"/><circle cx="424.8" cy="906.5" r="2.1"/><circle cx="535.4" cy="844.5" r="2.1"/><circle cx="403" cy="921.9" r="2.1"/><circle cx="456.2" cy="900.2" r="2.1"/><circle cx="520.6" cy="855.7" r="2.1"/><circle cx="538.7" cy="835.4" r="2.1"/><circle cx="543.4" cy="840.2" r="2.1"/><circle cx="424.8" cy="906.3" r="2.1"/><circle cx="390.2" cy="926.3" r="2.1"/><circle cx="382.9" cy="933.9" r="2.1"/><circle cx="376" cy="942.1" r="2.1"/><circle cx="526.3" cy="852.8" r="2.1"/><circle cx="519.7" cy="859.2" r="2.1"/><circle cx="567.9" cy="816.5" r="2.1"/><circle cx="392.7" cy="929.5" r="2.1"/><circle cx="430.3" cy="914.2" r="2.1"/><circle cx="470.5" cy="873.4" r="2.1"/><circle cx="414.3" cy="914.6" r="2.1"/><circle cx="406.3" cy="919.9" r="2.1"/><circle cx="440.7" cy="894.1" r="2.1"/><circle cx="524.8" cy="852.3" r="2.1"/><circle cx="555.6" cy="827.6" r="2.1"/><circle cx="388" cy="935" r="2.1"/><circle cx="377.6" cy="936.3" r="2.1"/><circle cx="549" cy="831.8" r="2.1"/><circle cx="381.7" cy="937.6" r="2.1"/><circle cx="505.7" cy="852.4" r="2.1"/><circle cx="419.8" cy="909.3" r="2.1"/><circle cx="360.1" cy="946.4" r="2.1"/><circle cx="368.5" cy="943.1" r="2.1"/><circle cx="574.2" cy="826.7" r="2.1"/><circle cx="450" cy="888.9" r="2.1"/><circle cx="468" cy="876.1" r="2.1"/><circle cx="556.6" cy="827.4" r="2.1"/><circle cx="399.3" cy="928.3" r="2.1"/><circle cx="535.8" cy="846.9" r="2.1"/><circle cx="486.1" cy="864.4" r="2.1"/><circle cx="380.7" cy="936.4" r="2.1"/><circle cx="371.9" cy="941.8" r="2.1"/><circle cx="522.1" cy="855.1" r="2.1"/><circle cx="447.9" cy="889.6" r="2.1"/><circle cx="534.4" cy="844.5" r="2.1"/><circle cx="547.2" cy="833" r="2.1"/><circle cx="528" cy="850.3" r="2.1"/><circle cx="366.9" cy="947.1" r="2.1"/><circle cx="538.9" cy="840.1" r="2.1"/><circle cx="452.6" cy="886.8" r="2.1"/><circle cx="368.5" cy="940.2" r="2.1"/><circle cx="394.5" cy="930.3" r="2.1"/><circle cx="523" cy="856.9" r="2.1"/><circle cx="555.5" cy="831.9" r="2.1"/><circle cx="368.5" cy="945.4" r="2.1"/><circle cx="421.1" cy="917.1" r="2.1"/><circle cx="387.4" cy="930.1" r="2.1"/><circle cx="446.9" cy="887.7" r="2.1"/><circle cx="534.2" cy="845.4" r="2.1"/><circle cx="482.8" cy="882.1" r="2.1"/><circle cx="367.6" cy="946.1" r="2.1"/><circle cx="387.1" cy="932.6" r="2.1"/><circle cx="551.5" cy="829.2" r="2.1"/><circle cx="399.7" cy="929.2" r="2.1"/><circle cx="543.1" cy="841.7" r="2.1"/><circle cx="369.6" cy="944.3" r="2.1"/><circle cx="423.1" cy="904.3" r="2.1"/><circle cx="365.2" cy="943.3" r="2.1"/><circle cx="395.5" cy="926.1" r="2.1"/><circle cx="532.1" cy="848.5" r="2.1"/><circle cx="547.1" cy="834" r="2.1"/><circle cx="531.9" cy="845.4" r="2.1"/><circle cx="519.7" cy="858.3" r="2.1"/><circle cx="399" cy="928.5" r="2.1"/><circle cx="418.6" cy="905.5" r="2.1"/><circle cx="553.6" cy="826.7" r="2.1"/><circle cx="379.1" cy="938.3" r="2.1"/><circle cx="395.5" cy="927.9" r="2.1"/><circle cx="455.7" cy="899.6" r="2.1"/><circle cx="465.5" cy="894.3" r="2.1"/><circle cx="384.3" cy="935" r="2.1"/><circle cx="378.2" cy="936.4" r="2.1"/><circle cx="393.8" cy="927.8" r="2.1"/><circle cx="442" cy="891.5" r="2.1"/><circle cx="476.8" cy="870" r="2.1"/><circle cx="550.3" cy="835.6" r="2.1"/><circle cx="411" cy="914.7" r="2.1"/><circle cx="520.7" cy="855.1" r="2.1"/><circle cx="439.5" cy="913.1" r="2.1"/><circle cx="560.7" cy="821" r="2.1"/><circle cx="539.6" cy="843.9" r="2.1"/><circle cx="414.5" cy="916.8" r="2.1"/><circle cx="385.2" cy="928.8" r="2.1"/><circle cx="408.9" cy="916.1" r="2.1"/><circle cx="438" cy="895.3" r="2.1"/><circle cx="369.7" cy="945.3" r="2.1"/><circle cx="417" cy="910.1" r="2.1"/><circle cx="567" cy="821.4" r="2.1"/><circle cx="452.1" cy="884.4" r="2.1"/><circle cx="438.9" cy="892.9" r="2.1"/><circle cx="523.5" cy="852.3" r="2.1"/><circle cx="551.2" cy="833.6" r="2.1"/><circle cx="453.6" cy="905.2" r="2.1"/><circle cx="425.1" cy="908" r="2.1"/><circle cx="537.7" cy="842.2" r="2.1"/><circle cx="576.3" cy="820.1" r="2.1"/><circle cx="549.3" cy="835.6" r="2.1"/><circle cx="530.4" cy="845.8" r="2.1"/><circle cx="467.7" cy="891.8" r="2.1"/><circle cx="508.9" cy="864.5" r="2.1"/><circle cx="368.5" cy="942.7" r="2.1"/><circle cx="513.1" cy="862.6" r="2.1"/><circle cx="404" cy="921.1" r="2.1"/><circle cx="363.2" cy="949.7" r="2.1"/><circle cx="564.1" cy="822" r="2.1"/><circle cx="536.9" cy="841.8" r="2.1"/><circle cx="526.5" cy="851.8" r="2.1"/><circle cx="534.9" cy="840.6" r="2.1"/><circle cx="557.7" cy="829.2" r="2.1"/><circle cx="413.4" cy="917" r="2.1"/><circle cx="400.7" cy="922.3" r="2.1"/><circle cx="500.5" cy="871.9" r="2.1"/><circle cx="540.5" cy="842.4" r="2.1"/><circle cx="527.6" cy="848.8" r="2.1"/><circle cx="392.2" cy="930.8" r="2.1"/><circle cx="360.6" cy="950.5" r="2.1"/><circle cx="428.4" cy="901.2" r="2.1"/><circle cx="403.4" cy="921.7" r="2.1"/><circle cx="567" cy="823.2" r="2.1"/><circle cx="539.7" cy="838.8" r="2.1"/><circle cx="513.8" cy="860.6" r="2.1"/><circle cx="408" cy="921.3" r="2.1"/><circle cx="556" cy="828.9" r="2.1"/><circle cx="415" cy="915.2" r="2.1"/><circle cx="565.9" cy="823.9" r="2.1"/><circle cx="386.3" cy="928.1" r="2.1"/><circle cx="545.1" cy="834.6" r="2.1"/><circle cx="562.2" cy="827.2" r="2.1"/><circle cx="426.6" cy="905.8" r="2.1"/><circle cx="379.5" cy="937.3" r="2.1"/><circle cx="413" cy="913.6" r="2.1"/><circle cx="398.9" cy="927.3" r="2.1"/><circle cx="583.4" cy="814.5" r="2.1"/><circle cx="429.3" cy="900.9" r="2.1"/><circle cx="545.5" cy="839" r="2.1"/><circle cx="516.5" cy="866.7" r="2.1"/><circle cx="447.8" cy="882.3" r="2.1"/><circle cx="422.4" cy="906.7" r="2.1"/><circle cx="543.5" cy="836.6" r="2.1"/><circle cx="404.6" cy="926" r="2.1"/><circle cx="513" cy="861.4" r="2.1"/><circle cx="516.7" cy="861" r="2.1"/><circle cx="411.7" cy="917.1" r="2.1"/><circle cx="571.1" cy="821.9" r="2.1"/><circle cx="426.2" cy="905.7" r="2.1"/><circle cx="567.3" cy="821.9" r="2.1"/><circle cx="421.5" cy="908.9" r="2.1"/><circle cx="526.3" cy="852.7" r="2.1"/><circle cx="557" cy="826.4" r="2.1"/><circle cx="536" cy="840.8" r="2.1"/><circle cx="556" cy="831.1" r="2.1"/><circle cx="472.7" cy="873.1" r="2.1"/><circle cx="531.3" cy="854.3" r="2.1"/><circle cx="418" cy="911.3" r="2.1"/><circle cx="529" cy="853.3" r="2.1"/><circle cx="448.4" cy="890" r="2.1"/><circle cx="522.5" cy="854.3" r="2.1"/><circle cx="408" cy="919.3" r="2.1"/><circle cx="390.4" cy="930.4" r="2.1"/><circle cx="372.3" cy="936.4" r="2.1"/><circle cx="484.4" cy="886.3" r="2.1"/><circle cx="397.7" cy="925.2" r="2.1"/><circle cx="541.5" cy="840.3" r="2.1"/><circle cx="368.8" cy="941.4" r="2.1"/><circle cx="402.8" cy="919.7" r="2.1"/><circle cx="543.5" cy="838" r="2.1"/><circle cx="364.8" cy="942.2" r="2.1"/><circle cx="504.7" cy="868.4" r="2.1"/><circle cx="551.8" cy="832.3" r="2.1"/><circle cx="438.9" cy="895.6" r="2.1"/><circle cx="378.9" cy="938.8" r="2.1"/><circle cx="530.6" cy="845.6" r="2.1"/><circle cx="410.4" cy="921.2" r="2.1"/><circle cx="538.3" cy="840.6" r="2.1"/><circle cx="369.5" cy="941" r="2.1"/><circle cx="530.9" cy="846.5" r="2.1"/><circle cx="523.1" cy="853.3" r="2.1"/><circle cx="360.7" cy="948.2" r="2.1"/><circle cx="403.3" cy="920.4" r="2.1"/><circle cx="563.8" cy="829.6" r="2.1"/><circle cx="552.9" cy="828.9" r="2.1"/><circle cx="565.5" cy="828.6" r="2.1"/><circle cx="542" cy="837" r="2.1"/><circle cx="378.3" cy="939.8" r="2.1"/><circle cx="533.8" cy="846.2" r="2.1"/><circle cx="551.7" cy="836.4" r="2.1"/><circle cx="419.2" cy="911.3" r="2.1"/><circle cx="413.3" cy="908.4" r="2.1"/><circle cx="541.1" cy="842.5" r="2.1"/><circle cx="360.9" cy="945.4" r="2.1"/><circle cx="433" cy="898.9" r="2.1"/><circle cx="413.9" cy="914.4" r="2.1"/><circle cx="480.1" cy="885.5" r="2.1"/><circle cx="419.3" cy="910.8" r="2.1"/><circle cx="373" cy="941.4" r="2.1"/><circle cx="482.2" cy="865.3" r="2.1"/><circle cx="389.9" cy="932.3" r="2.1"/><circle cx="505.6" cy="868.7" r="2.1"/><circle cx="386.5" cy="932.8" r="2.1"/><circle cx="380.7" cy="933.2" r="2.1"/><circle cx="390" cy="927.8" r="2.1"/><circle cx="535.9" cy="840.5" r="2.1"/><circle cx="534.3" cy="845.6" r="2.1"/><circle cx="509.4" cy="861.8" r="2.1"/><circle cx="395.8" cy="926.4" r="2.1"/><circle cx="536.2" cy="841.2" r="2.1"/><circle cx="562.7" cy="824.5" r="2.1"/><circle cx="391.1" cy="928.7" r="2.1"/><circle cx="506.5" cy="865.3" r="2.1"/><circle cx="454.5" cy="885.5" r="2.1"/><circle cx="396.5" cy="919.3" r="2.1"/><circle cx="565.7" cy="825.4" r="2.1"/><circle cx="573.6" cy="820.3" r="2.1"/><circle cx="573.6" cy="820.7" r="2.1"/><circle cx="404.7" cy="917" r="2.1"/><circle cx="421.8" cy="907" r="2.1"/><circle cx="410.5" cy="913.5" r="2.1"/><circle cx="438.7" cy="894.6" r="2.1"/><circle cx="413.4" cy="911.8" r="2.1"/><circle cx="500.9" cy="874" r="2.1"/><circle cx="524.5" cy="853.7" r="2.1"/><circle cx="435.5" cy="898.6" r="2.1"/><circle cx="390.1" cy="933.5" r="2.1"/><circle cx="555" cy="828" r="2.1"/><circle cx="503.2" cy="868" r="2.1"/><circle cx="395.2" cy="926" r="2.1"/><circle cx="546.8" cy="839.2" r="2.1"/><circle cx="512.1" cy="862.9" r="2.1"/><circle cx="362.8" cy="945.9" r="2.1"/><circle cx="420.4" cy="911.6" r="2.1"/><circle cx="401.9" cy="923.5" r="2.1"/><circle cx="524" cy="852.8" r="2.1"/><circle cx="557" cy="825.6" r="2.1"/><circle cx="504.4" cy="853.7" r="2.1"/><circle cx="528.5" cy="850.3" r="2.1"/><circle cx="571.3" cy="821.8" r="2.1"/><circle cx="527.7" cy="850.7" r="2.1"/><circle cx="419.3" cy="910.6" r="2.1"/><circle cx="435.1" cy="913.5" r="2.1"/><circle cx="447.9" cy="889.2" r="2.1"/><circle cx="476" cy="871.8" r="2.1"/><circle cx="502.3" cy="869.6" r="2.1"/><circle cx="568.4" cy="819.5" r="2.1"/><circle cx="376.9" cy="935.9" r="2.1"/><circle cx="394.6" cy="925.3" r="2.1"/><circle cx="403.8" cy="917.1" r="2.1"/><circle cx="574.7" cy="821" r="2.1"/><circle cx="386.3" cy="930" r="2.1"/><circle cx="485.6" cy="863.2" r="2.1"/><circle cx="380.2" cy="932.9" r="2.1"/><circle cx="433.1" cy="898.6" r="2.1"/><circle cx="546.4" cy="834.1" r="2.1"/><circle cx="373.7" cy="938.3" r="2.1"/><circle cx="427.7" cy="898.9" r="2.1"/><circle cx="562.2" cy="827.2" r="2.1"/><circle cx="493.3" cy="874.3" r="2.1"/><circle cx="570.4" cy="822.4" r="2.1"/><circle cx="505.9" cy="866.3" r="2.1"/><circle cx="398" cy="925.7" r="2.1"/><circle cx="399.3" cy="922.7" r="2.1"/><circle cx="554.1" cy="829.9" r="2.1"/><circle cx="403.3" cy="920.4" r="2.1"/><circle cx="546.6" cy="835.8" r="2.1"/><circle cx="395.5" cy="928.4" r="2.1"/><circle cx="427" cy="903.6" r="2.1"/><circle cx="526.7" cy="848.8" r="2.1"/><circle cx="534.1" cy="842.3" r="2.1"/><circle cx="543.4" cy="838.5" r="2.1"/><circle cx="450.1" cy="888.3" r="2.1"/><circle cx="550.8" cy="835" r="2.1"/><circle cx="409.7" cy="921.8" r="2.1"/><circle cx="542.8" cy="839.1" r="2.1"/><circle cx="401.3" cy="919.6" r="2.1"/><circle cx="436.8" cy="896" r="2.1"/><circle cx="505.9" cy="853.5" r="2.1"/><circle cx="555.5" cy="827.4" r="2.1"/><circle cx="370.3" cy="939.1" r="2.1"/><circle cx="422.8" cy="908.4" r="2.1"/><circle cx="447.5" cy="905.4" r="2.1"/><circle cx="443" cy="891.5" r="2.1"/><circle cx="398.8" cy="925.8" r="2.1"/><circle cx="527.8" cy="848.4" r="2.1"/><circle cx="552.7" cy="834.3" r="2.1"/><circle cx="523.8" cy="853.5" r="2.1"/><circle cx="558.6" cy="829.6" r="2.1"/><circle cx="416.2" cy="909.6" r="2.1"/><circle cx="416.7" cy="912.7" r="2.1"/><circle cx="521.1" cy="855.2" r="2.1"/><circle cx="437.1" cy="897.5" r="2.1"/><circle cx="543.2" cy="839.1" r="2.1"/><circle cx="423.9" cy="906.9" r="2.1"/><circle cx="380.3" cy="933.1" r="2.1"/><circle cx="490.5" cy="859.2" r="2.1"/><circle cx="407.3" cy="921.7" r="2.1"/><circle cx="441.8" cy="894.2" r="2.1"/><circle cx="396.2" cy="928.3" r="2.1"/><circle cx="556.1" cy="825.4" r="2.1"/><circle cx="476.3" cy="886" r="2.1"/><circle cx="472.6" cy="895" r="2.1"/><circle cx="543.4" cy="843" r="2.1"/><circle cx="501.5" cy="855.1" r="2.1"/><circle cx="377.1" cy="938.1" r="2.1"/><circle cx="566" cy="827.5" r="2.1"/><circle cx="367.5" cy="945.3" r="2.1"/><circle cx="455.5" cy="883.4" r="2.1"/><circle cx="499.5" cy="855.9" r="2.1"/><circle cx="505.4" cy="866.9" r="2.1"/><circle cx="387.9" cy="931.4" r="2.1"/><circle cx="372" cy="939.1" r="2.1"/><circle cx="408.4" cy="916.7" r="2.1"/><circle cx="568.4" cy="823.1" r="2.1"/><circle cx="564.3" cy="824.9" r="2.1"/><circle cx="530.5" cy="845.7" r="2.1"/><circle cx="385.4" cy="933.2" r="2.1"/><circle cx="369.7" cy="937.8" r="2.1"/><circle cx="397.2" cy="925.5" r="2.1"/><circle cx="559.5" cy="828.7" r="2.1"/><circle cx="451.3" cy="887.6" r="2.1"/><circle cx="541.1" cy="849.2" r="2.1"/><circle cx="404.1" cy="917.8" r="2.1"/><circle cx="416" cy="911.4" r="2.1"/><circle cx="570.8" cy="817.5" r="2.1"/><circle cx="537.6" cy="850.7" r="2.1"/><circle cx="413.7" cy="916.4" r="2.1"/><circle cx="444.7" cy="907.1" r="2.1"/><circle cx="408.5" cy="921.7" r="2.1"/><circle cx="543.9" cy="837.3" r="2.1"/><circle cx="547.8" cy="833.7" r="2.1"/><circle cx="445.2" cy="889.2" r="2.1"/><circle cx="563.9" cy="824.8" r="2.1"/><circle cx="425.5" cy="916.4" r="2.1"/><circle cx="405.6" cy="917" r="2.1"/><circle cx="479.8" cy="884.1" r="2.1"/><circle cx="548.1" cy="833.9" r="2.1"/><circle cx="447.3" cy="891.2" r="2.1"/><circle cx="438.1" cy="896.8" r="2.1"/><circle cx="404.9" cy="922.1" r="2.1"/><circle cx="553.7" cy="840.8" r="2.1"/><circle cx="564" cy="836.6" r="2.1"/><circle cx="569.9" cy="834.4" r="2.1"/><circle cx="379" cy="927.9" r="2.1"/><circle cx="402.8" cy="914.5" r="2.1"/></g><g fill="#008000" fill-opacity="0.55" stroke="#008000" stroke-opacity="0.55" stroke-width="1.4"><circle cx="392.7" cy="932.1" r="2.1"/><circle cx="538.4" cy="838.7" r="2.1"/><circle cx="476.1" cy="871.3" r="2.1"/><circle cx="469.1" cy="876.4" r="2.1"/><circle cx="411.1" cy="919.1" r="2.1"/><circle cx="453" cy="885.1" r="2.1"/><circle cx="426.8" cy="916.1" r="2.1"/><circle cx="485.9" cy="865.1" r="2.1"/><circle cx="508" cy="848.2" r="2.1"/><circle cx="423.4" cy="917.3" r="2.1"/><circle cx="445.8" cy="891" r="2.1"/><circle cx="538.1" cy="836.4" r="2.1"/><circle cx="543.9" cy="834.1" r="2.1"/><circle cx="445.1" cy="908.1" r="2.1"/><circle cx="459.7" cy="899.9" r="2.1"/><circle cx="536.8" cy="833.3" r="2.1"/><circle cx="530.5" cy="843.2" r="2.1"/><circle cx="497.1" cy="874" r="2.1"/><circle cx="419.1" cy="917.5" r="2.1"/><circle cx="460" cy="878.7" r="2.1"/><circle cx="482.6" cy="866.8" r="2.1"/><circle cx="489.8" cy="879" r="2.1"/><circle cx="423.4" cy="906.4" r="2.1"/><circle cx="477.7" cy="868" r="2.1"/><circle cx="540.9" cy="834.7" r="2.1"/><circle cx="446" cy="890.1" r="2.1"/><circle cx="441.3" cy="912.8" r="2.1"/><circle cx="451.9" cy="887.8" r="2.1"/><circle cx="532.9" cy="843.2" r="2.1"/><circle cx="474" cy="873.9" r="2.1"/><circle cx="524.6" cy="854.3" r="2.1"/><circle cx="477.9" cy="867.6" r="2.1"/><circle cx="460" cy="903.2" r="2.1"/><circle cx="513.7" cy="846.8" r="2.1"/><circle cx="537.2" cy="838.7" r="2.1"/><circle cx="517.6" cy="857.6" r="2.1"/><circle cx="499.3" cy="851.6" r="2.1"/><circle cx="484.6" cy="880.1" r="2.1"/><circle cx="461.2" cy="901" r="2.1"/><circle cx="441.5" cy="894.1" r="2.1"/><circle cx="500.8" cy="875.8" r="2.1"/><circle cx="527.6" cy="851" r="2.1"/><circle cx="480.4" cy="885.1" r="2.1"/><circle cx="438.2" cy="914.2" r="2.1"/><circle cx="431.1" cy="918.7" r="2.1"/><circle cx="417.2" cy="921.5" r="2.1"/><circle cx="436.5" cy="893.6" r="2.1"/><circle cx="438.8" cy="890.8" r="2.1"/><circle cx="420.5" cy="916.6" r="2.1"/><circle cx="443.1" cy="892.7" r="2.1"/><circle cx="473.5" cy="873.6" r="2.1"/><circle cx="508" cy="863.7" r="2.1"/><circle cx="454.3" cy="907.1" r="2.1"/><circle cx="493.4" cy="876.1" r="2.1"/><circle cx="465.2" cy="876.8" r="2.1"/><circle cx="533.8" cy="835.1" r="2.1"/><circle cx="417.3" cy="919.3" r="2.1"/><circle cx="504.9" cy="851.7" r="2.1"/><circle cx="422.8" cy="921.2" r="2.1"/><circle cx="443.6" cy="907.7" r="2.1"/><circle cx="513" cy="858.2" r="2.1"/><circle cx="442.1" cy="914.1" r="2.1"/><circle cx="427.2" cy="906.6" r="2.1"/><circle cx="508.9" cy="861.7" r="2.1"/><circle cx="500.1" cy="856.2" r="2.1"/><circle cx="408.4" cy="920.6" r="2.1"/><circle cx="424.1" cy="909.3" r="2.1"/><circle cx="500.9" cy="869.4" r="2.1"/><circle cx="465.4" cy="877.5" r="2.1"/><circle cx="473" cy="887.8" r="2.1"/><circle cx="489.2" cy="879.4" r="2.1"/><circle cx="509.2" cy="844.4" r="2.1"/><circle cx="431.3" cy="913.8" r="2.1"/><circle cx="479.7" cy="884.3" r="2.1"/><circle cx="422.1" cy="909.6" r="2.1"/><circle cx="436.3" cy="912.6" r="2.1"/><circle cx="490.8" cy="880.1" r="2.1"/><circle cx="421.2" cy="909.9" r="2.1"/><circle cx="398.2" cy="929.2" r="2.1"/><circle cx="492.9" cy="873.6" r="2.1"/><circle cx="489.3" cy="875.3" r="2.1"/><circle cx="525.9" cy="836.6" r="2.1"/><circle cx="399.3" cy="929.2" r="2.1"/><circle cx="421.4" cy="912.8" r="2.1"/><circle cx="527.1" cy="840.6" r="2.1"/><circle cx="430.2" cy="912.8" r="2.1"/><circle cx="491.2" cy="854.5" r="2.1"/><circle cx="548.8" cy="834.9" r="2.1"/><circle cx="463" cy="876.6" r="2.1"/><circle cx="406.7" cy="924" r="2.1"/><circle cx="483.5" cy="881.5" r="2.1"/><circle cx="446.9" cy="911.2" r="2.1"/><circle cx="450.8" cy="903.7" r="2.1"/><circle cx="437.6" cy="895.3" r="2.1"/><circle cx="509.7" cy="862.3" r="2.1"/><circle cx="435.9" cy="900.2" r="2.1"/><circle cx="523.1" cy="844" r="2.1"/><circle cx="519.4" cy="854.7" r="2.1"/><circle cx="470.7" cy="893.5" r="2.1"/><circle cx="448.6" cy="889.8" r="2.1"/><circle cx="407.2" cy="928" r="2.1"/><circle cx="435.5" cy="899.9" r="2.1"/><circle cx="532.7" cy="838.3" r="2.1"/><circle cx="443.3" cy="907.6" r="2.1"/><circle cx="534.5" cy="840.5" r="2.1"/><circle cx="494.3" cy="872.1" r="2.1"/><circle cx="392.5" cy="931" r="2.1"/><circle cx="534.4" cy="837.6" r="2.1"/><circle cx="511.8" cy="858.4" r="2.1"/><circle cx="448.9" cy="891.4" r="2.1"/><circle cx="401.6" cy="928.2" r="2.1"/><circle cx="483.5" cy="868.2" r="2.1"/><circle cx="413.3" cy="916.3" r="2.1"/><circle cx="542.4" cy="837.2" r="2.1"/><circle cx="435.1" cy="896.1" r="2.1"/><circle cx="428.9" cy="919.4" r="2.1"/><circle cx="480.1" cy="882.5" r="2.1"/><circle cx="505.8" cy="863.2" r="2.1"/><circle cx="409.2" cy="921.2" r="2.1"/><circle cx="476.7" cy="870.7" r="2.1"/><circle cx="484.9" cy="866.8" r="2.1"/><circle cx="459.1" cy="878.6" r="2.1"/><circle cx="470.1" cy="874.1" r="2.1"/><circle cx="391.5" cy="933.3" r="2.1"/><circle cx="435.7" cy="908.8" r="2.1"/><circle cx="507.9" cy="865.9" r="2.1"/><circle cx="503.7" cy="853.3" r="2.1"/><circle cx="431.6" cy="900" r="2.1"/><circle cx="504.4" cy="866.4" r="2.1"/><circle cx="404.4" cy="922.1" r="2.1"/><circle cx="412" cy="920.4" r="2.1"/><circle cx="431.2" cy="915.9" r="2.1"/><circle cx="497.6" cy="853.3" r="2.1"/><circle cx="449.9" cy="888.5" r="2.1"/><circle cx="490.2" cy="874.1" r="2.1"/><circle cx="498.8" cy="876.8" r="2.1"/><circle cx="414.8" cy="921.8" r="2.1"/><circle cx="461" cy="898" r="2.1"/><circle cx="432.8" cy="910.8" r="2.1"/><circle cx="504.9" cy="865.1" r="2.1"/><circle cx="443" cy="891.7" r="2.1"/><circle cx="418.3" cy="911.9" r="2.1"/><circle cx="516" cy="857.6" r="2.1"/><circle cx="416.2" cy="916.8" r="2.1"/><circle cx="436.7" cy="908.9" r="2.1"/><circle cx="487.9" cy="859.5" r="2.1"/><circle cx="508.1" cy="869.2" r="2.1"/><circle cx="505.9" cy="862.1" r="2.1"/><circle cx="456" cy="883" r="2.1"/><circle cx="496.2" cy="852.9" r="2.1"/><circle cx="410" cy="922.6" r="2.1"/><circle cx="463.8" cy="897.7" r="2.1"/><circle cx="499.9" cy="872.4" r="2.1"/><circle cx="435.4" cy="900.5" r="2.1"/><circle cx="409.4" cy="919.8" r="2.1"/><circle cx="416.9" cy="922.4" r="2.1"/><circle cx="433.7" cy="910.9" r="2.1"/><circle cx="504.6" cy="853.5" r="2.1"/><circle cx="465.7" cy="877.3" r="2.1"/><circle cx="434.1" cy="897.8" r="2.1"/><circle cx="464.2" cy="875.3" r="2.1"/><circle cx="499.1" cy="872.7" r="2.1"/><circle cx="399.5" cy="926.5" r="2.1"/><circle cx="432.2" cy="913.4" r="2.1"/><circle cx="551.7" cy="828.2" r="2.1"/><circle cx="460.6" cy="900.1" r="2.1"/><circle cx="475" cy="871.5" r="2.1"/><circle cx="411.4" cy="925.9" r="2.1"/><circle cx="453" cy="887.3" r="2.1"/><circle cx="437.7" cy="894.7" r="2.1"/><circle cx="494.8" cy="874.8" r="2.1"/><circle cx="550.5" cy="830.7" r="2.1"/><circle cx="451" cy="888.3" r="2.1"/><circle cx="517.9" cy="846.3" r="2.1"/><circle cx="503.9" cy="850.9" r="2.1"/><circle cx="497.3" cy="874.3" r="2.1"/><circle cx="542.3" cy="838.2" r="2.1"/><circle cx="474.4" cy="888.3" r="2.1"/><circle cx="537.8" cy="838.1" r="2.1"/><circle cx="527" cy="841.9" r="2.1"/><circle cx="436.6" cy="899" r="2.1"/><circle cx="475.8" cy="871.8" r="2.1"/><circle cx="526.1" cy="846" r="2.1"/><circle cx="548.5" cy="830" r="2.1"/><circle cx="453.2" cy="883.7" r="2.1"/><circle cx="485.4" cy="880.2" r="2.1"/><circle cx="525.3" cy="849.2" r="2.1"/><circle cx="415.5" cy="921.2" r="2.1"/><circle cx="435.4" cy="910.7" r="2.1"/><circle cx="495.9" cy="857.7" r="2.1"/><circle cx="462.7" cy="896.4" r="2.1"/><circle cx="431.5" cy="901.2" r="2.1"/><circle cx="539.2" cy="833.8" r="2.1"/><circle cx="523.2" cy="852.1" r="2.1"/><circle cx="435.8" cy="909.3" r="2.1"/><circle cx="457" cy="883.7" r="2.1"/><circle cx="474.5" cy="889.1" r="2.1"/><circle cx="417.4" cy="919.9" r="2.1"/><circle cx="492.6" cy="874.3" r="2.1"/><circle cx="410.1" cy="923.9" r="2.1"/><circle cx="410.4" cy="920" r="2.1"/><circle cx="433.9" cy="913.3" r="2.1"/><circle cx="496.8" cy="870.6" r="2.1"/><circle cx="438.7" cy="894.7" r="2.1"/><circle cx="423.6" cy="909.5" r="2.1"/><circle cx="518.9" cy="856.9" r="2.1"/><circle cx="485.4" cy="880.1" r="2.1"/><circle cx="486.1" cy="865.2" r="2.1"/><circle cx="466.5" cy="878.6" r="2.1"/><circle cx="483.8" cy="882.7" r="2.1"/><circle cx="492.9" cy="858.1" r="2.1"/><circle cx="525.1" cy="845.7" r="2.1"/><circle cx="404.3" cy="929.3" r="2.1"/><circle cx="525.2" cy="846.8" r="2.1"/><circle cx="465" cy="899.5" r="2.1"/><circle cx="509.7" cy="847.3" r="2.1"/><circle cx="512.3" cy="851" r="2.1"/><circle cx="498.1" cy="868.3" r="2.1"/><circle cx="539.9" cy="838.6" r="2.1"/><circle cx="537.2" cy="841.3" r="2.1"/><circle cx="452.4" cy="904.3" r="2.1"/><circle cx="498.8" cy="873" r="2.1"/><circle cx="523.4" cy="840.6" r="2.1"/><circle cx="419.8" cy="917.4" r="2.1"/><circle cx="505.1" cy="866" r="2.1"/><circle cx="462.9" cy="877.3" r="2.1"/><circle cx="427.2" cy="904.6" r="2.1"/><circle cx="529.7" cy="840.8" r="2.1"/><circle cx="451.7" cy="888" r="2.1"/><circle cx="487.2" cy="860.3" r="2.1"/><circle cx="501.1" cy="870.1" r="2.1"/><circle cx="511.1" cy="860.4" r="2.1"/><circle cx="417.1" cy="920.6" r="2.1"/><circle cx="420.8" cy="916.4" r="2.1"/><circle cx="541.2" cy="832.4" r="2.1"/><circle cx="512.2" cy="847" r="2.1"/><circle cx="420.1" cy="916.4" r="2.1"/><circle cx="437.1" cy="910.3" r="2.1"/><circle cx="471.2" cy="887.5" r="2.1"/><circle cx="409.8" cy="921.4" r="2.1"/><circle cx="408.7" cy="926.4" r="2.1"/><circle cx="450.7" cy="889.5" r="2.1"/><circle cx="530.5" cy="838.4" r="2.1"/><circle cx="456.9" cy="898" r="2.1"/><circle cx="431.5" cy="908.9" r="2.1"/><circle cx="506.8" cy="853.6" r="2.1"/><circle cx="435" cy="908" r="2.1"/><circle cx="500.3" cy="874.9" r="2.1"/><circle cx="475.9" cy="870.5" r="2.1"/><circle cx="527.6" cy="844.1" r="2.1"/><circle cx="469.6" cy="874.5" r="2.1"/><circle cx="463.8" cy="878.6" r="2.1"/><circle cx="541.6" cy="834.5" r="2.1"/><circle cx="521.8" cy="852.4" r="2.1"/><circle cx="469.9" cy="876.9" r="2.1"/><circle cx="478.2" cy="867.4" r="2.1"/><circle cx="417.4" cy="914.3" r="2.1"/><circle cx="529.1" cy="839.9" r="2.1"/><circle cx="486.1" cy="879.9" r="2.1"/><circle cx="432.7" cy="909.8" r="2.1"/><circle cx="490" cy="859.7" r="2.1"/><circle cx="445" cy="893.1" r="2.1"/><circle cx="503.3" cy="852.7" r="2.1"/><circle cx="476.9" cy="869.4" r="2.1"/><circle cx="391.2" cy="932.4" r="2.1"/><circle cx="531.2" cy="838.5" r="2.1"/><circle cx="495.4" cy="856.4" r="2.1"/><circle cx="534.1" cy="843.4" r="2.1"/><circle cx="468.3" cy="890.3" r="2.1"/><circle cx="406.8" cy="927.5" r="2.1"/><circle cx="396.2" cy="930.5" r="2.1"/><circle cx="430.5" cy="904.7" r="2.1"/><circle cx="478.9" cy="885.3" r="2.1"/><circle cx="501.6" cy="854.6" r="2.1"/><circle cx="484.3" cy="879.1" r="2.1"/><circle cx="504.4" cy="855" r="2.1"/><circle cx="430.4" cy="914.8" r="2.1"/><circle cx="436" cy="910.5" r="2.1"/><circle cx="481.8" cy="867.8" r="2.1"/><circle cx="496" cy="869.9" r="2.1"/><circle cx="541.6" cy="835.8" r="2.1"/><circle cx="492.6" cy="872.9" r="2.1"/><circle cx="430.8" cy="913" r="2.1"/><circle cx="430.6" cy="900.4" r="2.1"/><circle cx="455" cy="879.1" r="2.1"/><circle cx="473.4" cy="886.8" r="2.1"/><circle cx="453" cy="900.8" r="2.1"/><circle cx="478.4" cy="868.5" r="2.1"/><circle cx="444.4" cy="892.9" r="2.1"/><circle cx="486" cy="876.7" r="2.1"/><circle cx="436" cy="900.5" r="2.1"/><circle cx="472.3" cy="873.8" r="2.1"/><circle cx="465.3" cy="895.3" r="2.1"/><circle cx="437.1" cy="898.2" r="2.1"/><circle cx="446.5" cy="892.1" r="2.1"/><circle cx="424" cy="910" r="2.1"/><circle cx="448.2" cy="905.7" r="2.1"/><circle cx="457.4" cy="899.2" r="2.1"/><circle cx="462.4" cy="875.6" r="2.1"/><circle cx="420.4" cy="914.9" r="2.1"/><circle cx="513.6" cy="857.6" r="2.1"/><circle cx="421.5" cy="917" r="2.1"/><circle cx="437" cy="899.6" r="2.1"/><circle cx="507.1" cy="861.7" r="2.1"/><circle cx="484" cy="876.8" r="2.1"/><circle cx="426.7" cy="907" r="2.1"/><circle cx="434.1" cy="909.9" r="2.1"/><circle cx="433.4" cy="914.5" r="2.1"/><circle cx="470.4" cy="889.8" r="2.1"/><circle cx="518.6" cy="846.5" r="2.1"/><circle cx="520" cy="848.1" r="2.1"/><circle cx="507.4" cy="861.6" r="2.1"/><circle cx="415.2" cy="916.4" r="2.1"/><circle cx="485.7" cy="866.4" r="2.1"/><circle cx="501.9" cy="853.9" r="2.1"/><circle cx="477.9" cy="885.5" r="2.1"/><circle cx="495.5" cy="859" r="2.1"/><circle cx="511" cy="849.9" r="2.1"/><circle cx="448.9" cy="904.6" r="2.1"/><circle cx="512.9" cy="857.5" r="2.1"/><circle cx="502.1" cy="868.5" r="2.1"/><circle cx="447.6" cy="890.4" r="2.1"/><circle cx="406.5" cy="923.4" r="2.1"/><circle cx="460.7" cy="879.8" r="2.1"/><circle cx="524" cy="851.1" r="2.1"/><circle cx="440.3" cy="895.2" r="2.1"/><circle cx="437" cy="900.5" r="2.1"/><circle cx="482.9" cy="867.7" r="2.1"/><circle cx="510.5" cy="851.9" r="2.1"/><circle cx="471.4" cy="873.9" r="2.1"/><circle cx="486.7" cy="875.3" r="2.1"/><circle cx="470.2" cy="874.2" r="2.1"/><circle cx="475.8" cy="871.2" r="2.1"/><circle cx="475.2" cy="887.6" r="2.1"/><circle cx="505.2" cy="863.2" r="2.1"/><circle cx="456.7" cy="898.2" r="2.1"/><circle cx="438.7" cy="913.7" r="2.1"/><circle cx="505" cy="862.4" r="2.1"/><circle cx="429.2" cy="907.5" r="2.1"/><circle cx="540.4" cy="839.9" r="2.1"/><circle cx="406.9" cy="923.2" r="2.1"/><circle cx="464" cy="878.4" r="2.1"/><circle cx="537.9" cy="837" r="2.1"/><circle cx="485.5" cy="865.3" r="2.1"/><circle cx="491" cy="858.7" r="2.1"/><circle cx="556.2" cy="824.1" r="2.1"/><circle cx="419" cy="917.8" r="2.1"/><circle cx="533.5" cy="843.5" r="2.1"/><circle cx="455.8" cy="884.8" r="2.1"/><circle cx="455.3" cy="898.7" r="2.1"/><circle cx="454.1" cy="900.6" r="2.1"/><circle cx="449.4" cy="888.8" r="2.1"/><circle cx="526.6" cy="846.5" r="2.1"/><circle cx="519.6" cy="843.5" r="2.1"/><circle cx="463.1" cy="876.8" r="2.1"/><circle cx="526.2" cy="842.7" r="2.1"/><circle cx="522.2" cy="848.3" r="2.1"/><circle cx="477.6" cy="869.3" r="2.1"/><circle cx="447.5" cy="888" r="2.1"/><circle cx="455.6" cy="900.1" r="2.1"/><circle cx="418.4" cy="911.9" r="2.1"/><circle cx="423.7" cy="914.8" r="2.1"/><circle cx="452.5" cy="901" r="2.1"/><circle cx="467.7" cy="898.5" r="2.1"/><circle cx="388.2" cy="931.2" r="2.1"/><circle cx="429" cy="917.4" r="2.1"/><circle cx="486.1" cy="863.4" r="2.1"/><circle cx="473.3" cy="889.7" r="2.1"/><circle cx="484.2" cy="878.4" r="2.1"/><circle cx="437.9" cy="915.3" r="2.1"/><circle cx="462.8" cy="881" r="2.1"/><circle cx="418.7" cy="923" r="2.1"/><circle cx="419.9" cy="912" r="2.1"/><circle cx="425.6" cy="917.5" r="2.1"/><circle cx="467.5" cy="891.2" r="2.1"/><circle cx="550.9" cy="834.5" r="2.1"/><circle cx="503.2" cy="867.7" r="2.1"/><circle cx="510.9" cy="860" r="2.1"/><circle cx="472.1" cy="887.2" r="2.1"/><circle cx="522.7" cy="843.6" r="2.1"/><circle cx="506.5" cy="861.4" r="2.1"/><circle cx="401.6" cy="931.4" r="2.1"/><circle cx="516.7" cy="856" r="2.1"/><circle cx="466.2" cy="892.8" r="2.1"/><circle cx="484.1" cy="867.7" r="2.1"/><circle cx="444" cy="908.3" r="2.1"/><circle cx="496.4" cy="871.9" r="2.1"/><circle cx="442" cy="914.1" r="2.1"/><circle cx="441.9" cy="894.1" r="2.1"/><circle cx="467.3" cy="877.7" r="2.1"/><circle cx="413.7" cy="916.4" r="2.1"/><circle cx="459.1" cy="898.9" r="2.1"/><circle cx="417.2" cy="913.1" r="2.1"/><circle cx="515.9" cy="847.6" r="2.1"/><circle cx="441.7" cy="910.1" r="2.1"/><circle cx="551.5" cy="827.9" r="2.1"/><circle cx="464.2" cy="901.1" r="2.1"/><circle cx="499.2" cy="850.9" r="2.1"/><circle cx="433.4" cy="903" r="2.1"/><circle cx="501.7" cy="867.6" r="2.1"/><circle cx="529.3" cy="849.6" r="2.1"/><circle cx="468.9" cy="868.5" r="2.1"/><circle cx="423.9" cy="915.6" r="2.1"/><circle cx="405.2" cy="928.1" r="2.1"/><circle cx="512.1" cy="851" r="2.1"/><circle cx="514.4" cy="847.2" r="2.1"/><circle cx="429.5" cy="910.9" r="2.1"/><circle cx="471.2" cy="896.6" r="2.1"/><circle cx="511.5" cy="863.6" r="2.1"/><circle cx="493.8" cy="878.6" r="2.1"/><circle cx="479.7" cy="868.3" r="2.1"/><circle cx="502.4" cy="870.2" r="2.1"/><circle cx="502" cy="854.1" r="2.1"/><circle cx="430.3" cy="905.7" r="2.1"/><circle cx="485.8" cy="860.4" r="2.1"/><circle cx="499.7" cy="857.2" r="2.1"/><circle cx="421.3" cy="914.1" r="2.1"/><circle cx="516.6" cy="848.6" r="2.1"/><circle cx="452.3" cy="887" r="2.1"/><circle cx="534.1" cy="840.9" r="2.1"/><circle cx="419.6" cy="918.8" r="2.1"/><circle cx="462.7" cy="881.7" r="2.1"/><circle cx="430.8" cy="912.6" r="2.1"/><circle cx="472.8" cy="887" r="2.1"/><circle cx="514.8" cy="849" r="2.1"/><circle cx="426.4" cy="917.3" r="2.1"/><circle cx="396.7" cy="933.4" r="2.1"/><circle cx="480.5" cy="866.2" r="2.1"/><circle cx="440.3" cy="897.8" r="2.1"/><circle cx="455" cy="880.8" r="2.1"/><circle cx="415.9" cy="920.4" r="2.1"/><circle cx="483" cy="861.5" r="2.1"/><circle cx="552.4" cy="828.6" r="2.1"/><circle cx="479.3" cy="889.1" r="2.1"/><circle cx="455.7" cy="897.2" r="2.1"/><circle cx="534.5" cy="835.5" r="2.1"/><circle cx="489.3" cy="875.2" r="2.1"/><circle cx="432.6" cy="908" r="2.1"/><circle cx="496.1" cy="870.8" r="2.1"/><circle cx="444.1" cy="895.1" r="2.1"/><circle cx="481.9" cy="882.4" r="2.1"/><circle cx="513.2" cy="849.9" r="2.1"/><circle cx="438.8" cy="908.9" r="2.1"/><circle cx="461.2" cy="879.3" r="2.1"/><circle cx="436.6" cy="902.2" r="2.1"/><circle cx="512.5" cy="851.7" r="2.1"/><circle cx="455.8" cy="894.6" r="2.1"/><circle cx="505.4" cy="854.3" r="2.1"/><circle cx="475" cy="874.1" r="2.1"/><circle cx="493.8" cy="873.5" r="2.1"/><circle cx="510.9" cy="846.2" r="2.1"/><circle cx="500.1" cy="857.1" r="2.1"/><circle cx="412.1" cy="919.1" r="2.1"/><circle cx="492.3" cy="853.9" r="2.1"/><circle cx="491.1" cy="874.3" r="2.1"/><circle cx="447.4" cy="892" r="2.1"/><circle cx="438.6" cy="898.1" r="2.1"/><circle cx="545.3" cy="829.7" r="2.1"/><circle cx="529" cy="839.6" r="2.1"/><circle cx="449.2" cy="907.9" r="2.1"/><circle cx="486.4" cy="877.6" r="2.1"/><circle cx="415.6" cy="920.1" r="2.1"/><circle cx="473.9" cy="872.9" r="2.1"/><circle cx="463.7" cy="880.8" r="2.1"/><circle cx="522.4" cy="851.7" r="2.1"/><circle cx="521.4" cy="850.1" r="2.1"/><circle cx="529.5" cy="848.4" r="2.1"/><circle cx="483" cy="885.7" r="2.1"/><circle cx="491.6" cy="862.2" r="2.1"/><circle cx="476.1" cy="867.1" r="2.1"/><circle cx="498.5" cy="867.3" r="2.1"/><circle cx="488.3" cy="877.4" r="2.1"/><circle cx="465.4" cy="881" r="2.1"/><circle cx="471.2" cy="876.2" r="2.1"/><circle cx="489.9" cy="873" r="2.1"/><circle cx="423.2" cy="912.6" r="2.1"/><circle cx="465" cy="900.6" r="2.1"/><circle cx="430.5" cy="908.9" r="2.1"/><circle cx="400.1" cy="928.2" r="2.1"/><circle cx="457.6" cy="893.1" r="2.1"/><circle cx="415.2" cy="919.9" r="2.1"/><circle cx="475.9" cy="888.1" r="2.1"/><circle cx="531" cy="844.7" r="2.1"/><circle cx="431.3" cy="906.9" r="2.1"/><circle cx="433" cy="908.8" r="2.1"/><circle cx="438.3" cy="904" r="2.1"/><circle cx="530.2" cy="839.3" r="2.1"/><circle cx="469.7" cy="871.3" r="2.1"/><circle cx="545.9" cy="834.1" r="2.1"/><circle cx="459.3" cy="883.2" r="2.1"/><circle cx="464.5" cy="879.1" r="2.1"/><circle cx="446.2" cy="905" r="2.1"/><circle cx="509.6" cy="859.9" r="2.1"/><circle cx="429.7" cy="910.9" r="2.1"/><circle cx="428.6" cy="913.4" r="2.1"/><circle cx="459" cy="890.8" r="2.1"/><circle cx="441.9" cy="906" r="2.1"/><circle cx="480.9" cy="865.8" r="2.1"/><circle cx="497.2" cy="872.7" r="2.1"/><circle cx="451.4" cy="900.2" r="2.1"/><circle cx="433.2" cy="908.7" r="2.1"/><circle cx="416" cy="920" r="2.1"/><circle cx="518" cy="846.4" r="2.1"/><circle cx="501.8" cy="870.8" r="2.1"/><circle cx="449.7" cy="891.9" r="2.1"/><circle cx="460.6" cy="883.3" r="2.1"/><circle cx="511.6" cy="860.4" r="2.1"/><circle cx="518.2" cy="861" r="2.1"/><circle cx="507.5" cy="854.3" r="2.1"/><circle cx="531.5" cy="839.4" r="2.1"/><circle cx="423.1" cy="907.3" r="2.1"/><circle cx="517.7" cy="841.7" r="2.1"/><circle cx="521" cy="858.4" r="2.1"/><circle cx="500.7" cy="866.2" r="2.1"/><circle cx="487.4" cy="881.1" r="2.1"/><circle cx="532.8" cy="844" r="2.1"/><circle cx="435.8" cy="900.8" r="2.1"/><circle cx="467.5" cy="878.8" r="2.1"/><circle cx="459" cy="896.7" r="2.1"/><circle cx="494.3" cy="878.7" r="2.1"/><circle cx="499.8" cy="868.6" r="2.1"/><circle cx="438.6" cy="903.5" r="2.1"/><circle cx="443.8" cy="909.8" r="2.1"/><circle cx="481.3" cy="882.5" r="2.1"/><circle cx="467.3" cy="890.9" r="2.1"/><circle cx="461.8" cy="876.2" r="2.1"/><circle cx="504.9" cy="855" r="2.1"/><circle cx="504.2" cy="865.4" r="2.1"/><circle cx="512.5" cy="857.4" r="2.1"/><circle cx="460.4" cy="892.3" r="2.1"/><circle cx="461.1" cy="899.8" r="2.1"/><circle cx="431" cy="903.1" r="2.1"/><circle cx="509.2" cy="854.1" r="2.1"/><circle cx="423.2" cy="913" r="2.1"/><circle cx="491.9" cy="879" r="2.1"/><circle cx="456.4" cy="898.9" r="2.1"/><circle cx="499.2" cy="875.1" r="2.1"/><circle cx="481.6" cy="869" r="2.1"/><circle cx="496.2" cy="870.9" r="2.1"/><circle cx="469.7" cy="873.7" r="2.1"/><circle cx="490.3" cy="877.6" r="2.1"/><circle cx="503.9" cy="855.5" r="2.1"/><circle cx="410.9" cy="930.3" r="2.1"/><circle cx="430.8" cy="904.4" r="2.1"/><circle cx="419.7" cy="917.8" r="2.1"/><circle cx="454.3" cy="905.2" r="2.1"/><circle cx="461.5" cy="897.4" r="2.1"/><circle cx="513" cy="853.1" r="2.1"/><circle cx="445.1" cy="906.3" r="2.1"/><circle cx="461.6" cy="892.6" r="2.1"/><circle cx="476.1" cy="884.3" r="2.1"/><circle cx="428" cy="914.8" r="2.1"/><circle cx="476.7" cy="870.8" r="2.1"/><circle cx="453.6" cy="896.5" r="2.1"/><circle cx="439.9" cy="897.3" r="2.1"/><circle cx="462.4" cy="883.3" r="2.1"/><circle cx="535.4" cy="846.2" r="2.1"/><circle cx="522" cy="847.9" r="2.1"/><circle cx="442.8" cy="897.3" r="2.1"/><circle cx="456.7" cy="885.3" r="2.1"/><circle cx="409.3" cy="921.3" r="2.1"/><circle cx="409" cy="921.3" r="2.1"/><circle cx="412.6" cy="922.7" r="2.1"/><circle cx="499.4" cy="867.3" r="2.1"/><circle cx="466" cy="870.5" r="2.1"/><circle cx="424.5" cy="907.9" r="2.1"/><circle cx="449.5" cy="903.3" r="2.1"/><circle cx="516.8" cy="859.9" r="2.1"/><circle cx="409.9" cy="923.2" r="2.1"/><circle cx="478.4" cy="868.1" r="2.1"/><circle cx="485.8" cy="863.7" r="2.1"/><circle cx="402.1" cy="928.4" r="2.1"/><circle cx="430.9" cy="910.5" r="2.1"/><circle cx="420.5" cy="911.8" r="2.1"/><circle cx="494.9" cy="872" r="2.1"/><circle cx="461.3" cy="891.8" r="2.1"/><circle cx="415.4" cy="921.5" r="2.1"/><circle cx="498.1" cy="867" r="2.1"/><circle cx="508.4" cy="848.9" r="2.1"/><circle cx="436" cy="896.9" r="2.1"/><circle cx="500.4" cy="855.5" r="2.1"/><circle cx="414.2" cy="925.5" r="2.1"/><circle cx="430.5" cy="907.4" r="2.1"/><circle cx="475.3" cy="865.9" r="2.1"/><circle cx="426.8" cy="909.3" r="2.1"/><circle cx="515.8" cy="850.1" r="2.1"/><circle cx="521.4" cy="848" r="2.1"/><circle cx="512.3" cy="855.9" r="2.1"/><circle cx="516.3" cy="852.5" r="2.1"/><circle cx="438.1" cy="908.7" r="2.1"/><circle cx="540.3" cy="836.8" r="2.1"/><circle cx="508.6" cy="854.1" r="2.1"/><circle cx="481.6" cy="883.3" r="2.1"/><circle cx="478.9" cy="870.7" r="2.1"/><circle cx="440.2" cy="908.1" r="2.1"/><circle cx="506" cy="855.3" r="2.1"/><circle cx="486.9" cy="866" r="2.1"/><circle cx="468.3" cy="898.6" r="2.1"/><circle cx="511.7" cy="864.9" r="2.1"/><circle cx="394.8" cy="934.7" r="2.1"/><circle cx="443.3" cy="905" r="2.1"/><circle cx="458.9" cy="879.2" r="2.1"/><circle cx="521.9" cy="849.3" r="2.1"/><circle cx="497.2" cy="857.9" r="2.1"/><circle cx="425.6" cy="912.7" r="2.1"/><circle cx="464.8" cy="881.4" r="2.1"/><circle cx="435.7" cy="903.5" r="2.1"/><circle cx="486.9" cy="882.3" r="2.1"/><circle cx="504.7" cy="855.3" r="2.1"/><circle cx="464.5" cy="876.6" r="2.1"/><circle cx="465.7" cy="881.3" r="2.1"/><circle cx="532.5" cy="839.9" r="2.1"/><circle cx="505.3" cy="862.7" r="2.1"/><circle cx="471.2" cy="877.2" r="2.1"/><circle cx="473.9" cy="875" r="2.1"/><circle cx="488.2" cy="862.3" r="2.1"/><circle cx="460.4" cy="896.4" r="2.1"/><circle cx="454" cy="887.4" r="2.1"/><circle cx="464.8" cy="894.7" r="2.1"/><circle cx="458.2" cy="891.7" r="2.1"/><circle cx="438.2" cy="895.3" r="2.1"/><circle cx="456.8" cy="898" r="2.1"/><circle cx="456.1" cy="884.7" r="2.1"/><circle cx="459.4" cy="899.6" r="2.1"/><circle cx="531.2" cy="847.3" r="2.1"/><circle cx="486.3" cy="866.4" r="2.1"/><circle cx="443.2" cy="899.7" r="2.1"/><circle cx="510.1" cy="861.2" r="2.1"/><circle cx="492.7" cy="874" r="2.1"/><circle cx="428" cy="912.8" r="2.1"/><circle cx="470.3" cy="874.4" r="2.1"/><circle cx="495.8" cy="860" r="2.1"/><circle cx="456.7" cy="894.5" r="2.1"/><circle cx="510.4" cy="860.5" r="2.1"/><circle cx="416" cy="916.7" r="2.1"/><circle cx="498.1" cy="865.9" r="2.1"/><circle cx="515.4" cy="854.2" r="2.1"/><circle cx="437.2" cy="908.8" r="2.1"/><circle cx="508.6" cy="850.9" r="2.1"/><circle cx="445.2" cy="906.7" r="2.1"/><circle cx="460.1" cy="896.2" r="2.1"/><circle cx="395.3" cy="929.2" r="2.1"/><circle cx="435.8" cy="904.3" r="2.1"/><circle cx="505.3" cy="861.8" r="2.1"/><circle cx="517.3" cy="853" r="2.1"/><circle cx="449.9" cy="898.8" r="2.1"/><circle cx="408.8" cy="918.3" r="2.1"/><circle cx="472.4" cy="889.2" r="2.1"/><circle cx="495.4" cy="857.2" r="2.1"/><circle cx="505.9" cy="861.7" r="2.1"/><circle cx="471.9" cy="878" r="2.1"/><circle cx="530.7" cy="842.8" r="2.1"/><circle cx="456.1" cy="892.8" r="2.1"/><circle cx="471.9" cy="878.4" r="2.1"/><circle cx="455.5" cy="883" r="2.1"/><circle cx="458.8" cy="890.7" r="2.1"/><circle cx="451" cy="898" r="2.1"/><circle cx="459.5" cy="878.6" r="2.1"/><circle cx="481.5" cy="868.7" r="2.1"/><circle cx="476.2" cy="872.4" r="2.1"/><circle cx="439.8" cy="902.3" r="2.1"/><circle cx="488.6" cy="880.7" r="2.1"/><circle cx="487.1" cy="881.2" r="2.1"/><circle cx="412.3" cy="917.1" r="2.1"/><circle cx="440.2" cy="905.1" r="2.1"/><circle cx="502.6" cy="864.7" r="2.1"/><circle cx="452.5" cy="905.5" r="2.1"/><circle cx="463.5" cy="895.9" r="2.1"/><circle cx="525.9" cy="849.6" r="2.1"/><circle cx="458.2" cy="885.7" r="2.1"/><circle cx="478.1" cy="884.3" r="2.1"/><circle cx="518.8" cy="852.7" r="2.1"/><circle cx="546.8" cy="829.2" r="2.1"/><circle cx="439.4" cy="911.5" r="2.1"/><circle cx="499.7" cy="866.1" r="2.1"/><circle cx="404" cy="925.9" r="2.1"/><circle cx="494" cy="860.2" r="2.1"/><circle cx="551.3" cy="830.6" r="2.1"/><circle cx="444.1" cy="897.4" r="2.1"/><circle cx="493.3" cy="871.6" r="2.1"/><circle cx="443" cy="904.3" r="2.1"/><circle cx="446.1" cy="898.4" r="2.1"/><circle cx="435.9" cy="908.6" r="2.1"/><circle cx="425" cy="901" r="2.1"/><circle cx="439.4" cy="899.6" r="2.1"/><circle cx="407" cy="924.9" r="2.1"/><circle cx="481.7" cy="860.2" r="2.1"/><circle cx="418.4" cy="925.2" r="2.1"/><circle cx="446.4" cy="892.2" r="2.1"/><circle cx="422.3" cy="914.3" r="2.1"/><circle cx="443.7" cy="905" r="2.1"/><circle cx="429.7" cy="902.3" r="2.1"/><circle cx="460.4" cy="885.4" r="2.1"/><circle cx="551" cy="830.2" r="2.1"/><circle cx="405.9" cy="925.6" r="2.1"/><circle cx="490.2" cy="878.7" r="2.1"/><circle cx="505.2" cy="859" r="2.1"/><circle cx="515.2" cy="855.8" r="2.1"/><circle cx="441.1" cy="899.3" r="2.1"/><circle cx="465.2" cy="891.7" r="2.1"/><circle cx="499.7" cy="856.5" r="2.1"/><circle cx="427.3" cy="914.6" r="2.1"/><circle cx="445.8" cy="904" r="2.1"/><circle cx="403.3" cy="928.5" r="2.1"/><circle cx="428.2" cy="904.7" r="2.1"/><circle cx="481" cy="880.5" r="2.1"/><circle cx="448" cy="901.2" r="2.1"/><circle cx="528.8" cy="844.6" r="2.1"/><circle cx="509.7" cy="858.3" r="2.1"/><circle cx="429.8" cy="901.5" r="2.1"/><circle cx="516.6" cy="848" r="2.1"/><circle cx="496.7" cy="867" r="2.1"/><circle cx="514.8" cy="847.9" r="2.1"/><circle cx="486.7" cy="861.7" r="2.1"/><circle cx="414.5" cy="917.5" r="2.1"/><circle cx="394" cy="933.8" r="2.1"/><circle cx="427.2" cy="910.3" r="2.1"/><circle cx="513" cy="848.7" r="2.1"/><circle cx="473.5" cy="885.8" r="2.1"/><circle cx="479.2" cy="885.8" r="2.1"/><circle cx="495.9" cy="868.4" r="2.1"/><circle cx="443" cy="898.7" r="2.1"/><circle cx="507.7" cy="867.5" r="2.1"/><circle cx="441.2" cy="905.7" r="2.1"/><circle cx="453.7" cy="899.5" r="2.1"/><circle cx="518" cy="857.1" r="2.1"/><circle cx="462.2" cy="886.7" r="2.1"/><circle cx="464.9" cy="887.1" r="2.1"/><circle cx="530.2" cy="841" r="2.1"/><circle cx="530.3" cy="843.2" r="2.1"/><circle cx="478.3" cy="880.9" r="2.1"/><circle cx="460.5" cy="884.3" r="2.1"/><circle cx="494.1" cy="864.8" r="2.1"/><circle cx="481.9" cy="880.7" r="2.1"/><circle cx="446.5" cy="908.4" r="2.1"/><circle cx="516" cy="855.7" r="2.1"/><circle cx="554.1" cy="827.1" r="2.1"/><circle cx="444.9" cy="895.5" r="2.1"/><circle cx="446.6" cy="901.1" r="2.1"/><circle cx="455.7" cy="894.3" r="2.1"/><circle cx="431.2" cy="916.3" r="2.1"/><circle cx="498.4" cy="866.6" r="2.1"/><circle cx="425.6" cy="911.5" r="2.1"/><circle cx="493.7" cy="870.4" r="2.1"/><circle cx="496.3" cy="870.7" r="2.1"/><circle cx="424.1" cy="916.6" r="2.1"/><circle cx="481" cy="884.2" r="2.1"/><circle cx="484.3" cy="867.1" r="2.1"/><circle cx="453.3" cy="896.9" r="2.1"/><circle cx="509.1" cy="859.5" r="2.1"/><circle cx="517" cy="855.6" r="2.1"/><circle cx="516" cy="858.3" r="2.1"/><circle cx="448" cy="900.4" r="2.1"/><circle cx="489.3" cy="877.1" r="2.1"/><circle cx="442.5" cy="902.1" r="2.1"/><circle cx="496.6" cy="871.3" r="2.1"/><circle cx="425.6" cy="911.9" r="2.1"/><circle cx="512" cy="850.9" r="2.1"/><circle cx="447.2" cy="893.9" r="2.1"/><circle cx="453.6" cy="895.2" r="2.1"/><circle cx="467.6" cy="890.4" r="2.1"/><circle cx="432.8" cy="908.5" r="2.1"/><circle cx="421.8" cy="911.5" r="2.1"/><circle cx="452" cy="887.8" r="2.1"/><circle cx="530.5" cy="848.7" r="2.1"/><circle cx="470.1" cy="874.5" r="2.1"/><circle cx="459.5" cy="887.9" r="2.1"/><circle cx="523.3" cy="841.9" r="2.1"/><circle cx="492.5" cy="861.9" r="2.1"/><circle cx="453.5" cy="894" r="2.1"/><circle cx="507.9" cy="863.2" r="2.1"/><circle cx="461.4" cy="887" r="2.1"/><circle cx="500.7" cy="865.4" r="2.1"/><circle cx="528.5" cy="842.6" r="2.1"/><circle cx="504.6" cy="856.6" r="2.1"/><circle cx="471.6" cy="878.5" r="2.1"/><circle cx="437.6" cy="899.8" r="2.1"/><circle cx="462.3" cy="896.6" r="2.1"/><circle cx="449.6" cy="890.5" r="2.1"/><circle cx="522.2" cy="852.1" r="2.1"/><circle cx="457.6" cy="890.8" r="2.1"/><circle cx="397.3" cy="931.7" r="2.1"/><circle cx="484.7" cy="879.8" r="2.1"/><circle cx="498.8" cy="859.8" r="2.1"/><circle cx="442.2" cy="906.3" r="2.1"/><circle cx="495.6" cy="869.2" r="2.1"/><circle cx="428.9" cy="903.7" r="2.1"/><circle cx="480.1" cy="888.8" r="2.1"/><circle cx="466.9" cy="894.4" r="2.1"/><circle cx="482.4" cy="869.8" r="2.1"/><circle cx="486" cy="874.9" r="2.1"/><circle cx="450.1" cy="892.1" r="2.1"/><circle cx="455.7" cy="895.1" r="2.1"/><circle cx="476" cy="875.3" r="2.1"/><circle cx="518.7" cy="854" r="2.1"/><circle cx="441.9" cy="904.2" r="2.1"/><circle cx="524.6" cy="851.5" r="2.1"/><circle cx="513.4" cy="860.9" r="2.1"/><circle cx="449.8" cy="904.9" r="2.1"/><circle cx="451.8" cy="890.2" r="2.1"/><circle cx="490.1" cy="859.7" r="2.1"/><circle cx="450.7" cy="889.7" r="2.1"/><circle cx="427.3" cy="913.2" r="2.1"/><circle cx="493" cy="873.2" r="2.1"/><circle cx="419.4" cy="916.2" r="2.1"/><circle cx="476.5" cy="873.1" r="2.1"/><circle cx="450.1" cy="896.2" r="2.1"/><circle cx="420.5" cy="925.6" r="2.1"/><circle cx="430.3" cy="907.7" r="2.1"/><circle cx="409.2" cy="926.8" r="2.1"/><circle cx="531" cy="843.9" r="2.1"/><circle cx="408.8" cy="921.9" r="2.1"/><circle cx="429.7" cy="908.9" r="2.1"/><circle cx="473.7" cy="872.2" r="2.1"/><circle cx="505.9" cy="870.3" r="2.1"/><circle cx="515.4" cy="860" r="2.1"/><circle cx="486.9" cy="863.1" r="2.1"/><circle cx="453.5" cy="897.6" r="2.1"/><circle cx="466.1" cy="887.1" r="2.1"/><circle cx="503.3" cy="861.1" r="2.1"/><circle cx="492.2" cy="862.9" r="2.1"/><circle cx="416.8" cy="917.8" r="2.1"/><circle cx="446.9" cy="905" r="2.1"/><circle cx="449.4" cy="888.9" r="2.1"/><circle cx="454.2" cy="890.9" r="2.1"/><circle cx="437.2" cy="906.7" r="2.1"/><circle cx="494.6" cy="873.8" r="2.1"/><circle cx="507.1" cy="858.7" r="2.1"/><circle cx="532.1" cy="839" r="2.1"/><circle cx="454.8" cy="880.6" r="2.1"/><circle cx="468.8" cy="873.1" r="2.1"/><circle cx="444.4" cy="904.6" r="2.1"/><circle cx="405.4" cy="927.6" r="2.1"/><circle cx="456.2" cy="888.8" r="2.1"/><circle cx="409.2" cy="921.6" r="2.1"/><circle cx="492.9" cy="865.7" r="2.1"/><circle cx="426.1" cy="915.7" r="2.1"/><circle cx="433.9" cy="901.2" r="2.1"/><circle cx="437.7" cy="909.8" r="2.1"/><circle cx="480.4" cy="876.3" r="2.1"/><circle cx="459.3" cy="888.9" r="2.1"/><circle cx="537" cy="838.6" r="2.1"/><circle cx="431.8" cy="903.6" r="2.1"/><circle cx="445.1" cy="893.1" r="2.1"/><circle cx="491" cy="856.9" r="2.1"/><circle cx="486.9" cy="865.1" r="2.1"/><circle cx="462.5" cy="902" r="2.1"/><circle cx="503.6" cy="851.6" r="2.1"/><circle cx="515.9" cy="847.1" r="2.1"/><circle cx="427.3" cy="911.8" r="2.1"/><circle cx="480.6" cy="872.9" r="2.1"/><circle cx="464.8" cy="882.7" r="2.1"/><circle cx="485.4" cy="876" r="2.1"/><circle cx="441" cy="904.6" r="2.1"/><circle cx="499" cy="877.1" r="2.1"/><circle cx="428.1" cy="907.8" r="2.1"/><circle cx="412.6" cy="916.1" r="2.1"/><circle cx="485.4" cy="870.8" r="2.1"/><circle cx="408" cy="922.6" r="2.1"/><circle cx="490.9" cy="879.1" r="2.1"/><circle cx="419.1" cy="915.5" r="2.1"/><circle cx="463.3" cy="881.7" r="2.1"/><circle cx="418.4" cy="918.5" r="2.1"/><circle cx="410.8" cy="925.8" r="2.1"/><circle cx="488.8" cy="871.7" r="2.1"/><circle cx="456.2" cy="881.8" r="2.1"/><circle cx="508.3" cy="861.7" r="2.1"/><circle cx="470.7" cy="875.1" r="2.1"/><circle cx="478.1" cy="878.4" r="2.1"/><circle cx="530.8" cy="850.1" r="2.1"/><circle cx="484" cy="870.2" r="2.1"/><circle cx="475.2" cy="866.2" r="2.1"/><circle cx="490.3" cy="867" r="2.1"/><circle cx="447.3" cy="903.1" r="2.1"/><circle cx="451" cy="896.3" r="2.1"/><circle cx="527.4" cy="848.4" r="2.1"/><circle cx="466.2" cy="870.3" r="2.1"/><circle cx="434.4" cy="903.5" r="2.1"/><circle cx="489.5" cy="882.7" r="2.1"/><circle cx="444.8" cy="895.1" r="2.1"/><circle cx="510.4" cy="861" r="2.1"/><circle cx="515.7" cy="855.5" r="2.1"/><circle cx="533.3" cy="841.5" r="2.1"/><circle cx="511.8" cy="847.4" r="2.1"/><circle cx="494.7" cy="869.3" r="2.1"/><circle cx="491.1" cy="872.9" r="2.1"/><circle cx="482.9" cy="869" r="2.1"/><circle cx="548.6" cy="834" r="2.1"/><circle cx="528.8" cy="841.1" r="2.1"/><circle cx="513.6" cy="855.8" r="2.1"/><circle cx="478.5" cy="869.2" r="2.1"/><circle cx="452.7" cy="886.7" r="2.1"/><circle cx="525.8" cy="852.3" r="2.1"/><circle cx="523.5" cy="852.3" r="2.1"/><circle cx="452.9" cy="898.9" r="2.1"/><circle cx="504.6" cy="859.2" r="2.1"/><circle cx="477.2" cy="877.6" r="2.1"/><circle cx="506.5" cy="856.6" r="2.1"/><circle cx="430.7" cy="914.3" r="2.1"/><circle cx="527.8" cy="853.1" r="2.1"/><circle cx="489.3" cy="868.5" r="2.1"/><circle cx="444.1" cy="893.4" r="2.1"/><circle cx="550.1" cy="831.3" r="2.1"/><circle cx="474.4" cy="876.7" r="2.1"/><circle cx="424.8" cy="913.7" r="2.1"/><circle cx="520.2" cy="855.2" r="2.1"/><circle cx="488.2" cy="872.8" r="2.1"/><circle cx="474.9" cy="875.3" r="2.1"/><circle cx="510" cy="855" r="2.1"/><circle cx="462.4" cy="884" r="2.1"/><circle cx="508.7" cy="854.7" r="2.1"/><circle cx="490.2" cy="861.8" r="2.1"/><circle cx="507.9" cy="859.4" r="2.1"/><circle cx="463.5" cy="889.7" r="2.1"/><circle cx="531.6" cy="837.8" r="2.1"/><circle cx="428.6" cy="909.4" r="2.1"/><circle cx="430.2" cy="914" r="2.1"/><circle cx="492.6" cy="870.1" r="2.1"/><circle cx="465.7" cy="878.2" r="2.1"/><circle cx="482.7" cy="872.4" r="2.1"/><circle cx="477.3" cy="867.5" r="2.1"/><circle cx="471" cy="878.5" r="2.1"/><circle cx="440.9" cy="900.5" r="2.1"/><circle cx="486.3" cy="866.2" r="2.1"/><circle cx="519.7" cy="852.6" r="2.1"/><circle cx="448.4" cy="891.3" r="2.1"/><circle cx="539" cy="837.6" r="2.1"/><circle cx="528.3" cy="845.3" r="2.1"/><circle cx="448.3" cy="894.8" r="2.1"/><circle cx="503.1" cy="863.2" r="2.1"/><circle cx="440" cy="907.8" r="2.1"/><circle cx="472.3" cy="886.1" r="2.1"/><circle cx="440.1" cy="899.7" r="2.1"/><circle cx="414.9" cy="918.5" r="2.1"/><circle cx="471.3" cy="877.8" r="2.1"/><circle cx="441.7" cy="905.6" r="2.1"/><circle cx="446.8" cy="899.9" r="2.1"/><circle cx="411.1" cy="915.6" r="2.1"/><circle cx="477.8" cy="882.8" r="2.1"/><circle cx="539.5" cy="833" r="2.1"/><circle cx="464.4" cy="887.8" r="2.1"/><circle cx="471.4" cy="878.8" r="2.1"/><circle cx="438.7" cy="902" r="2.1"/><circle cx="460.8" cy="890" r="2.1"/><circle cx="448.1" cy="896.4" r="2.1"/><circle cx="424.7" cy="908.3" r="2.1"/><circle cx="446.8" cy="901.4" r="2.1"/><circle cx="459.2" cy="894.8" r="2.1"/><circle cx="486.6" cy="867" r="2.1"/><circle cx="465" cy="888" r="2.1"/><circle cx="485.5" cy="873.4" r="2.1"/><circle cx="519.1" cy="851.2" r="2.1"/><circle cx="506.8" cy="860.5" r="2.1"/><circle cx="462.2" cy="897.6" r="2.1"/><circle cx="417.5" cy="917.4" r="2.1"/><circle cx="478.7" cy="884.4" r="2.1"/><circle cx="508.9" cy="859.7" r="2.1"/><circle cx="480.5" cy="874.4" r="2.1"/><circle cx="465.1" cy="876.3" r="2.1"/><circle cx="497.7" cy="867.2" r="2.1"/><circle cx="445.5" cy="891.9" r="2.1"/><circle cx="442.5" cy="902.9" r="2.1"/><circle cx="465.8" cy="882.8" r="2.1"/><circle cx="498.5" cy="860.1" r="2.1"/><circle cx="512.8" cy="853.9" r="2.1"/><circle cx="525.1" cy="848" r="2.1"/><circle cx="520.3" cy="855.9" r="2.1"/><circle cx="503.7" cy="855.7" r="2.1"/><circle cx="471.4" cy="890" r="2.1"/><circle cx="493.9" cy="870.1" r="2.1"/><circle cx="518.1" cy="843.5" r="2.1"/><circle cx="443.2" cy="899" r="2.1"/><circle cx="492.1" cy="867.4" r="2.1"/><circle cx="534.7" cy="841.3" r="2.1"/><circle cx="452.2" cy="892.5" r="2.1"/><circle cx="442.7" cy="901.3" r="2.1"/><circle cx="473.7" cy="882" r="2.1"/><circle cx="454.3" cy="890.4" r="2.1"/><circle cx="519.5" cy="847.5" r="2.1"/><circle cx="420" cy="914" r="2.1"/><circle cx="431.6" cy="903.5" r="2.1"/><circle cx="485.3" cy="862.4" r="2.1"/><circle cx="499.7" cy="854.4" r="2.1"/><circle cx="435.7" cy="904.6" r="2.1"/><circle cx="518" cy="855.7" r="2.1"/><circle cx="411.4" cy="917.1" r="2.1"/><circle cx="508.9" cy="856.5" r="2.1"/><circle cx="445.4" cy="894.8" r="2.1"/><circle cx="459.1" cy="891.6" r="2.1"/><circle cx="534.3" cy="837.5" r="2.1"/><circle cx="472.6" cy="886.9" r="2.1"/><circle cx="453.3" cy="892.6" r="2.1"/><circle cx="482.6" cy="881.6" r="2.1"/><circle cx="537.1" cy="832" r="2.1"/><circle cx="476.8" cy="879.5" r="2.1"/><circle cx="449" cy="907" r="2.1"/><circle cx="481.3" cy="868.1" r="2.1"/><circle cx="433.4" cy="902.1" r="2.1"/><circle cx="451.7" cy="887.3" r="2.1"/><circle cx="455.6" cy="897.9" r="2.1"/><circle cx="495.7" cy="863.6" r="2.1"/><circle cx="458.2" cy="883.1" r="2.1"/><circle cx="490.2" cy="870.1" r="2.1"/><circle cx="512.4" cy="852.9" r="2.1"/><circle cx="526.5" cy="846.3" r="2.1"/><circle cx="418.3" cy="917.5" r="2.1"/><circle cx="472.4" cy="873.2" r="2.1"/><circle cx="436.1" cy="908.3" r="2.1"/><circle cx="495.4" cy="865.6" r="2.1"/><circle cx="482.4" cy="871.1" r="2.1"/><circle cx="456.6" cy="886.7" r="2.1"/><circle cx="442.2" cy="910.3" r="2.1"/><circle cx="418.2" cy="912.1" r="2.1"/><circle cx="506" cy="864.4" r="2.1"/><circle cx="475.1" cy="880.9" r="2.1"/><circle cx="484.6" cy="870.2" r="2.1"/><circle cx="500.2" cy="863.5" r="2.1"/><circle cx="536.4" cy="840.3" r="2.1"/><circle cx="468.1" cy="879.8" r="2.1"/><circle cx="495.6" cy="855" r="2.1"/><circle cx="420" cy="917.6" r="2.1"/><circle cx="461" cy="891.8" r="2.1"/><circle cx="450.6" cy="898.1" r="2.1"/><circle cx="453.3" cy="899.7" r="2.1"/><circle cx="512.3" cy="860.1" r="2.1"/><circle cx="477.6" cy="880" r="2.1"/><circle cx="476.2" cy="874.4" r="2.1"/><circle cx="476.6" cy="880.8" r="2.1"/><circle cx="466.6" cy="889.1" r="2.1"/><circle cx="466.7" cy="885.1" r="2.1"/><circle cx="452.7" cy="897.9" r="2.1"/><circle cx="456.3" cy="877.2" r="2.1"/><circle cx="459.9" cy="880.8" r="2.1"/><circle cx="468" cy="883.6" r="2.1"/><circle cx="412.2" cy="926.2" r="2.1"/><circle cx="476.2" cy="881.4" r="2.1"/><circle cx="472.8" cy="885.6" r="2.1"/><circle cx="487.7" cy="875.5" r="2.1"/><circle cx="437.2" cy="914.1" r="2.1"/><circle cx="443.2" cy="902.6" r="2.1"/><circle cx="500.3" cy="865.5" r="2.1"/><circle cx="450.2" cy="898.9" r="2.1"/><circle cx="489.7" cy="876.3" r="2.1"/><circle cx="451.7" cy="892.6" r="2.1"/><circle cx="434.4" cy="909.7" r="2.1"/><circle cx="426" cy="920.8" r="2.1"/><circle cx="453.8" cy="898.5" r="2.1"/><circle cx="458.4" cy="885.9" r="2.1"/><circle cx="433.6" cy="901" r="2.1"/><circle cx="520.5" cy="854" r="2.1"/><circle cx="474.6" cy="880.4" r="2.1"/><circle cx="444.7" cy="896.4" r="2.1"/><circle cx="522.9" cy="844.2" r="2.1"/><circle cx="501" cy="864.5" r="2.1"/><circle cx="449" cy="894.8" r="2.1"/><circle cx="440.2" cy="904.2" r="2.1"/><circle cx="467.8" cy="893.8" r="2.1"/><circle cx="497.8" cy="859.7" r="2.1"/><circle cx="427.9" cy="910.5" r="2.1"/><circle cx="511.7" cy="853.3" r="2.1"/><circle cx="461.3" cy="889.4" r="2.1"/><circle cx="501.3" cy="866.3" r="2.1"/><circle cx="469.4" cy="885.7" r="2.1"/><circle cx="489.9" cy="867.7" r="2.1"/><circle cx="495" cy="872.6" r="2.1"/><circle cx="516.4" cy="845.6" r="2.1"/><circle cx="450.7" cy="883.5" r="2.1"/><circle cx="536.1" cy="846.7" r="2.1"/><circle cx="432.3" cy="903.2" r="2.1"/><circle cx="484.3" cy="875.5" r="2.1"/><circle cx="496.3" cy="862.2" r="2.1"/><circle cx="475" cy="878.3" r="2.1"/><circle cx="503.2" cy="861.7" r="2.1"/><circle cx="421.2" cy="911" r="2.1"/><circle cx="472.7" cy="880.3" r="2.1"/><circle cx="506.9" cy="851.4" r="2.1"/><circle cx="474.6" cy="877.7" r="2.1"/><circle cx="438.1" cy="910.3" r="2.1"/><circle cx="479.4" cy="877.2" r="2.1"/><circle cx="480.5" cy="875.7" r="2.1"/><circle cx="441.9" cy="903.7" r="2.1"/><circle cx="517.6" cy="856.5" r="2.1"/><circle cx="456.8" cy="880.8" r="2.1"/><circle cx="440.7" cy="902.1" r="2.1"/><circle cx="477.8" cy="877.5" r="2.1"/><circle cx="453" cy="902.1" r="2.1"/><circle cx="468.1" cy="880.7" r="2.1"/><circle cx="482" cy="875.2" r="2.1"/><circle cx="460.8" cy="882.7" r="2.1"/><circle cx="493.7" cy="858.3" r="2.1"/><circle cx="484" cy="876.8" r="2.1"/><circle cx="514.1" cy="856.8" r="2.1"/><circle cx="441.8" cy="895.4" r="2.1"/><circle cx="476.6" cy="872.3" r="2.1"/><circle cx="482.8" cy="872.4" r="2.1"/><circle cx="483.8" cy="869.5" r="2.1"/><circle cx="405.8" cy="925.6" r="2.1"/><circle cx="439.7" cy="902.5" r="2.1"/><circle cx="485.1" cy="872.6" r="2.1"/><circle cx="493.2" cy="878.3" r="2.1"/><circle cx="475.5" cy="874.8" r="2.1"/><circle cx="480.5" cy="871.4" r="2.1"/><circle cx="514.5" cy="857.3" r="2.1"/><circle cx="463" cy="890" r="2.1"/><circle cx="449.6" cy="894.3" r="2.1"/><circle cx="523.4" cy="844.7" r="2.1"/><circle cx="494.5" cy="866.3" r="2.1"/><circle cx="469.2" cy="885.5" r="2.1"/><circle cx="451.3" cy="892.6" r="2.1"/><circle cx="527" cy="844.7" r="2.1"/><circle cx="465.6" cy="890.7" r="2.1"/><circle cx="448.1" cy="898.5" r="2.1"/><circle cx="516" cy="853.9" r="2.1"/><circle cx="426.6" cy="908.2" r="2.1"/><circle cx="469.7" cy="889.8" r="2.1"/><circle cx="495.1" cy="870.1" r="2.1"/><circle cx="465.3" cy="887.6" r="2.1"/><circle cx="457.8" cy="890.4" r="2.1"/><circle cx="488.9" cy="857.7" r="2.1"/><circle cx="435" cy="906.3" r="2.1"/><circle cx="467.6" cy="878.3" r="2.1"/><circle cx="498.1" cy="860.2" r="2.1"/><circle cx="438.9" cy="896.8" r="2.1"/><circle cx="519.8" cy="842.8" r="2.1"/><circle cx="467.8" cy="880.8" r="2.1"/><circle cx="472.2" cy="886.3" r="2.1"/><circle cx="459.1" cy="891.5" r="2.1"/><circle cx="493.4" cy="859.4" r="2.1"/><circle cx="459.1" cy="878.2" r="2.1"/><circle cx="482" cy="867.7" r="2.1"/><circle cx="515.6" cy="842.3" r="2.1"/><circle cx="515.4" cy="849.8" r="2.1"/><circle cx="425.1" cy="915.3" r="2.1"/><circle cx="518.5" cy="850.3" r="2.1"/><circle cx="458.6" cy="888.4" r="2.1"/><circle cx="484.5" cy="868" r="2.1"/><circle cx="478" cy="872.6" r="2.1"/><circle cx="483.7" cy="878.2" r="2.1"/><circle cx="455" cy="886.1" r="2.1"/><circle cx="493.7" cy="869.8" r="2.1"/><circle cx="507.6" cy="856.5" r="2.1"/><circle cx="455.8" cy="888.4" r="2.1"/><circle cx="474.1" cy="876" r="2.1"/><circle cx="501.1" cy="859.6" r="2.1"/><circle cx="509.6" cy="859" r="2.1"/><circle cx="485.5" cy="873" r="2.1"/><circle cx="483.3" cy="868.7" r="2.1"/><circle cx="490.3" cy="871.5" r="2.1"/><circle cx="463.6" cy="893" r="2.1"/><circle cx="485.5" cy="885.9" r="2.1"/><circle cx="465.5" cy="885.3" r="2.1"/><circle cx="463.3" cy="891.7" r="2.1"/><circle cx="398" cy="929.8" r="2.1"/><circle cx="416" cy="921.8" r="2.1"/><circle cx="486.5" cy="874" r="2.1"/><circle cx="498.7" cy="865.6" r="2.1"/><circle cx="489" cy="865.1" r="2.1"/><circle cx="477.8" cy="882.2" r="2.1"/><circle cx="464.6" cy="892.5" r="2.1"/><circle cx="492.8" cy="867" r="2.1"/><circle cx="461.3" cy="883.8" r="2.1"/><circle cx="474.2" cy="884.8" r="2.1"/><circle cx="523.1" cy="845.7" r="2.1"/><circle cx="429.1" cy="909.3" r="2.1"/><circle cx="454.8" cy="889.9" r="2.1"/><circle cx="466.3" cy="895.1" r="2.1"/><circle cx="411.8" cy="920.4" r="2.1"/><circle cx="435.5" cy="906.3" r="2.1"/><circle cx="508.7" cy="856.2" r="2.1"/><circle cx="490.9" cy="872.4" r="2.1"/><circle cx="469.6" cy="883.4" r="2.1"/><circle cx="516.7" cy="861.2" r="2.1"/><circle cx="442" cy="901" r="2.1"/><circle cx="536.4" cy="834.6" r="2.1"/><circle cx="471.9" cy="880.2" r="2.1"/><circle cx="454.4" cy="892.4" r="2.1"/><circle cx="509.4" cy="855.1" r="2.1"/><circle cx="491.1" cy="861.4" r="2.1"/><circle cx="480.6" cy="879.3" r="2.1"/><circle cx="470.1" cy="890.5" r="2.1"/><circle cx="415" cy="922.7" r="2.1"/><circle cx="406.2" cy="926.6" r="2.1"/><circle cx="473.9" cy="879.5" r="2.1"/><circle cx="505.2" cy="855.6" r="2.1"/><circle cx="448" cy="900.8" r="2.1"/><circle cx="476.7" cy="883.7" r="2.1"/><circle cx="422.8" cy="910" r="2.1"/><circle cx="425" cy="907.7" r="2.1"/><circle cx="471.9" cy="885.6" r="2.1"/><circle cx="496.4" cy="861.4" r="2.1"/><circle cx="497.8" cy="865.3" r="2.1"/><circle cx="512.8" cy="856.7" r="2.1"/><circle cx="447.7" cy="897.9" r="2.1"/><circle cx="468.2" cy="888.5" r="2.1"/><circle cx="499.1" cy="872" r="2.1"/><circle cx="440.2" cy="908.9" r="2.1"/><circle cx="463.6" cy="891" r="2.1"/><circle cx="473.5" cy="878.7" r="2.1"/><circle cx="472.9" cy="878.6" r="2.1"/><circle cx="502.1" cy="857.4" r="2.1"/><circle cx="487.3" cy="875.5" r="2.1"/><circle cx="459.1" cy="890" r="2.1"/><circle cx="397.7" cy="934" r="2.1"/><circle cx="499.2" cy="868.4" r="2.1"/><circle cx="505.9" cy="854.2" r="2.1"/><circle cx="490" cy="870.2" r="2.1"/><circle cx="485" cy="862.7" r="2.1"/><circle cx="487.9" cy="867.3" r="2.1"/><circle cx="512.8" cy="856.7" r="2.1"/><circle cx="456.7" cy="895.1" r="2.1"/><circle cx="471.2" cy="893.3" r="2.1"/><circle cx="440.9" cy="895.4" r="2.1"/><circle cx="466.2" cy="879.7" r="2.1"/><circle cx="446.5" cy="884.4" r="2.1"/><circle cx="446.5" cy="887.6" r="2.1"/><circle cx="408.5" cy="921.9" r="2.1"/><circle cx="470" cy="888.4" r="2.1"/><circle cx="506.1" cy="867.4" r="2.1"/><circle cx="514.6" cy="855.1" r="2.1"/><circle cx="471.8" cy="881.6" r="2.1"/><circle cx="450.8" cy="902.9" r="2.1"/><circle cx="482.9" cy="870.4" r="2.1"/><circle cx="464.8" cy="880.7" r="2.1"/><circle cx="470.4" cy="887.8" r="2.1"/><circle cx="519.2" cy="851.5" r="2.1"/><circle cx="478.4" cy="884.9" r="2.1"/><circle cx="484.7" cy="867.5" r="2.1"/><circle cx="464.1" cy="891.4" r="2.1"/><circle cx="467.1" cy="890.8" r="2.1"/><circle cx="443.1" cy="910.1" r="2.1"/><circle cx="468.8" cy="889.1" r="2.1"/><circle cx="447.3" cy="906.4" r="2.1"/><circle cx="509.9" cy="851.6" r="2.1"/><circle cx="465.2" cy="882.4" r="2.1"/><circle cx="496.7" cy="871.5" r="2.1"/><circle cx="514.8" cy="857.2" r="2.1"/><circle cx="505.9" cy="859.5" r="2.1"/><circle cx="450.4" cy="895" r="2.1"/><circle cx="527.1" cy="849.2" r="2.1"/><circle cx="410.9" cy="916.8" r="2.1"/><circle cx="519.1" cy="847.8" r="2.1"/><circle cx="390.4" cy="929.9" r="2.1"/><circle cx="443.1" cy="913.5" r="2.1"/><circle cx="470.1" cy="891.4" r="2.1"/><circle cx="449.3" cy="892.5" r="2.1"/><circle cx="403.7" cy="925.5" r="2.1"/><circle cx="423.8" cy="914.2" r="2.1"/><circle cx="480.7" cy="882" r="2.1"/><circle cx="416.7" cy="915.7" r="2.1"/><circle cx="493.1" cy="870.2" r="2.1"/><circle cx="509.9" cy="850.2" r="2.1"/><circle cx="516.4" cy="847.5" r="2.1"/><circle cx="480.6" cy="870.7" r="2.1"/><circle cx="470.9" cy="892.4" r="2.1"/><circle cx="459.4" cy="887.9" r="2.1"/><circle cx="511.7" cy="847.3" r="2.1"/><circle cx="493.1" cy="857.8" r="2.1"/><circle cx="483.4" cy="867" r="2.1"/><circle cx="508" cy="852.3" r="2.1"/><circle cx="410" cy="924.6" r="2.1"/><circle cx="500.5" cy="855.3" r="2.1"/><circle cx="453.7" cy="883.3" r="2.1"/><circle cx="397" cy="929.3" r="2.1"/><circle cx="508.4" cy="855" r="2.1"/><circle cx="447.5" cy="898.1" r="2.1"/><circle cx="486.7" cy="870.7" r="2.1"/><circle cx="448.3" cy="898.4" r="2.1"/><circle cx="459.4" cy="887" r="2.1"/><circle cx="524.9" cy="847.3" r="2.1"/><circle cx="483.2" cy="882.3" r="2.1"/><circle cx="485.2" cy="876" r="2.1"/><circle cx="421.2" cy="913" r="2.1"/><circle cx="501.9" cy="860.7" r="2.1"/><circle cx="451.4" cy="887.2" r="2.1"/><circle cx="487.7" cy="865.8" r="2.1"/><circle cx="439.2" cy="896.5" r="2.1"/><circle cx="484.4" cy="873.5" r="2.1"/><circle cx="490.3" cy="863.5" r="2.1"/><circle cx="424.8" cy="915.3" r="2.1"/><circle cx="482.8" cy="877.9" r="2.1"/><circle cx="443.4" cy="895.6" r="2.1"/><circle cx="513.2" cy="853.2" r="2.1"/><circle cx="484.5" cy="877.5" r="2.1"/><circle cx="474.2" cy="874.5" r="2.1"/><circle cx="499.8" cy="855.7" r="2.1"/><circle cx="460.1" cy="884.9" r="2.1"/><circle cx="501.1" cy="855.6" r="2.1"/><circle cx="481.8" cy="869.7" r="2.1"/><circle cx="516.7" cy="848" r="2.1"/><circle cx="439.9" cy="906.3" r="2.1"/><circle cx="536.7" cy="845.1" r="2.1"/><circle cx="456" cy="893.6" r="2.1"/><circle cx="460.3" cy="903.5" r="2.1"/><circle cx="448.7" cy="899.5" r="2.1"/><circle cx="462.8" cy="893.5" r="2.1"/><circle cx="535.2" cy="839.5" r="2.1"/><circle cx="478.6" cy="881" r="2.1"/><circle cx="437.7" cy="903.8" r="2.1"/><circle cx="467.7" cy="889.2" r="2.1"/><circle cx="480.8" cy="877" r="2.1"/><circle cx="504" cy="853" r="2.1"/><circle cx="462.2" cy="893.5" r="2.1"/><circle cx="479" cy="886.5" r="2.1"/><circle cx="468.4" cy="875.9" r="2.1"/><circle cx="476.5" cy="874.1" r="2.1"/><circle cx="433.7" cy="906.7" r="2.1"/><circle cx="503.9" cy="862.4" r="2.1"/><circle cx="457.6" cy="889.2" r="2.1"/><circle cx="533.1" cy="842.6" r="2.1"/><circle cx="512.3" cy="850.5" r="2.1"/><circle cx="499.2" cy="865.1" r="2.1"/><circle cx="456.3" cy="895.1" r="2.1"/><circle cx="461.7" cy="885.1" r="2.1"/><circle cx="460.3" cy="893.5" r="2.1"/><circle cx="475.6" cy="875.9" r="2.1"/><circle cx="461.4" cy="894.9" r="2.1"/><circle cx="455.2" cy="895.3" r="2.1"/><circle cx="476" cy="877.7" r="2.1"/><circle cx="472" cy="885.3" r="2.1"/><circle cx="460.4" cy="883.6" r="2.1"/><circle cx="502.6" cy="861.8" r="2.1"/><circle cx="506.9" cy="857.5" r="2.1"/><circle cx="454.6" cy="903.4" r="2.1"/><circle cx="542.9" cy="833.1" r="2.1"/><circle cx="485.2" cy="872.2" r="2.1"/><circle cx="512.9" cy="863.5" r="2.1"/><circle cx="534.2" cy="839.7" r="2.1"/><circle cx="426.4" cy="909.8" r="2.1"/><circle cx="489.3" cy="873.9" r="2.1"/><circle cx="502.8" cy="866.6" r="2.1"/><circle cx="512.2" cy="861.5" r="2.1"/><circle cx="498.7" cy="863.7" r="2.1"/><circle cx="505.9" cy="859" r="2.1"/><circle cx="423.6" cy="914" r="2.1"/><circle cx="441.6" cy="891.3" r="2.1"/><circle cx="491.6" cy="868.6" r="2.1"/><circle cx="406.2" cy="924" r="2.1"/><circle cx="454.9" cy="901.1" r="2.1"/><circle cx="466.8" cy="883.1" r="2.1"/><circle cx="485.1" cy="867.7" r="2.1"/><circle cx="502.4" cy="865.9" r="2.1"/><circle cx="480.8" cy="864" r="2.1"/><circle cx="445.7" cy="901.5" r="2.1"/><circle cx="441.5" cy="900.7" r="2.1"/><circle cx="486.3" cy="874" r="2.1"/><circle cx="492" cy="870.4" r="2.1"/><circle cx="485.2" cy="887.2" r="2.1"/><circle cx="477.5" cy="873" r="2.1"/><circle cx="476.5" cy="890.7" r="2.1"/><circle cx="427.3" cy="905.4" r="2.1"/><circle cx="472" cy="887.6" r="2.1"/><circle cx="497.8" cy="867.2" r="2.1"/><circle cx="436" cy="893.2" r="2.1"/><circle cx="486.9" cy="876.9" r="2.1"/><circle cx="495.7" cy="867" r="2.1"/><circle cx="549.4" cy="834" r="2.1"/><circle cx="470.8" cy="883.3" r="2.1"/><circle cx="464.8" cy="883.9" r="2.1"/><circle cx="433.3" cy="899.6" r="2.1"/><circle cx="437.1" cy="916.8" r="2.1"/><circle cx="419.8" cy="915.9" r="2.1"/><circle cx="414.3" cy="917.1" r="2.1"/><circle cx="495.9" cy="861.1" r="2.1"/><circle cx="472.6" cy="885.3" r="2.1"/><circle cx="482.9" cy="873.8" r="2.1"/><circle cx="420.8" cy="907.5" r="2.1"/><circle cx="406.5" cy="923.1" r="2.1"/><circle cx="414.8" cy="911.1" r="2.1"/><circle cx="525.9" cy="850.7" r="2.1"/><circle cx="509.8" cy="859.9" r="2.1"/><circle cx="429" cy="909.5" r="2.1"/><circle cx="476.2" cy="884.4" r="2.1"/><circle cx="478.5" cy="873.6" r="2.1"/><circle cx="440.8" cy="907.4" r="2.1"/><circle cx="451.9" cy="892.8" r="2.1"/><circle cx="504.2" cy="867.7" r="2.1"/><circle cx="496.4" cy="869.8" r="2.1"/><circle cx="502.5" cy="860.1" r="2.1"/><circle cx="483.7" cy="870.4" r="2.1"/><circle cx="477" cy="883.5" r="2.1"/><circle cx="489.6" cy="878" r="2.1"/><circle cx="468.1" cy="880.9" r="2.1"/><circle cx="528.6" cy="848" r="2.1"/><circle cx="480.6" cy="873.5" r="2.1"/><circle cx="490.9" cy="862" r="2.1"/><circle cx="470.5" cy="878.8" r="2.1"/><circle cx="451.4" cy="902.9" r="2.1"/><circle cx="471.7" cy="874.6" r="2.1"/><circle cx="462.6" cy="881.4" r="2.1"/><circle cx="447.2" cy="900.7" r="2.1"/><circle cx="500" cy="865.2" r="2.1"/><circle cx="538.8" cy="832.9" r="2.1"/><circle cx="482.9" cy="872.5" r="2.1"/><circle cx="470.1" cy="880.3" r="2.1"/><circle cx="450" cy="890.1" r="2.1"/><circle cx="425.4" cy="909.6" r="2.1"/><circle cx="493.5" cy="853.2" r="2.1"/><circle cx="492.3" cy="860.6" r="2.1"/><circle cx="447.5" cy="896.6" r="2.1"/><circle cx="476.3" cy="877.8" r="2.1"/><circle cx="445.7" cy="900.1" r="2.1"/><circle cx="520.1" cy="844.7" r="2.1"/><circle cx="477.4" cy="884.4" r="2.1"/><circle cx="488.1" cy="865.9" r="2.1"/><circle cx="529.5" cy="845.7" r="2.1"/><circle cx="400.8" cy="933.5" r="2.1"/><circle cx="487.2" cy="866" r="2.1"/><circle cx="482.5" cy="872" r="2.1"/><circle cx="464.3" cy="884.7" r="2.1"/><circle cx="474.5" cy="881.4" r="2.1"/><circle cx="514.6" cy="853.4" r="2.1"/><circle cx="452.4" cy="897.5" r="2.1"/><circle cx="452.8" cy="886.7" r="2.1"/><circle cx="530.5" cy="837.9" r="2.1"/><circle cx="507.4" cy="858.2" r="2.1"/><circle cx="490" cy="869.3" r="2.1"/><circle cx="500.6" cy="861" r="2.1"/><circle cx="477.2" cy="872.8" r="2.1"/><circle cx="464.7" cy="884.8" r="2.1"/><circle cx="469.6" cy="885.4" r="2.1"/><circle cx="484.6" cy="874.2" r="2.1"/><circle cx="459.3" cy="888" r="2.1"/><circle cx="422.4" cy="914.4" r="2.1"/><circle cx="469.1" cy="885.3" r="2.1"/><circle cx="483.7" cy="866.7" r="2.1"/><circle cx="470.1" cy="880.1" r="2.1"/><circle cx="496.5" cy="860.4" r="2.1"/><circle cx="484.1" cy="878.1" r="2.1"/><circle cx="506.1" cy="854.8" r="2.1"/><circle cx="478.7" cy="876.6" r="2.1"/><circle cx="469" cy="884.5" r="2.1"/><circle cx="493.4" cy="870.7" r="2.1"/><circle cx="503.5" cy="863.7" r="2.1"/><circle cx="460.3" cy="891.4" r="2.1"/><circle cx="446.7" cy="897.1" r="2.1"/><circle cx="518.2" cy="851.2" r="2.1"/><circle cx="457.6" cy="879.7" r="2.1"/><circle cx="486.8" cy="868.8" r="2.1"/><circle cx="459.4" cy="888" r="2.1"/><circle cx="481.8" cy="875.2" r="2.1"/><circle cx="520" cy="853" r="2.1"/><circle cx="529.5" cy="846.5" r="2.1"/><circle cx="432.1" cy="905.7" r="2.1"/><circle cx="427.7" cy="916.8" r="2.1"/><circle cx="493.9" cy="858.2" r="2.1"/><circle cx="525.4" cy="840" r="2.1"/><circle cx="483.1" cy="882" r="2.1"/><circle cx="465.1" cy="878.9" r="2.1"/><circle cx="501.5" cy="856.3" r="2.1"/><circle cx="444.2" cy="893.7" r="2.1"/><circle cx="496" cy="861.8" r="2.1"/><circle cx="518.5" cy="843.7" r="2.1"/><circle cx="514.8" cy="856.6" r="2.1"/><circle cx="497.6" cy="866.7" r="2.1"/><circle cx="458.2" cy="886.9" r="2.1"/><circle cx="463.9" cy="886.1" r="2.1"/><circle cx="444.9" cy="906.2" r="2.1"/><circle cx="535" cy="837" r="2.1"/><circle cx="515.1" cy="848.3" r="2.1"/><circle cx="472.6" cy="881.9" r="2.1"/><circle cx="472.3" cy="878.8" r="2.1"/><circle cx="482.3" cy="869.1" r="2.1"/><circle cx="453.1" cy="904.7" r="2.1"/><circle cx="491.4" cy="871.4" r="2.1"/><circle cx="490.7" cy="873.5" r="2.1"/><circle cx="488.6" cy="871" r="2.1"/><circle cx="476.1" cy="885.3" r="2.1"/><circle cx="392.9" cy="936.3" r="2.1"/><circle cx="468.1" cy="882.4" r="2.1"/><circle cx="428.7" cy="901.5" r="2.1"/><circle cx="419.7" cy="920.3" r="2.1"/><circle cx="547.2" cy="827.4" r="2.1"/><circle cx="458.2" cy="884.9" r="2.1"/><circle cx="468.1" cy="878.1" r="2.1"/><circle cx="464.4" cy="878.8" r="2.1"/><circle cx="446.5" cy="900" r="2.1"/><circle cx="526.7" cy="840.9" r="2.1"/><circle cx="414.1" cy="924.6" r="2.1"/><circle cx="489.6" cy="873.8" r="2.1"/><circle cx="454.9" cy="890.5" r="2.1"/><circle cx="515.3" cy="849.3" r="2.1"/><circle cx="501.5" cy="868.6" r="2.1"/><circle cx="476.6" cy="888.7" r="2.1"/><circle cx="425.2" cy="910.1" r="2.1"/><circle cx="499.4" cy="861.6" r="2.1"/><circle cx="505.6" cy="855.7" r="2.1"/><circle cx="495.3" cy="866.2" r="2.1"/><circle cx="464.4" cy="893.3" r="2.1"/><circle cx="494.4" cy="860.5" r="2.1"/><circle cx="448.6" cy="892.4" r="2.1"/><circle cx="481.8" cy="873.7" r="2.1"/><circle cx="485.8" cy="860.1" r="2.1"/><circle cx="776.7" cy="681.4" r="2.1"/><circle cx="698" cy="734.6" r="2.1"/><circle cx="648.4" cy="811.6" r="2.1"/><circle cx="298.4" cy="949.1" r="2.1"/><circle cx="208.3" cy="1045.6" r="2.1"/><circle cx="293.9" cy="985.5" r="2.1"/><circle cx="298.9" cy="992" r="2.1"/><circle cx="456.2" cy="920.5" r="2.1"/><circle cx="628.5" cy="775.5" r="2.1"/><circle cx="648.7" cy="765.3" r="2.1"/><circle cx="316.4" cy="983.9" r="2.1"/><circle cx="379.6" cy="931" r="2.1"/></g><rect x="140.7" y="663.4" width="662.1" height="433.8" fill="none" stroke="#fff" stroke-width="2.93"/><rect x="155.1" y="678.3" width="216.7" height="137.0" rx="5.5" fill="#e5e5e5" fill-opacity="0.8" stroke="#ccc" stroke-opacity="0.8" stroke-width="1.47"/><circle cx="196.8" cy="704.3" r="2.1" fill="#0000ff" fill-opacity="0.55" stroke="#0000ff" stroke-opacity="0.55" stroke-width="1.4"/><circle cx="196.8" cy="746.5" r="2.1" fill="#ff0000" fill-opacity="0.55" stroke="#ff0000" stroke-opacity="0.55" stroke-width="1.4"/><circle cx="196.8" cy="789.5" r="2.1" fill="#008000" fill-opacity="0.55" stroke="#008000" stroke-opacity="0.55" stroke-width="1.4"/><text x="249" y="711.5" fill="#000" font-size="29.0">Bulk</text><text x="249" y="754.2" fill="#000" font-size="29.0">Surface</text><text x="249" y="797.0" fill="#000" font-size="29.0">Cluster</text><g fill="#555" font-size="29.3"><text x="171.6" y="532" text-anchor="middle">−6</text><text x="351.6" y="532" text-anchor="middle">−5</text><text x="531.7" y="532" text-anchor="middle">−4</text><text x="711.8" y="532" text-anchor="middle">−3</text><text x="120" y="480.1" text-anchor="end">−6</text><text x="120" y="362.4" text-anchor="end">−5</text><text x="120" y="244.6" text-anchor="end">−4</text><text x="120" y="126.9" text-anchor="end">−3</text><text x="141.3" y="1139.9" text-anchor="middle">−20</text><text x="306.8" y="1139.9" text-anchor="middle">−10</text><text x="472.3" y="1139.9" text-anchor="middle">0</text><text x="637.8" y="1139.9" text-anchor="middle">10</text><text x="803.3" y="1139.9" text-anchor="middle">20</text><text x="120.8" y="1108.2" text-anchor="end">−20</text><text x="120.8" y="999.7" text-anchor="end">−10</text><text x="120.8" y="891.1" text-anchor="end">0</text><text x="120.8" y="782.5" text-anchor="end">10</text><text x="120.8" y="674" text-anchor="end">20</text></g><g fill="#555" font-size="35.4" text-anchor="middle"><text x="472.4" y="576.6">DFT Energy (eV/atom)</text><text x="472.4" y="1190.9">DFT Force (eV/Å)</text><text transform="translate(57.5 273) rotate(-90)">Predicted Energy (eV/atom)</text><text transform="translate(38.7 880) rotate(-90)">Predicted Force (eV/Å)</text></g><g fill="#000" font-size="42.2" text-anchor="middle"><text x="472.2" y="39.15">(a)</text><text x="472.2" y="646.9">(b)</text></g></svg></body></html>
